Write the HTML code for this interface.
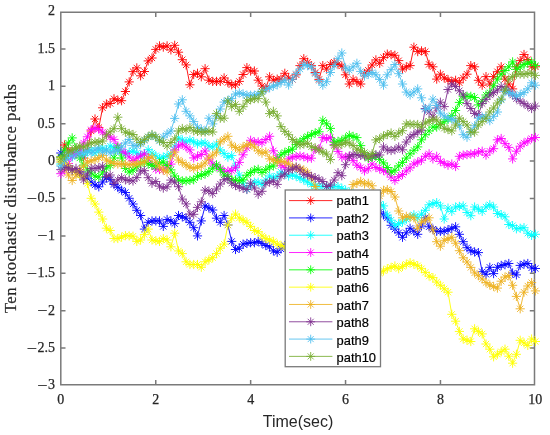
<!DOCTYPE html>
<html><head><meta charset="utf-8"><title>Ten stochastic disturbance paths</title>
<style>
html,body{margin:0;padding:0;background:#fff;}
body{width:550px;height:435px;overflow:hidden;}
svg{display:block;}
.tk{font-family:"Liberation Serif",serif;font-size:14px;fill:#262626;stroke:#262626;stroke-width:0.25px;}
.lg{font-family:"Liberation Sans",sans-serif;font-size:12.9px;fill:#000;stroke:#000;stroke-width:0.2px;}
</style></head><body>
<svg width="550" height="435" viewBox="0 0 550 435">
<rect width="550" height="435" fill="#fff"/>

<g stroke="#7a7a7a" stroke-width="1.5" fill="none">
<path d="M60.8 384.8H534.5V12.2H60.8Z"/>
<path d="M155.75 384.8v-4.7M155.75 12.2v4.7M250.65 384.8v-4.7M250.65 12.2v4.7M345.55 384.8v-4.7M345.55 12.2v4.7M440.45 384.8v-4.7M440.45 12.2v4.7M60.8 48.90h4.7M534.5 48.90h-4.7M60.8 86.30h4.7M534.5 86.30h-4.7M60.8 123.70h4.7M534.5 123.70h-4.7M60.8 161.10h4.7M534.5 161.10h-4.7M60.8 198.50h4.7M534.5 198.50h-4.7M60.8 235.90h4.7M534.5 235.90h-4.7M60.8 273.30h4.7M534.5 273.30h-4.7M60.8 310.70h4.7M534.5 310.70h-4.7M60.8 348.10h4.7M534.5 348.10h-4.7"/>
</g>
<g fill="none" stroke-linejoin="round">
<polyline points="60.9,157.0 64.6,145.0 68.4,150.0 72.2,152.0 76.0,153.6 79.8,155.0 83.6,158.0 87.4,150.0 91.2,131.0 95.0,119.0 98.8,127.6 102.6,107.8 106.4,104.0 110.2,103.5 114.0,98.8 117.8,100.3 121.6,100.7 125.4,91.5 129.2,81.9 133.0,71.6 136.8,67.9 140.6,75.8 144.4,71.5 148.2,60.9 152.0,58.0 155.8,49.4 159.5,45.9 163.3,47.1 167.1,45.9 170.9,49.9 174.7,45.3 178.5,52.2 182.3,59.7 186.1,64.9 189.9,84.8 193.7,74.5 197.5,73.3 201.3,76.8 205.1,68.7 208.9,80.2 212.7,81.4 216.5,81.4 220.3,81.4 224.1,77.9 227.9,82.5 231.7,84.8 235.5,84.8 239.3,81.4 243.1,74.5 246.9,67.6 250.6,71.0 254.4,71.0 258.2,80.2 262.0,86.0 265.8,88.3 269.6,76.8 273.4,80.2 277.2,79.1 281.0,79.1 284.8,73.3 288.6,77.9 292.4,79.4 296.2,74.8 300.0,65.6 303.8,58.7 307.6,62.2 311.4,65.7 315.2,72.5 319.0,79.4 322.8,65.6 326.6,69.1 330.4,64.5 334.2,62.2 338.0,64.1 341.8,66.0 345.6,74.8 349.3,84.0 353.1,79.4 356.9,81.7 360.7,84.0 364.5,73.7 368.3,70.2 372.1,65.0 375.9,59.9 379.7,63.3 383.5,57.6 387.3,54.1 391.1,54.7 394.9,55.3 398.7,60.6 402.5,69.1 406.3,66.8 410.1,65.6 413.9,47.2 417.7,51.6 421.5,50.9 425.3,51.6 429.1,64.4 432.9,66.8 436.7,79.1 440.4,74.2 444.2,77.9 448.0,79.7 451.8,81.5 455.6,80.3 459.4,82.8 463.2,77.9 467.0,74.2 470.8,65.6 474.6,66.8 478.4,80.3 482.2,85.2 486.0,76.6 489.8,84.0 493.6,76.6 497.4,71.7 501.2,66.8 505.0,79.1 508.8,84.0 512.6,88.9 516.4,66.8 520.2,60.6 524.0,54.5 527.8,59.5 531.6,66.8 535.4,66.8" stroke="#ff0000" stroke-width="0.9"/>
<path d="M60.9 152.4v9.2M56.2 157.0h9.2M57.8 153.9l6.2 6.2M57.8 160.1l6.2 -6.2M64.6 140.4v9.2M60.0 145.0h9.2M61.5 141.9l6.2 6.2M61.5 148.1l6.2 -6.2M68.4 145.4v9.2M63.8 150.0h9.2M65.3 146.9l6.2 6.2M65.3 153.1l6.2 -6.2M72.2 147.4v9.2M67.6 152.0h9.2M69.1 148.9l6.2 6.2M69.1 155.1l6.2 -6.2M76.0 149.0v9.2M71.4 153.6h9.2M72.9 150.5l6.2 6.2M72.9 156.7l6.2 -6.2M79.8 150.4v9.2M75.2 155.0h9.2M76.7 151.9l6.2 6.2M76.7 158.1l6.2 -6.2M83.6 153.4v9.2M79.0 158.0h9.2M80.5 154.9l6.2 6.2M80.5 161.1l6.2 -6.2M87.4 145.4v9.2M82.8 150.0h9.2M84.3 146.9l6.2 6.2M84.3 153.1l6.2 -6.2M91.2 126.4v9.2M86.6 131.0h9.2M88.1 127.9l6.2 6.2M88.1 134.1l6.2 -6.2M95.0 114.4v9.2M90.4 119.0h9.2M91.9 115.9l6.2 6.2M91.9 122.1l6.2 -6.2M98.8 123.0v9.2M94.2 127.6h9.2M95.7 124.5l6.2 6.2M95.7 130.7l6.2 -6.2M102.6 103.2v9.2M98.0 107.8h9.2M99.5 104.7l6.2 6.2M99.5 110.9l6.2 -6.2M106.4 99.4v9.2M101.8 104.0h9.2M103.3 100.9l6.2 6.2M103.3 107.1l6.2 -6.2M110.2 98.9v9.2M105.6 103.5h9.2M107.1 100.4l6.2 6.2M107.1 106.6l6.2 -6.2M114.0 94.2v9.2M109.4 98.8h9.2M110.9 95.7l6.2 6.2M110.9 101.9l6.2 -6.2M117.8 95.7v9.2M113.2 100.3h9.2M114.7 97.2l6.2 6.2M114.7 103.4l6.2 -6.2M121.6 96.1v9.2M117.0 100.7h9.2M118.5 97.6l6.2 6.2M118.5 103.8l6.2 -6.2M125.4 86.9v9.2M120.8 91.5h9.2M122.3 88.4l6.2 6.2M122.3 94.6l6.2 -6.2M129.2 77.3v9.2M124.6 81.9h9.2M126.1 78.8l6.2 6.2M126.1 85.0l6.2 -6.2M133.0 67.0v9.2M128.4 71.6h9.2M129.9 68.5l6.2 6.2M129.9 74.7l6.2 -6.2M136.8 63.3v9.2M132.2 67.9h9.2M133.7 64.8l6.2 6.2M133.7 71.0l6.2 -6.2M140.6 71.2v9.2M136.0 75.8h9.2M137.5 72.7l6.2 6.2M137.5 78.9l6.2 -6.2M144.4 66.9v9.2M139.8 71.5h9.2M141.3 68.4l6.2 6.2M141.3 74.6l6.2 -6.2M148.2 56.3v9.2M143.6 60.9h9.2M145.1 57.8l6.2 6.2M145.1 64.0l6.2 -6.2M152.0 53.4v9.2M147.4 58.0h9.2M148.9 54.9l6.2 6.2M148.9 61.1l6.2 -6.2M155.8 44.8v9.2M151.2 49.4h9.2M152.7 46.3l6.2 6.2M152.7 52.5l6.2 -6.2M159.5 41.3v9.2M154.9 45.9h9.2M156.4 42.8l6.2 6.2M156.4 49.0l6.2 -6.2M163.3 42.5v9.2M158.7 47.1h9.2M160.2 44.0l6.2 6.2M160.2 50.2l6.2 -6.2M167.1 41.3v9.2M162.5 45.9h9.2M164.0 42.8l6.2 6.2M164.0 49.0l6.2 -6.2M170.9 45.3v9.2M166.3 49.9h9.2M167.8 46.8l6.2 6.2M167.8 53.0l6.2 -6.2M174.7 40.7v9.2M170.1 45.3h9.2M171.6 42.2l6.2 6.2M171.6 48.4l6.2 -6.2M178.5 47.6v9.2M173.9 52.2h9.2M175.4 49.1l6.2 6.2M175.4 55.3l6.2 -6.2M182.3 55.1v9.2M177.7 59.7h9.2M179.2 56.6l6.2 6.2M179.2 62.8l6.2 -6.2M186.1 60.3v9.2M181.5 64.9h9.2M183.0 61.8l6.2 6.2M183.0 68.0l6.2 -6.2M189.9 80.2v9.2M185.3 84.8h9.2M186.8 81.7l6.2 6.2M186.8 87.9l6.2 -6.2M193.7 69.9v9.2M189.1 74.5h9.2M190.6 71.4l6.2 6.2M190.6 77.6l6.2 -6.2M197.5 68.7v9.2M192.9 73.3h9.2M194.4 70.2l6.2 6.2M194.4 76.4l6.2 -6.2M201.3 72.2v9.2M196.7 76.8h9.2M198.2 73.7l6.2 6.2M198.2 79.9l6.2 -6.2M205.1 64.1v9.2M200.5 68.7h9.2M202.0 65.6l6.2 6.2M202.0 71.8l6.2 -6.2M208.9 75.6v9.2M204.3 80.2h9.2M205.8 77.1l6.2 6.2M205.8 83.3l6.2 -6.2M212.7 76.8v9.2M208.1 81.4h9.2M209.6 78.3l6.2 6.2M209.6 84.5l6.2 -6.2M216.5 76.8v9.2M211.9 81.4h9.2M213.4 78.3l6.2 6.2M213.4 84.5l6.2 -6.2M220.3 76.8v9.2M215.7 81.4h9.2M217.2 78.3l6.2 6.2M217.2 84.5l6.2 -6.2M224.1 73.3v9.2M219.5 77.9h9.2M221.0 74.8l6.2 6.2M221.0 81.0l6.2 -6.2M227.9 77.9v9.2M223.3 82.5h9.2M224.8 79.4l6.2 6.2M224.8 85.6l6.2 -6.2M231.7 80.2v9.2M227.1 84.8h9.2M228.6 81.7l6.2 6.2M228.6 87.9l6.2 -6.2M235.5 80.2v9.2M230.9 84.8h9.2M232.4 81.7l6.2 6.2M232.4 87.9l6.2 -6.2M239.3 76.8v9.2M234.7 81.4h9.2M236.2 78.3l6.2 6.2M236.2 84.5l6.2 -6.2M243.1 69.9v9.2M238.5 74.5h9.2M240.0 71.4l6.2 6.2M240.0 77.6l6.2 -6.2M246.9 63.0v9.2M242.3 67.6h9.2M243.8 64.5l6.2 6.2M243.8 70.7l6.2 -6.2M250.6 66.4v9.2M246.0 71.0h9.2M247.5 67.9l6.2 6.2M247.5 74.1l6.2 -6.2M254.4 66.4v9.2M249.8 71.0h9.2M251.3 67.9l6.2 6.2M251.3 74.1l6.2 -6.2M258.2 75.6v9.2M253.6 80.2h9.2M255.1 77.1l6.2 6.2M255.1 83.3l6.2 -6.2M262.0 81.4v9.2M257.4 86.0h9.2M258.9 82.9l6.2 6.2M258.9 89.1l6.2 -6.2M265.8 83.7v9.2M261.2 88.3h9.2M262.7 85.2l6.2 6.2M262.7 91.4l6.2 -6.2M269.6 72.2v9.2M265.0 76.8h9.2M266.5 73.7l6.2 6.2M266.5 79.9l6.2 -6.2M273.4 75.6v9.2M268.8 80.2h9.2M270.3 77.1l6.2 6.2M270.3 83.3l6.2 -6.2M277.2 74.5v9.2M272.6 79.1h9.2M274.1 76.0l6.2 6.2M274.1 82.2l6.2 -6.2M281.0 74.5v9.2M276.4 79.1h9.2M277.9 76.0l6.2 6.2M277.9 82.2l6.2 -6.2M284.8 68.7v9.2M280.2 73.3h9.2M281.7 70.2l6.2 6.2M281.7 76.4l6.2 -6.2M288.6 73.3v9.2M284.0 77.9h9.2M285.5 74.8l6.2 6.2M285.5 81.0l6.2 -6.2M292.4 74.8v9.2M287.8 79.4h9.2M289.3 76.3l6.2 6.2M289.3 82.5l6.2 -6.2M296.2 70.2v9.2M291.6 74.8h9.2M293.1 71.7l6.2 6.2M293.1 77.9l6.2 -6.2M300.0 61.0v9.2M295.4 65.6h9.2M296.9 62.5l6.2 6.2M296.9 68.7l6.2 -6.2M303.8 54.1v9.2M299.2 58.7h9.2M300.7 55.6l6.2 6.2M300.7 61.8l6.2 -6.2M307.6 57.6v9.2M303.0 62.2h9.2M304.5 59.1l6.2 6.2M304.5 65.3l6.2 -6.2M311.4 61.1v9.2M306.8 65.7h9.2M308.3 62.6l6.2 6.2M308.3 68.8l6.2 -6.2M315.2 67.9v9.2M310.6 72.5h9.2M312.1 69.4l6.2 6.2M312.1 75.6l6.2 -6.2M319.0 74.8v9.2M314.4 79.4h9.2M315.9 76.3l6.2 6.2M315.9 82.5l6.2 -6.2M322.8 61.0v9.2M318.2 65.6h9.2M319.7 62.5l6.2 6.2M319.7 68.7l6.2 -6.2M326.6 64.5v9.2M322.0 69.1h9.2M323.5 66.0l6.2 6.2M323.5 72.2l6.2 -6.2M330.4 59.9v9.2M325.8 64.5h9.2M327.3 61.4l6.2 6.2M327.3 67.6l6.2 -6.2M334.2 57.6v9.2M329.6 62.2h9.2M331.1 59.1l6.2 6.2M331.1 65.3l6.2 -6.2M338.0 59.5v9.2M333.4 64.1h9.2M334.9 61.0l6.2 6.2M334.9 67.2l6.2 -6.2M341.8 61.4v9.2M337.2 66.0h9.2M338.7 62.9l6.2 6.2M338.7 69.1l6.2 -6.2M345.6 70.2v9.2M340.9 74.8h9.2M342.4 71.7l6.2 6.2M342.4 77.9l6.2 -6.2M349.3 79.4v9.2M344.7 84.0h9.2M346.2 80.9l6.2 6.2M346.2 87.1l6.2 -6.2M353.1 74.8v9.2M348.5 79.4h9.2M350.0 76.3l6.2 6.2M350.0 82.5l6.2 -6.2M356.9 77.1v9.2M352.3 81.7h9.2M353.8 78.6l6.2 6.2M353.8 84.8l6.2 -6.2M360.7 79.4v9.2M356.1 84.0h9.2M357.6 80.9l6.2 6.2M357.6 87.1l6.2 -6.2M364.5 69.1v9.2M359.9 73.7h9.2M361.4 70.6l6.2 6.2M361.4 76.8l6.2 -6.2M368.3 65.6v9.2M363.7 70.2h9.2M365.2 67.1l6.2 6.2M365.2 73.3l6.2 -6.2M372.1 60.4v9.2M367.5 65.0h9.2M369.0 61.9l6.2 6.2M369.0 68.1l6.2 -6.2M375.9 55.3v9.2M371.3 59.9h9.2M372.8 56.8l6.2 6.2M372.8 63.0l6.2 -6.2M379.7 58.7v9.2M375.1 63.3h9.2M376.6 60.2l6.2 6.2M376.6 66.4l6.2 -6.2M383.5 53.0v9.2M378.9 57.6h9.2M380.4 54.5l6.2 6.2M380.4 60.7l6.2 -6.2M387.3 49.5v9.2M382.7 54.1h9.2M384.2 51.0l6.2 6.2M384.2 57.2l6.2 -6.2M391.1 50.1v9.2M386.5 54.7h9.2M388.0 51.6l6.2 6.2M388.0 57.8l6.2 -6.2M394.9 50.7v9.2M390.3 55.3h9.2M391.8 52.2l6.2 6.2M391.8 58.4l6.2 -6.2M398.7 56.0v9.2M394.1 60.6h9.2M395.6 57.5l6.2 6.2M395.6 63.8l6.2 -6.2M402.5 64.5v9.2M397.9 69.1h9.2M399.4 66.0l6.2 6.2M399.4 72.2l6.2 -6.2M406.3 62.2v9.2M401.7 66.8h9.2M403.2 63.7l6.2 6.2M403.2 69.9l6.2 -6.2M410.1 61.0v9.2M405.5 65.6h9.2M407.0 62.5l6.2 6.2M407.0 68.7l6.2 -6.2M413.9 42.6v9.2M409.3 47.2h9.2M410.8 44.1l6.2 6.2M410.8 50.3l6.2 -6.2M417.7 47.0v9.2M413.1 51.6h9.2M414.6 48.5l6.2 6.2M414.6 54.7l6.2 -6.2M421.5 46.3v9.2M416.9 50.9h9.2M418.4 47.8l6.2 6.2M418.4 54.0l6.2 -6.2M425.3 47.0v9.2M420.7 51.6h9.2M422.2 48.5l6.2 6.2M422.2 54.7l6.2 -6.2M429.1 59.8v9.2M424.5 64.4h9.2M426.0 61.3l6.2 6.2M426.0 67.5l6.2 -6.2M432.9 62.2v9.2M428.3 66.8h9.2M429.8 63.7l6.2 6.2M429.8 69.9l6.2 -6.2M436.7 74.5v9.2M432.1 79.1h9.2M433.6 76.0l6.2 6.2M433.6 82.2l6.2 -6.2M440.4 69.6v9.2M435.8 74.2h9.2M437.3 71.1l6.2 6.2M437.3 77.3l6.2 -6.2M444.2 73.3v9.2M439.6 77.9h9.2M441.1 74.8l6.2 6.2M441.1 81.0l6.2 -6.2M448.0 75.1v9.2M443.4 79.7h9.2M444.9 76.6l6.2 6.2M444.9 82.8l6.2 -6.2M451.8 76.9v9.2M447.2 81.5h9.2M448.7 78.4l6.2 6.2M448.7 84.6l6.2 -6.2M455.6 75.7v9.2M451.0 80.3h9.2M452.5 77.2l6.2 6.2M452.5 83.4l6.2 -6.2M459.4 78.2v9.2M454.8 82.8h9.2M456.3 79.7l6.2 6.2M456.3 85.9l6.2 -6.2M463.2 73.3v9.2M458.6 77.9h9.2M460.1 74.8l6.2 6.2M460.1 81.0l6.2 -6.2M467.0 69.6v9.2M462.4 74.2h9.2M463.9 71.1l6.2 6.2M463.9 77.3l6.2 -6.2M470.8 61.0v9.2M466.2 65.6h9.2M467.7 62.5l6.2 6.2M467.7 68.7l6.2 -6.2M474.6 62.2v9.2M470.0 66.8h9.2M471.5 63.7l6.2 6.2M471.5 69.9l6.2 -6.2M478.4 75.7v9.2M473.8 80.3h9.2M475.3 77.2l6.2 6.2M475.3 83.4l6.2 -6.2M482.2 80.6v9.2M477.6 85.2h9.2M479.1 82.1l6.2 6.2M479.1 88.3l6.2 -6.2M486.0 72.0v9.2M481.4 76.6h9.2M482.9 73.5l6.2 6.2M482.9 79.7l6.2 -6.2M489.8 79.4v9.2M485.2 84.0h9.2M486.7 80.9l6.2 6.2M486.7 87.1l6.2 -6.2M493.6 72.0v9.2M489.0 76.6h9.2M490.5 73.5l6.2 6.2M490.5 79.7l6.2 -6.2M497.4 67.1v9.2M492.8 71.7h9.2M494.3 68.6l6.2 6.2M494.3 74.8l6.2 -6.2M501.2 62.2v9.2M496.6 66.8h9.2M498.1 63.7l6.2 6.2M498.1 69.9l6.2 -6.2M505.0 74.5v9.2M500.4 79.1h9.2M501.9 76.0l6.2 6.2M501.9 82.2l6.2 -6.2M508.8 79.4v9.2M504.2 84.0h9.2M505.7 80.9l6.2 6.2M505.7 87.1l6.2 -6.2M512.6 84.3v9.2M508.0 88.9h9.2M509.5 85.8l6.2 6.2M509.5 92.0l6.2 -6.2M516.4 62.2v9.2M511.8 66.8h9.2M513.3 63.7l6.2 6.2M513.3 69.9l6.2 -6.2M520.2 56.0v9.2M515.6 60.6h9.2M517.1 57.5l6.2 6.2M517.1 63.8l6.2 -6.2M524.0 49.9v9.2M519.4 54.5h9.2M520.9 51.4l6.2 6.2M520.9 57.6l6.2 -6.2M527.8 54.9v9.2M523.2 59.5h9.2M524.7 56.4l6.2 6.2M524.7 62.6l6.2 -6.2M531.6 62.2v9.2M527.0 66.8h9.2M528.5 63.7l6.2 6.2M528.5 69.9l6.2 -6.2M535.4 62.2v9.2M530.8 66.8h9.2M532.2 63.7l6.2 6.2M532.2 69.9l6.2 -6.2" stroke="#ff0000" stroke-width="0.9"/>
<polyline points="60.9,153.0 64.6,160.0 68.4,166.0 72.2,170.0 76.0,172.0 79.8,174.0 83.6,176.0 87.4,178.0 91.2,182.0 95.0,185.0 98.8,186.8 102.6,182.0 106.4,177.6 110.2,179.4 114.0,184.5 117.8,187.3 121.6,190.2 125.4,192.5 129.2,198.3 133.0,204.0 136.8,210.3 140.6,215.5 144.4,229.1 148.2,222.3 152.0,220.9 155.8,220.9 159.5,220.9 163.3,226.4 167.1,219.5 170.9,221.0 174.7,223.6 178.5,215.5 182.3,216.8 186.1,218.2 189.9,222.3 193.7,227.7 197.5,235.9 201.3,220.9 205.1,205.9 208.9,207.9 212.7,210.0 216.5,218.2 220.3,222.3 224.1,215.5 227.9,225.0 231.7,241.4 235.5,249.5 239.3,248.2 243.1,244.1 246.9,243.4 250.6,242.7 254.4,242.7 258.2,241.4 262.0,243.4 265.8,245.5 269.6,246.8 273.4,250.9 277.2,252.3 281.0,248.9 284.8,245.5 288.6,244.1 292.4,242.8 296.2,241.4 300.0,240.0 303.8,238.4 307.6,236.8 311.4,235.2 315.2,233.6 319.0,232.0 322.8,231.3 326.6,230.7 330.4,230.0 334.2,229.3 338.0,228.7 341.8,228.0 345.6,226.8 349.3,225.6 353.1,224.4 356.9,223.2 360.7,222.0 364.5,220.0 368.3,218.0 372.1,215.9 375.9,213.9 379.7,211.9 383.5,214.9 387.3,218.0 391.1,225.3 394.9,229.1 398.7,232.8 402.5,237.3 406.3,232.8 410.1,228.3 413.9,231.3 417.7,234.3 421.5,226.0 425.3,217.8 429.1,226.8 432.9,229.1 436.7,231.3 440.4,231.3 444.2,231.3 448.0,229.8 451.8,228.3 455.6,226.8 459.4,234.3 463.2,241.7 467.0,247.7 470.8,250.7 474.6,252.0 478.4,252.6 482.2,271.7 486.0,274.3 489.8,267.3 493.6,273.6 497.4,267.3 501.2,265.4 505.0,264.7 508.8,263.5 512.6,273.0 516.4,274.9 520.2,265.4 524.0,264.1 527.8,263.5 531.6,267.9 535.4,268.5" stroke="#0000ff" stroke-width="0.9"/>
<path d="M60.9 148.4v9.2M56.2 153.0h9.2M57.8 149.9l6.2 6.2M57.8 156.1l6.2 -6.2M64.6 155.4v9.2M60.0 160.0h9.2M61.5 156.9l6.2 6.2M61.5 163.1l6.2 -6.2M68.4 161.4v9.2M63.8 166.0h9.2M65.3 162.9l6.2 6.2M65.3 169.1l6.2 -6.2M72.2 165.4v9.2M67.6 170.0h9.2M69.1 166.9l6.2 6.2M69.1 173.1l6.2 -6.2M76.0 167.4v9.2M71.4 172.0h9.2M72.9 168.9l6.2 6.2M72.9 175.1l6.2 -6.2M79.8 169.4v9.2M75.2 174.0h9.2M76.7 170.9l6.2 6.2M76.7 177.1l6.2 -6.2M83.6 171.4v9.2M79.0 176.0h9.2M80.5 172.9l6.2 6.2M80.5 179.1l6.2 -6.2M87.4 173.4v9.2M82.8 178.0h9.2M84.3 174.9l6.2 6.2M84.3 181.1l6.2 -6.2M91.2 177.4v9.2M86.6 182.0h9.2M88.1 178.9l6.2 6.2M88.1 185.1l6.2 -6.2M95.0 180.4v9.2M90.4 185.0h9.2M91.9 181.9l6.2 6.2M91.9 188.1l6.2 -6.2M98.8 182.2v9.2M94.2 186.8h9.2M95.7 183.7l6.2 6.2M95.7 189.9l6.2 -6.2M102.6 177.4v9.2M98.0 182.0h9.2M99.5 178.9l6.2 6.2M99.5 185.1l6.2 -6.2M106.4 173.0v9.2M101.8 177.6h9.2M103.3 174.5l6.2 6.2M103.3 180.7l6.2 -6.2M110.2 174.8v9.2M105.6 179.4h9.2M107.1 176.3l6.2 6.2M107.1 182.5l6.2 -6.2M114.0 179.9v9.2M109.4 184.5h9.2M110.9 181.4l6.2 6.2M110.9 187.6l6.2 -6.2M117.8 182.8v9.2M113.2 187.3h9.2M114.7 184.2l6.2 6.2M114.7 190.4l6.2 -6.2M121.6 185.6v9.2M117.0 190.2h9.2M118.5 187.1l6.2 6.2M118.5 193.3l6.2 -6.2M125.4 187.9v9.2M120.8 192.5h9.2M122.3 189.4l6.2 6.2M122.3 195.6l6.2 -6.2M129.2 193.7v9.2M124.6 198.3h9.2M126.1 195.2l6.2 6.2M126.1 201.4l6.2 -6.2M133.0 199.4v9.2M128.4 204.0h9.2M129.9 200.9l6.2 6.2M129.9 207.1l6.2 -6.2M136.8 205.8v9.2M132.2 210.3h9.2M133.7 207.2l6.2 6.2M133.7 213.4l6.2 -6.2M140.6 210.9v9.2M136.0 215.5h9.2M137.5 212.4l6.2 6.2M137.5 218.6l6.2 -6.2M144.4 224.5v9.2M139.8 229.1h9.2M141.3 226.0l6.2 6.2M141.3 232.2l6.2 -6.2M148.2 217.7v9.2M143.6 222.3h9.2M145.1 219.2l6.2 6.2M145.1 225.4l6.2 -6.2M152.0 216.3v9.2M147.4 220.9h9.2M148.9 217.8l6.2 6.2M148.9 224.0l6.2 -6.2M155.8 216.3v9.2M151.2 220.9h9.2M152.7 217.8l6.2 6.2M152.7 224.0l6.2 -6.2M159.5 216.3v9.2M154.9 220.9h9.2M156.4 217.8l6.2 6.2M156.4 224.0l6.2 -6.2M163.3 221.8v9.2M158.7 226.4h9.2M160.2 223.3l6.2 6.2M160.2 229.5l6.2 -6.2M167.1 214.9v9.2M162.5 219.5h9.2M164.0 216.4l6.2 6.2M164.0 222.6l6.2 -6.2M170.9 216.4v9.2M166.3 221.0h9.2M167.8 217.9l6.2 6.2M167.8 224.1l6.2 -6.2M174.7 219.0v9.2M170.1 223.6h9.2M171.6 220.5l6.2 6.2M171.6 226.7l6.2 -6.2M178.5 210.9v9.2M173.9 215.5h9.2M175.4 212.4l6.2 6.2M175.4 218.6l6.2 -6.2M182.3 212.2v9.2M177.7 216.8h9.2M179.2 213.8l6.2 6.2M179.2 219.9l6.2 -6.2M186.1 213.6v9.2M181.5 218.2h9.2M183.0 215.1l6.2 6.2M183.0 221.3l6.2 -6.2M189.9 217.7v9.2M185.3 222.3h9.2M186.8 219.2l6.2 6.2M186.8 225.4l6.2 -6.2M193.7 223.1v9.2M189.1 227.7h9.2M190.6 224.6l6.2 6.2M190.6 230.8l6.2 -6.2M197.5 231.3v9.2M192.9 235.9h9.2M194.4 232.8l6.2 6.2M194.4 239.0l6.2 -6.2M201.3 216.3v9.2M196.7 220.9h9.2M198.2 217.8l6.2 6.2M198.2 224.0l6.2 -6.2M205.1 201.3v9.2M200.5 205.9h9.2M202.0 202.8l6.2 6.2M202.0 209.0l6.2 -6.2M208.9 203.3v9.2M204.3 207.9h9.2M205.8 204.8l6.2 6.2M205.8 211.0l6.2 -6.2M212.7 205.4v9.2M208.1 210.0h9.2M209.6 206.9l6.2 6.2M209.6 213.1l6.2 -6.2M216.5 213.6v9.2M211.9 218.2h9.2M213.4 215.1l6.2 6.2M213.4 221.3l6.2 -6.2M220.3 217.7v9.2M215.7 222.3h9.2M217.2 219.2l6.2 6.2M217.2 225.4l6.2 -6.2M224.1 210.9v9.2M219.5 215.5h9.2M221.0 212.4l6.2 6.2M221.0 218.6l6.2 -6.2M227.9 220.4v9.2M223.3 225.0h9.2M224.8 221.9l6.2 6.2M224.8 228.1l6.2 -6.2M231.7 236.8v9.2M227.1 241.4h9.2M228.6 238.3l6.2 6.2M228.6 244.5l6.2 -6.2M235.5 244.9v9.2M230.9 249.5h9.2M232.4 246.4l6.2 6.2M232.4 252.6l6.2 -6.2M239.3 243.6v9.2M234.7 248.2h9.2M236.2 245.1l6.2 6.2M236.2 251.3l6.2 -6.2M243.1 239.5v9.2M238.5 244.1h9.2M240.0 241.0l6.2 6.2M240.0 247.2l6.2 -6.2M246.9 238.8v9.2M242.3 243.4h9.2M243.8 240.3l6.2 6.2M243.8 246.5l6.2 -6.2M250.6 238.1v9.2M246.0 242.7h9.2M247.5 239.6l6.2 6.2M247.5 245.8l6.2 -6.2M254.4 238.1v9.2M249.8 242.7h9.2M251.3 239.6l6.2 6.2M251.3 245.8l6.2 -6.2M258.2 236.8v9.2M253.6 241.4h9.2M255.1 238.3l6.2 6.2M255.1 244.5l6.2 -6.2M262.0 238.8v9.2M257.4 243.4h9.2M258.9 240.3l6.2 6.2M258.9 246.5l6.2 -6.2M265.8 240.9v9.2M261.2 245.5h9.2M262.7 242.4l6.2 6.2M262.7 248.6l6.2 -6.2M269.6 242.2v9.2M265.0 246.8h9.2M266.5 243.7l6.2 6.2M266.5 249.9l6.2 -6.2M273.4 246.3v9.2M268.8 250.9h9.2M270.3 247.8l6.2 6.2M270.3 254.0l6.2 -6.2M277.2 247.7v9.2M272.6 252.3h9.2M274.1 249.2l6.2 6.2M274.1 255.4l6.2 -6.2M281.0 244.3v9.2M276.4 248.9h9.2M277.9 245.8l6.2 6.2M277.9 252.0l6.2 -6.2M284.8 240.9v9.2M280.2 245.5h9.2M281.7 242.4l6.2 6.2M281.7 248.6l6.2 -6.2M288.6 239.5v9.2M284.0 244.1h9.2M285.5 241.0l6.2 6.2M285.5 247.2l6.2 -6.2M292.4 238.2v9.2M287.8 242.8h9.2M289.3 239.7l6.2 6.2M289.3 245.8l6.2 -6.2M296.2 236.8v9.2M291.6 241.4h9.2M293.1 238.3l6.2 6.2M293.1 244.5l6.2 -6.2M300.0 235.4v9.2M295.4 240.0h9.2M296.9 236.9l6.2 6.2M296.9 243.1l6.2 -6.2M303.8 233.8v9.2M299.2 238.4h9.2M300.7 235.3l6.2 6.2M300.7 241.5l6.2 -6.2M307.6 232.2v9.2M303.0 236.8h9.2M304.5 233.7l6.2 6.2M304.5 239.9l6.2 -6.2M311.4 230.6v9.2M306.8 235.2h9.2M308.3 232.1l6.2 6.2M308.3 238.3l6.2 -6.2M315.2 229.0v9.2M310.6 233.6h9.2M312.1 230.5l6.2 6.2M312.1 236.7l6.2 -6.2M319.0 227.4v9.2M314.4 232.0h9.2M315.9 228.9l6.2 6.2M315.9 235.1l6.2 -6.2M322.8 226.7v9.2M318.2 231.3h9.2M319.7 228.2l6.2 6.2M319.7 234.4l6.2 -6.2M326.6 226.1v9.2M322.0 230.7h9.2M323.5 227.6l6.2 6.2M323.5 233.8l6.2 -6.2M330.4 225.4v9.2M325.8 230.0h9.2M327.3 226.9l6.2 6.2M327.3 233.1l6.2 -6.2M334.2 224.7v9.2M329.6 229.3h9.2M331.1 226.2l6.2 6.2M331.1 232.4l6.2 -6.2M338.0 224.1v9.2M333.4 228.7h9.2M334.9 225.6l6.2 6.2M334.9 231.8l6.2 -6.2M341.8 223.4v9.2M337.2 228.0h9.2M338.7 224.9l6.2 6.2M338.7 231.1l6.2 -6.2M345.6 222.2v9.2M340.9 226.8h9.2M342.4 223.7l6.2 6.2M342.4 229.9l6.2 -6.2M349.3 221.0v9.2M344.7 225.6h9.2M346.2 222.5l6.2 6.2M346.2 228.7l6.2 -6.2M353.1 219.8v9.2M348.5 224.4h9.2M350.0 221.3l6.2 6.2M350.0 227.5l6.2 -6.2M356.9 218.6v9.2M352.3 223.2h9.2M353.8 220.1l6.2 6.2M353.8 226.3l6.2 -6.2M360.7 217.4v9.2M356.1 222.0h9.2M357.6 218.9l6.2 6.2M357.6 225.1l6.2 -6.2M364.5 215.4v9.2M359.9 220.0h9.2M361.4 216.9l6.2 6.2M361.4 223.1l6.2 -6.2M368.3 213.4v9.2M363.7 218.0h9.2M365.2 214.9l6.2 6.2M365.2 221.1l6.2 -6.2M372.1 211.3v9.2M367.5 215.9h9.2M369.0 212.8l6.2 6.2M369.0 219.0l6.2 -6.2M375.9 209.3v9.2M371.3 213.9h9.2M372.8 210.8l6.2 6.2M372.8 217.0l6.2 -6.2M379.7 207.3v9.2M375.1 211.9h9.2M376.6 208.8l6.2 6.2M376.6 215.0l6.2 -6.2M383.5 210.3v9.2M378.9 214.9h9.2M380.4 211.8l6.2 6.2M380.4 218.0l6.2 -6.2M387.3 213.4v9.2M382.7 218.0h9.2M384.2 214.9l6.2 6.2M384.2 221.1l6.2 -6.2M391.1 220.7v9.2M386.5 225.3h9.2M388.0 222.2l6.2 6.2M388.0 228.4l6.2 -6.2M394.9 224.5v9.2M390.3 229.1h9.2M391.8 226.0l6.2 6.2M391.8 232.2l6.2 -6.2M398.7 228.2v9.2M394.1 232.8h9.2M395.6 229.7l6.2 6.2M395.6 235.9l6.2 -6.2M402.5 232.7v9.2M397.9 237.3h9.2M399.4 234.2l6.2 6.2M399.4 240.4l6.2 -6.2M406.3 228.2v9.2M401.7 232.8h9.2M403.2 229.7l6.2 6.2M403.2 235.9l6.2 -6.2M410.1 223.7v9.2M405.5 228.3h9.2M407.0 225.2l6.2 6.2M407.0 231.4l6.2 -6.2M413.9 226.7v9.2M409.3 231.3h9.2M410.8 228.2l6.2 6.2M410.8 234.4l6.2 -6.2M417.7 229.7v9.2M413.1 234.3h9.2M414.6 231.2l6.2 6.2M414.6 237.4l6.2 -6.2M421.5 221.4v9.2M416.9 226.0h9.2M418.4 222.9l6.2 6.2M418.4 229.1l6.2 -6.2M425.3 213.2v9.2M420.7 217.8h9.2M422.2 214.7l6.2 6.2M422.2 220.9l6.2 -6.2M429.1 222.2v9.2M424.5 226.8h9.2M426.0 223.7l6.2 6.2M426.0 229.9l6.2 -6.2M432.9 224.5v9.2M428.3 229.1h9.2M429.8 226.0l6.2 6.2M429.8 232.2l6.2 -6.2M436.7 226.7v9.2M432.1 231.3h9.2M433.6 228.2l6.2 6.2M433.6 234.4l6.2 -6.2M440.4 226.7v9.2M435.8 231.3h9.2M437.3 228.2l6.2 6.2M437.3 234.4l6.2 -6.2M444.2 226.7v9.2M439.6 231.3h9.2M441.1 228.2l6.2 6.2M441.1 234.4l6.2 -6.2M448.0 225.2v9.2M443.4 229.8h9.2M444.9 226.7l6.2 6.2M444.9 232.9l6.2 -6.2M451.8 223.7v9.2M447.2 228.3h9.2M448.7 225.2l6.2 6.2M448.7 231.4l6.2 -6.2M455.6 222.2v9.2M451.0 226.8h9.2M452.5 223.7l6.2 6.2M452.5 229.9l6.2 -6.2M459.4 229.7v9.2M454.8 234.3h9.2M456.3 231.2l6.2 6.2M456.3 237.4l6.2 -6.2M463.2 237.1v9.2M458.6 241.7h9.2M460.1 238.6l6.2 6.2M460.1 244.8l6.2 -6.2M467.0 243.1v9.2M462.4 247.7h9.2M463.9 244.6l6.2 6.2M463.9 250.8l6.2 -6.2M470.8 246.1v9.2M466.2 250.7h9.2M467.7 247.6l6.2 6.2M467.7 253.8l6.2 -6.2M474.6 247.4v9.2M470.0 252.0h9.2M471.5 248.9l6.2 6.2M471.5 255.1l6.2 -6.2M478.4 248.0v9.2M473.8 252.6h9.2M475.3 249.5l6.2 6.2M475.3 255.7l6.2 -6.2M482.2 267.1v9.2M477.6 271.7h9.2M479.1 268.6l6.2 6.2M479.1 274.8l6.2 -6.2M486.0 269.7v9.2M481.4 274.3h9.2M482.9 271.2l6.2 6.2M482.9 277.4l6.2 -6.2M489.8 262.7v9.2M485.2 267.3h9.2M486.7 264.2l6.2 6.2M486.7 270.4l6.2 -6.2M493.6 269.0v9.2M489.0 273.6h9.2M490.5 270.5l6.2 6.2M490.5 276.7l6.2 -6.2M497.4 262.7v9.2M492.8 267.3h9.2M494.3 264.2l6.2 6.2M494.3 270.4l6.2 -6.2M501.2 260.8v9.2M496.6 265.4h9.2M498.1 262.3l6.2 6.2M498.1 268.5l6.2 -6.2M505.0 260.1v9.2M500.4 264.7h9.2M501.9 261.6l6.2 6.2M501.9 267.8l6.2 -6.2M508.8 258.9v9.2M504.2 263.5h9.2M505.7 260.4l6.2 6.2M505.7 266.6l6.2 -6.2M512.6 268.4v9.2M508.0 273.0h9.2M509.5 269.9l6.2 6.2M509.5 276.1l6.2 -6.2M516.4 270.3v9.2M511.8 274.9h9.2M513.3 271.8l6.2 6.2M513.3 278.0l6.2 -6.2M520.2 260.8v9.2M515.6 265.4h9.2M517.1 262.3l6.2 6.2M517.1 268.5l6.2 -6.2M524.0 259.5v9.2M519.4 264.1h9.2M520.9 261.0l6.2 6.2M520.9 267.2l6.2 -6.2M527.8 258.9v9.2M523.2 263.5h9.2M524.7 260.4l6.2 6.2M524.7 266.6l6.2 -6.2M531.6 263.3v9.2M527.0 267.9h9.2M528.5 264.8l6.2 6.2M528.5 271.0l6.2 -6.2M535.4 263.9v9.2M530.8 268.5h9.2M532.2 265.4l6.2 6.2M532.2 271.6l6.2 -6.2" stroke="#0000ff" stroke-width="0.9"/>
<polyline points="60.9,164.0 64.6,158.0 68.4,155.0 72.2,157.0 76.0,154.0 79.8,152.0 83.6,155.0 87.4,152.0 91.2,150.0 95.0,153.0 98.8,150.0 102.6,148.0 106.4,150.0 110.2,146.0 114.0,148.0 117.8,150.0 121.6,152.0 125.4,154.1 129.2,152.0 133.0,151.0 136.8,153.0 140.6,155.0 144.4,154.1 148.2,149.7 152.0,153.0 155.8,155.8 159.5,158.5 163.3,157.0 167.1,156.0 170.9,154.0 174.7,147.0 178.5,138.0 182.3,140.0 186.1,142.0 189.9,140.0 193.7,141.8 197.5,144.0 201.3,143.0 205.1,143.0 208.9,146.0 212.7,147.0 216.5,144.1 220.3,150.0 224.1,153.6 227.9,157.2 231.7,155.6 235.5,166.0 239.3,175.2 243.1,183.2 246.9,189.0 250.6,185.6 254.4,182.2 258.2,182.1 262.0,184.6 265.8,180.0 269.6,176.0 273.4,178.0 277.2,176.0 281.0,172.0 284.8,174.0 288.6,176.0 292.4,175.0 296.2,176.4 300.0,178.2 303.8,180.0 307.6,182.0 311.4,184.4 315.2,186.0 319.0,186.2 322.8,186.5 326.6,186.8 330.4,187.0 334.2,186.8 338.0,186.5 341.8,188.3 345.6,190.2 349.3,192.0 353.1,193.5 356.9,195.0 360.7,196.5 364.5,198.0 368.3,199.6 372.1,201.2 375.9,202.7 379.7,204.3 383.5,205.9 387.3,215.0 391.1,220.2 394.9,225.3 398.7,223.7 402.5,222.0 406.3,219.3 410.1,217.1 413.9,214.8 417.7,217.8 421.5,214.1 425.3,210.3 429.1,204.8 432.9,203.7 436.7,202.6 440.4,205.9 444.2,219.0 448.0,208.1 451.8,211.4 455.6,207.0 459.4,206.4 463.2,205.9 467.0,212.5 470.8,215.7 474.6,207.0 478.4,209.2 482.2,211.4 486.0,207.0 489.8,204.8 493.6,207.0 497.4,213.5 501.2,214.6 505.0,216.8 508.8,224.5 512.6,225.6 516.4,228.8 520.2,228.2 524.0,227.7 527.8,233.2 531.6,235.4 535.4,234.3" stroke="#00ffff" stroke-width="0.9"/>
<path d="M60.9 159.4v9.2M56.2 164.0h9.2M57.8 160.9l6.2 6.2M57.8 167.1l6.2 -6.2M64.6 153.4v9.2M60.0 158.0h9.2M61.5 154.9l6.2 6.2M61.5 161.1l6.2 -6.2M68.4 150.4v9.2M63.8 155.0h9.2M65.3 151.9l6.2 6.2M65.3 158.1l6.2 -6.2M72.2 152.4v9.2M67.6 157.0h9.2M69.1 153.9l6.2 6.2M69.1 160.1l6.2 -6.2M76.0 149.4v9.2M71.4 154.0h9.2M72.9 150.9l6.2 6.2M72.9 157.1l6.2 -6.2M79.8 147.4v9.2M75.2 152.0h9.2M76.7 148.9l6.2 6.2M76.7 155.1l6.2 -6.2M83.6 150.4v9.2M79.0 155.0h9.2M80.5 151.9l6.2 6.2M80.5 158.1l6.2 -6.2M87.4 147.4v9.2M82.8 152.0h9.2M84.3 148.9l6.2 6.2M84.3 155.1l6.2 -6.2M91.2 145.4v9.2M86.6 150.0h9.2M88.1 146.9l6.2 6.2M88.1 153.1l6.2 -6.2M95.0 148.4v9.2M90.4 153.0h9.2M91.9 149.9l6.2 6.2M91.9 156.1l6.2 -6.2M98.8 145.4v9.2M94.2 150.0h9.2M95.7 146.9l6.2 6.2M95.7 153.1l6.2 -6.2M102.6 143.4v9.2M98.0 148.0h9.2M99.5 144.9l6.2 6.2M99.5 151.1l6.2 -6.2M106.4 145.4v9.2M101.8 150.0h9.2M103.3 146.9l6.2 6.2M103.3 153.1l6.2 -6.2M110.2 141.4v9.2M105.6 146.0h9.2M107.1 142.9l6.2 6.2M107.1 149.1l6.2 -6.2M114.0 143.4v9.2M109.4 148.0h9.2M110.9 144.9l6.2 6.2M110.9 151.1l6.2 -6.2M117.8 145.4v9.2M113.2 150.0h9.2M114.7 146.9l6.2 6.2M114.7 153.1l6.2 -6.2M121.6 147.4v9.2M117.0 152.0h9.2M118.5 148.9l6.2 6.2M118.5 155.1l6.2 -6.2M125.4 149.5v9.2M120.8 154.1h9.2M122.3 151.0l6.2 6.2M122.3 157.2l6.2 -6.2M129.2 147.4v9.2M124.6 152.0h9.2M126.1 148.9l6.2 6.2M126.1 155.1l6.2 -6.2M133.0 146.4v9.2M128.4 151.0h9.2M129.9 147.9l6.2 6.2M129.9 154.1l6.2 -6.2M136.8 148.4v9.2M132.2 153.0h9.2M133.7 149.9l6.2 6.2M133.7 156.1l6.2 -6.2M140.6 150.4v9.2M136.0 155.0h9.2M137.5 151.9l6.2 6.2M137.5 158.1l6.2 -6.2M144.4 149.5v9.2M139.8 154.1h9.2M141.3 151.0l6.2 6.2M141.3 157.2l6.2 -6.2M148.2 145.1v9.2M143.6 149.7h9.2M145.1 146.6l6.2 6.2M145.1 152.8l6.2 -6.2M152.0 148.4v9.2M147.4 153.0h9.2M148.9 149.9l6.2 6.2M148.9 156.1l6.2 -6.2M155.8 151.2v9.2M151.2 155.8h9.2M152.7 152.7l6.2 6.2M152.7 158.8l6.2 -6.2M159.5 153.9v9.2M154.9 158.5h9.2M156.4 155.4l6.2 6.2M156.4 161.6l6.2 -6.2M163.3 152.4v9.2M158.7 157.0h9.2M160.2 153.9l6.2 6.2M160.2 160.1l6.2 -6.2M167.1 151.4v9.2M162.5 156.0h9.2M164.0 152.9l6.2 6.2M164.0 159.1l6.2 -6.2M170.9 149.4v9.2M166.3 154.0h9.2M167.8 150.9l6.2 6.2M167.8 157.1l6.2 -6.2M174.7 142.4v9.2M170.1 147.0h9.2M171.6 143.9l6.2 6.2M171.6 150.1l6.2 -6.2M178.5 133.4v9.2M173.9 138.0h9.2M175.4 134.9l6.2 6.2M175.4 141.1l6.2 -6.2M182.3 135.4v9.2M177.7 140.0h9.2M179.2 136.9l6.2 6.2M179.2 143.1l6.2 -6.2M186.1 137.4v9.2M181.5 142.0h9.2M183.0 138.9l6.2 6.2M183.0 145.1l6.2 -6.2M189.9 135.4v9.2M185.3 140.0h9.2M186.8 136.9l6.2 6.2M186.8 143.1l6.2 -6.2M193.7 137.2v9.2M189.1 141.8h9.2M190.6 138.7l6.2 6.2M190.6 144.9l6.2 -6.2M197.5 139.4v9.2M192.9 144.0h9.2M194.4 140.9l6.2 6.2M194.4 147.1l6.2 -6.2M201.3 138.4v9.2M196.7 143.0h9.2M198.2 139.9l6.2 6.2M198.2 146.1l6.2 -6.2M205.1 138.4v9.2M200.5 143.0h9.2M202.0 139.9l6.2 6.2M202.0 146.1l6.2 -6.2M208.9 141.4v9.2M204.3 146.0h9.2M205.8 142.9l6.2 6.2M205.8 149.1l6.2 -6.2M212.7 142.4v9.2M208.1 147.0h9.2M209.6 143.9l6.2 6.2M209.6 150.1l6.2 -6.2M216.5 139.5v9.2M211.9 144.1h9.2M213.4 141.0l6.2 6.2M213.4 147.2l6.2 -6.2M220.3 145.4v9.2M215.7 150.0h9.2M217.2 146.9l6.2 6.2M217.2 153.1l6.2 -6.2M224.1 149.0v9.2M219.5 153.6h9.2M221.0 150.5l6.2 6.2M221.0 156.7l6.2 -6.2M227.9 152.6v9.2M223.3 157.2h9.2M224.8 154.1l6.2 6.2M224.8 160.3l6.2 -6.2M231.7 151.0v9.2M227.1 155.6h9.2M228.6 152.5l6.2 6.2M228.6 158.7l6.2 -6.2M235.5 161.4v9.2M230.9 166.0h9.2M232.4 162.9l6.2 6.2M232.4 169.1l6.2 -6.2M239.3 170.6v9.2M234.7 175.2h9.2M236.2 172.1l6.2 6.2M236.2 178.3l6.2 -6.2M243.1 178.6v9.2M238.5 183.2h9.2M240.0 180.1l6.2 6.2M240.0 186.3l6.2 -6.2M246.9 184.4v9.2M242.3 189.0h9.2M243.8 185.9l6.2 6.2M243.8 192.1l6.2 -6.2M250.6 181.0v9.2M246.0 185.6h9.2M247.5 182.5l6.2 6.2M247.5 188.7l6.2 -6.2M254.4 177.6v9.2M249.8 182.2h9.2M251.3 179.1l6.2 6.2M251.3 185.3l6.2 -6.2M258.2 177.5v9.2M253.6 182.1h9.2M255.1 179.0l6.2 6.2M255.1 185.2l6.2 -6.2M262.0 180.0v9.2M257.4 184.6h9.2M258.9 181.5l6.2 6.2M258.9 187.7l6.2 -6.2M265.8 175.4v9.2M261.2 180.0h9.2M262.7 176.9l6.2 6.2M262.7 183.1l6.2 -6.2M269.6 171.4v9.2M265.0 176.0h9.2M266.5 172.9l6.2 6.2M266.5 179.1l6.2 -6.2M273.4 173.4v9.2M268.8 178.0h9.2M270.3 174.9l6.2 6.2M270.3 181.1l6.2 -6.2M277.2 171.4v9.2M272.6 176.0h9.2M274.1 172.9l6.2 6.2M274.1 179.1l6.2 -6.2M281.0 167.4v9.2M276.4 172.0h9.2M277.9 168.9l6.2 6.2M277.9 175.1l6.2 -6.2M284.8 169.4v9.2M280.2 174.0h9.2M281.7 170.9l6.2 6.2M281.7 177.1l6.2 -6.2M288.6 171.4v9.2M284.0 176.0h9.2M285.5 172.9l6.2 6.2M285.5 179.1l6.2 -6.2M292.4 170.4v9.2M287.8 175.0h9.2M289.3 171.9l6.2 6.2M289.3 178.1l6.2 -6.2M296.2 171.8v9.2M291.6 176.4h9.2M293.1 173.3l6.2 6.2M293.1 179.5l6.2 -6.2M300.0 173.6v9.2M295.4 178.2h9.2M296.9 175.1l6.2 6.2M296.9 181.3l6.2 -6.2M303.8 175.4v9.2M299.2 180.0h9.2M300.7 176.9l6.2 6.2M300.7 183.1l6.2 -6.2M307.6 177.4v9.2M303.0 182.0h9.2M304.5 178.9l6.2 6.2M304.5 185.1l6.2 -6.2M311.4 179.8v9.2M306.8 184.4h9.2M308.3 181.3l6.2 6.2M308.3 187.5l6.2 -6.2M315.2 181.4v9.2M310.6 186.0h9.2M312.1 182.9l6.2 6.2M312.1 189.1l6.2 -6.2M319.0 181.7v9.2M314.4 186.2h9.2M315.9 183.2l6.2 6.2M315.9 189.3l6.2 -6.2M322.8 181.9v9.2M318.2 186.5h9.2M319.7 183.4l6.2 6.2M319.7 189.6l6.2 -6.2M326.6 182.2v9.2M322.0 186.8h9.2M323.5 183.7l6.2 6.2M323.5 189.8l6.2 -6.2M330.4 182.4v9.2M325.8 187.0h9.2M327.3 183.9l6.2 6.2M327.3 190.1l6.2 -6.2M334.2 182.2v9.2M329.6 186.8h9.2M331.1 183.7l6.2 6.2M331.1 189.8l6.2 -6.2M338.0 181.9v9.2M333.4 186.5h9.2M334.9 183.4l6.2 6.2M334.9 189.6l6.2 -6.2M341.8 183.7v9.2M337.2 188.3h9.2M338.7 185.2l6.2 6.2M338.7 191.4l6.2 -6.2M345.6 185.6v9.2M340.9 190.2h9.2M342.4 187.1l6.2 6.2M342.4 193.3l6.2 -6.2M349.3 187.4v9.2M344.7 192.0h9.2M346.2 188.9l6.2 6.2M346.2 195.1l6.2 -6.2M353.1 188.9v9.2M348.5 193.5h9.2M350.0 190.4l6.2 6.2M350.0 196.6l6.2 -6.2M356.9 190.4v9.2M352.3 195.0h9.2M353.8 191.9l6.2 6.2M353.8 198.1l6.2 -6.2M360.7 191.9v9.2M356.1 196.5h9.2M357.6 193.4l6.2 6.2M357.6 199.6l6.2 -6.2M364.5 193.4v9.2M359.9 198.0h9.2M361.4 194.9l6.2 6.2M361.4 201.1l6.2 -6.2M368.3 195.0v9.2M363.7 199.6h9.2M365.2 196.5l6.2 6.2M365.2 202.7l6.2 -6.2M372.1 196.6v9.2M367.5 201.2h9.2M369.0 198.1l6.2 6.2M369.0 204.3l6.2 -6.2M375.9 198.1v9.2M371.3 202.7h9.2M372.8 199.6l6.2 6.2M372.8 205.8l6.2 -6.2M379.7 199.7v9.2M375.1 204.3h9.2M376.6 201.2l6.2 6.2M376.6 207.4l6.2 -6.2M383.5 201.3v9.2M378.9 205.9h9.2M380.4 202.8l6.2 6.2M380.4 209.0l6.2 -6.2M387.3 210.4v9.2M382.7 215.0h9.2M384.2 211.9l6.2 6.2M384.2 218.1l6.2 -6.2M391.1 215.6v9.2M386.5 220.2h9.2M388.0 217.1l6.2 6.2M388.0 223.2l6.2 -6.2M394.9 220.7v9.2M390.3 225.3h9.2M391.8 222.2l6.2 6.2M391.8 228.4l6.2 -6.2M398.7 219.1v9.2M394.1 223.7h9.2M395.6 220.6l6.2 6.2M395.6 226.8l6.2 -6.2M402.5 217.4v9.2M397.9 222.0h9.2M399.4 218.9l6.2 6.2M399.4 225.1l6.2 -6.2M406.3 214.7v9.2M401.7 219.3h9.2M403.2 216.2l6.2 6.2M403.2 222.4l6.2 -6.2M410.1 212.5v9.2M405.5 217.1h9.2M407.0 214.0l6.2 6.2M407.0 220.2l6.2 -6.2M413.9 210.2v9.2M409.3 214.8h9.2M410.8 211.7l6.2 6.2M410.8 217.9l6.2 -6.2M417.7 213.2v9.2M413.1 217.8h9.2M414.6 214.7l6.2 6.2M414.6 220.9l6.2 -6.2M421.5 209.5v9.2M416.9 214.1h9.2M418.4 211.0l6.2 6.2M418.4 217.2l6.2 -6.2M425.3 205.7v9.2M420.7 210.3h9.2M422.2 207.2l6.2 6.2M422.2 213.4l6.2 -6.2M429.1 200.2v9.2M424.5 204.8h9.2M426.0 201.7l6.2 6.2M426.0 207.9l6.2 -6.2M432.9 199.1v9.2M428.3 203.7h9.2M429.8 200.6l6.2 6.2M429.8 206.8l6.2 -6.2M436.7 198.0v9.2M432.1 202.6h9.2M433.6 199.5l6.2 6.2M433.6 205.7l6.2 -6.2M440.4 201.3v9.2M435.8 205.9h9.2M437.3 202.8l6.2 6.2M437.3 209.0l6.2 -6.2M444.2 214.4v9.2M439.6 219.0h9.2M441.1 215.9l6.2 6.2M441.1 222.1l6.2 -6.2M448.0 203.5v9.2M443.4 208.1h9.2M444.9 205.0l6.2 6.2M444.9 211.2l6.2 -6.2M451.8 206.8v9.2M447.2 211.4h9.2M448.7 208.3l6.2 6.2M448.7 214.5l6.2 -6.2M455.6 202.4v9.2M451.0 207.0h9.2M452.5 203.9l6.2 6.2M452.5 210.1l6.2 -6.2M459.4 201.8v9.2M454.8 206.4h9.2M456.3 203.3l6.2 6.2M456.3 209.5l6.2 -6.2M463.2 201.3v9.2M458.6 205.9h9.2M460.1 202.8l6.2 6.2M460.1 209.0l6.2 -6.2M467.0 207.9v9.2M462.4 212.5h9.2M463.9 209.4l6.2 6.2M463.9 215.6l6.2 -6.2M470.8 211.1v9.2M466.2 215.7h9.2M467.7 212.6l6.2 6.2M467.7 218.8l6.2 -6.2M474.6 202.4v9.2M470.0 207.0h9.2M471.5 203.9l6.2 6.2M471.5 210.1l6.2 -6.2M478.4 204.6v9.2M473.8 209.2h9.2M475.3 206.1l6.2 6.2M475.3 212.3l6.2 -6.2M482.2 206.8v9.2M477.6 211.4h9.2M479.1 208.3l6.2 6.2M479.1 214.5l6.2 -6.2M486.0 202.4v9.2M481.4 207.0h9.2M482.9 203.9l6.2 6.2M482.9 210.1l6.2 -6.2M489.8 200.2v9.2M485.2 204.8h9.2M486.7 201.7l6.2 6.2M486.7 207.9l6.2 -6.2M493.6 202.4v9.2M489.0 207.0h9.2M490.5 203.9l6.2 6.2M490.5 210.1l6.2 -6.2M497.4 208.9v9.2M492.8 213.5h9.2M494.3 210.4l6.2 6.2M494.3 216.6l6.2 -6.2M501.2 210.0v9.2M496.6 214.6h9.2M498.1 211.5l6.2 6.2M498.1 217.7l6.2 -6.2M505.0 212.2v9.2M500.4 216.8h9.2M501.9 213.7l6.2 6.2M501.9 219.9l6.2 -6.2M508.8 219.9v9.2M504.2 224.5h9.2M505.7 221.4l6.2 6.2M505.7 227.6l6.2 -6.2M512.6 221.0v9.2M508.0 225.6h9.2M509.5 222.5l6.2 6.2M509.5 228.7l6.2 -6.2M516.4 224.2v9.2M511.8 228.8h9.2M513.3 225.7l6.2 6.2M513.3 231.9l6.2 -6.2M520.2 223.7v9.2M515.6 228.2h9.2M517.1 225.2l6.2 6.2M517.1 231.3l6.2 -6.2M524.0 223.1v9.2M519.4 227.7h9.2M520.9 224.6l6.2 6.2M520.9 230.8l6.2 -6.2M527.8 228.6v9.2M523.2 233.2h9.2M524.7 230.1l6.2 6.2M524.7 236.3l6.2 -6.2M531.6 230.8v9.2M527.0 235.4h9.2M528.5 232.3l6.2 6.2M528.5 238.5l6.2 -6.2M535.4 229.7v9.2M530.8 234.3h9.2M532.2 231.2l6.2 6.2M532.2 237.4l6.2 -6.2" stroke="#00ffff" stroke-width="0.9"/>
<polyline points="60.9,173.7 64.6,170.0 68.4,163.5 72.2,156.0 76.0,153.0 79.8,150.0 83.6,143.0 87.4,136.8 91.2,129.8 95.0,128.2 98.8,129.2 102.6,132.2 106.4,134.5 110.2,137.0 114.0,139.4 117.8,146.0 121.6,151.0 125.4,153.2 129.2,157.0 133.0,160.5 136.8,158.0 140.6,156.0 144.4,153.9 148.2,158.0 152.0,165.0 155.8,169.2 159.5,169.5 163.3,169.9 167.1,167.0 170.9,164.1 174.7,150.0 178.5,146.0 182.3,144.1 186.1,147.0 189.9,149.9 193.7,157.9 197.5,156.2 201.3,154.5 205.1,151.0 208.9,159.1 212.7,164.0 216.5,166.2 220.3,168.3 224.1,171.7 227.9,171.1 231.7,170.6 235.5,167.7 239.3,162.4 243.1,154.8 246.9,148.0 250.6,140.3 254.4,142.0 258.2,141.9 262.0,142.7 265.8,139.5 269.6,136.3 273.4,150.8 277.2,158.0 281.0,165.3 284.8,167.7 288.6,158.9 292.4,157.0 296.2,156.5 300.0,156.0 303.8,156.7 307.6,158.0 311.4,158.2 315.2,149.5 319.0,148.7 322.8,137.6 326.6,138.7 330.4,137.6 334.2,144.5 338.0,151.4 341.8,157.1 345.6,157.1 349.3,156.0 353.1,160.6 356.9,165.2 360.7,167.5 364.5,170.9 368.3,168.6 372.1,164.0 375.9,167.5 379.7,169.0 383.5,170.6 387.3,172.1 391.1,177.1 394.9,180.5 398.7,176.7 402.5,174.5 406.3,171.0 410.1,167.8 413.9,164.0 417.7,162.1 421.5,160.2 425.3,156.3 429.1,153.8 432.9,158.9 436.7,156.3 440.4,161.4 444.2,163.3 448.0,165.2 451.8,164.0 455.6,166.5 459.4,156.3 463.2,155.1 467.0,154.6 470.8,154.0 474.6,153.8 478.4,152.0 482.2,151.2 486.0,155.1 489.8,151.2 493.6,148.7 497.4,139.8 501.2,138.5 505.0,143.6 508.8,147.4 512.6,158.9 516.4,151.2 520.2,146.2 524.0,143.0 527.8,141.1 531.6,138.5 535.4,137.5" stroke="#ff00ff" stroke-width="0.9"/>
<path d="M60.9 169.1v9.2M56.2 173.7h9.2M57.8 170.6l6.2 6.2M57.8 176.8l6.2 -6.2M64.6 165.4v9.2M60.0 170.0h9.2M61.5 166.9l6.2 6.2M61.5 173.1l6.2 -6.2M68.4 158.9v9.2M63.8 163.5h9.2M65.3 160.4l6.2 6.2M65.3 166.6l6.2 -6.2M72.2 151.4v9.2M67.6 156.0h9.2M69.1 152.9l6.2 6.2M69.1 159.1l6.2 -6.2M76.0 148.4v9.2M71.4 153.0h9.2M72.9 149.9l6.2 6.2M72.9 156.1l6.2 -6.2M79.8 145.4v9.2M75.2 150.0h9.2M76.7 146.9l6.2 6.2M76.7 153.1l6.2 -6.2M83.6 138.4v9.2M79.0 143.0h9.2M80.5 139.9l6.2 6.2M80.5 146.1l6.2 -6.2M87.4 132.2v9.2M82.8 136.8h9.2M84.3 133.7l6.2 6.2M84.3 139.9l6.2 -6.2M91.2 125.2v9.2M86.6 129.8h9.2M88.1 126.7l6.2 6.2M88.1 132.9l6.2 -6.2M95.0 123.6v9.2M90.4 128.2h9.2M91.9 125.1l6.2 6.2M91.9 131.3l6.2 -6.2M98.8 124.7v9.2M94.2 129.2h9.2M95.7 126.2l6.2 6.2M95.7 132.3l6.2 -6.2M102.6 127.6v9.2M98.0 132.2h9.2M99.5 129.1l6.2 6.2M99.5 135.3l6.2 -6.2M106.4 129.9v9.2M101.8 134.5h9.2M103.3 131.4l6.2 6.2M103.3 137.6l6.2 -6.2M110.2 132.4v9.2M105.6 137.0h9.2M107.1 133.9l6.2 6.2M107.1 140.1l6.2 -6.2M114.0 134.8v9.2M109.4 139.4h9.2M110.9 136.3l6.2 6.2M110.9 142.5l6.2 -6.2M117.8 141.4v9.2M113.2 146.0h9.2M114.7 142.9l6.2 6.2M114.7 149.1l6.2 -6.2M121.6 146.4v9.2M117.0 151.0h9.2M118.5 147.9l6.2 6.2M118.5 154.1l6.2 -6.2M125.4 148.6v9.2M120.8 153.2h9.2M122.3 150.1l6.2 6.2M122.3 156.3l6.2 -6.2M129.2 152.4v9.2M124.6 157.0h9.2M126.1 153.9l6.2 6.2M126.1 160.1l6.2 -6.2M133.0 155.9v9.2M128.4 160.5h9.2M129.9 157.4l6.2 6.2M129.9 163.6l6.2 -6.2M136.8 153.4v9.2M132.2 158.0h9.2M133.7 154.9l6.2 6.2M133.7 161.1l6.2 -6.2M140.6 151.4v9.2M136.0 156.0h9.2M137.5 152.9l6.2 6.2M137.5 159.1l6.2 -6.2M144.4 149.3v9.2M139.8 153.9h9.2M141.3 150.8l6.2 6.2M141.3 157.0l6.2 -6.2M148.2 153.4v9.2M143.6 158.0h9.2M145.1 154.9l6.2 6.2M145.1 161.1l6.2 -6.2M152.0 160.4v9.2M147.4 165.0h9.2M148.9 161.9l6.2 6.2M148.9 168.1l6.2 -6.2M155.8 164.6v9.2M151.2 169.2h9.2M152.7 166.1l6.2 6.2M152.7 172.3l6.2 -6.2M159.5 164.9v9.2M154.9 169.5h9.2M156.4 166.4l6.2 6.2M156.4 172.6l6.2 -6.2M163.3 165.3v9.2M158.7 169.9h9.2M160.2 166.8l6.2 6.2M160.2 173.0l6.2 -6.2M167.1 162.4v9.2M162.5 167.0h9.2M164.0 163.9l6.2 6.2M164.0 170.1l6.2 -6.2M170.9 159.5v9.2M166.3 164.1h9.2M167.8 161.0l6.2 6.2M167.8 167.2l6.2 -6.2M174.7 145.4v9.2M170.1 150.0h9.2M171.6 146.9l6.2 6.2M171.6 153.1l6.2 -6.2M178.5 141.4v9.2M173.9 146.0h9.2M175.4 142.9l6.2 6.2M175.4 149.1l6.2 -6.2M182.3 139.5v9.2M177.7 144.1h9.2M179.2 141.0l6.2 6.2M179.2 147.2l6.2 -6.2M186.1 142.4v9.2M181.5 147.0h9.2M183.0 143.9l6.2 6.2M183.0 150.1l6.2 -6.2M189.9 145.3v9.2M185.3 149.9h9.2M186.8 146.8l6.2 6.2M186.8 153.0l6.2 -6.2M193.7 153.3v9.2M189.1 157.9h9.2M190.6 154.8l6.2 6.2M190.6 161.0l6.2 -6.2M197.5 151.6v9.2M192.9 156.2h9.2M194.4 153.1l6.2 6.2M194.4 159.3l6.2 -6.2M201.3 149.9v9.2M196.7 154.5h9.2M198.2 151.4l6.2 6.2M198.2 157.6l6.2 -6.2M205.1 146.4v9.2M200.5 151.0h9.2M202.0 147.9l6.2 6.2M202.0 154.1l6.2 -6.2M208.9 154.5v9.2M204.3 159.1h9.2M205.8 156.0l6.2 6.2M205.8 162.2l6.2 -6.2M212.7 159.4v9.2M208.1 164.0h9.2M209.6 160.9l6.2 6.2M209.6 167.1l6.2 -6.2M216.5 161.6v9.2M211.9 166.2h9.2M213.4 163.1l6.2 6.2M213.4 169.2l6.2 -6.2M220.3 163.7v9.2M215.7 168.3h9.2M217.2 165.2l6.2 6.2M217.2 171.4l6.2 -6.2M224.1 167.1v9.2M219.5 171.7h9.2M221.0 168.6l6.2 6.2M221.0 174.8l6.2 -6.2M227.9 166.5v9.2M223.3 171.1h9.2M224.8 168.0l6.2 6.2M224.8 174.2l6.2 -6.2M231.7 166.0v9.2M227.1 170.6h9.2M228.6 167.5l6.2 6.2M228.6 173.7l6.2 -6.2M235.5 163.1v9.2M230.9 167.7h9.2M232.4 164.6l6.2 6.2M232.4 170.8l6.2 -6.2M239.3 157.8v9.2M234.7 162.4h9.2M236.2 159.3l6.2 6.2M236.2 165.5l6.2 -6.2M243.1 150.2v9.2M238.5 154.8h9.2M240.0 151.7l6.2 6.2M240.0 157.9l6.2 -6.2M246.9 143.4v9.2M242.3 148.0h9.2M243.8 144.9l6.2 6.2M243.8 151.1l6.2 -6.2M250.6 135.7v9.2M246.0 140.3h9.2M247.5 137.2l6.2 6.2M247.5 143.4l6.2 -6.2M254.4 137.4v9.2M249.8 142.0h9.2M251.3 138.9l6.2 6.2M251.3 145.1l6.2 -6.2M258.2 137.3v9.2M253.6 141.9h9.2M255.1 138.8l6.2 6.2M255.1 145.0l6.2 -6.2M262.0 138.1v9.2M257.4 142.7h9.2M258.9 139.6l6.2 6.2M258.9 145.8l6.2 -6.2M265.8 134.9v9.2M261.2 139.5h9.2M262.7 136.4l6.2 6.2M262.7 142.6l6.2 -6.2M269.6 131.7v9.2M265.0 136.3h9.2M266.5 133.2l6.2 6.2M266.5 139.4l6.2 -6.2M273.4 146.2v9.2M268.8 150.8h9.2M270.3 147.7l6.2 6.2M270.3 153.9l6.2 -6.2M277.2 153.4v9.2M272.6 158.0h9.2M274.1 154.9l6.2 6.2M274.1 161.1l6.2 -6.2M281.0 160.7v9.2M276.4 165.3h9.2M277.9 162.2l6.2 6.2M277.9 168.4l6.2 -6.2M284.8 163.1v9.2M280.2 167.7h9.2M281.7 164.6l6.2 6.2M281.7 170.8l6.2 -6.2M288.6 154.3v9.2M284.0 158.9h9.2M285.5 155.8l6.2 6.2M285.5 162.0l6.2 -6.2M292.4 152.4v9.2M287.8 157.0h9.2M289.3 153.9l6.2 6.2M289.3 160.1l6.2 -6.2M296.2 151.9v9.2M291.6 156.5h9.2M293.1 153.4l6.2 6.2M293.1 159.6l6.2 -6.2M300.0 151.4v9.2M295.4 156.0h9.2M296.9 152.9l6.2 6.2M296.9 159.1l6.2 -6.2M303.8 152.1v9.2M299.2 156.7h9.2M300.7 153.6l6.2 6.2M300.7 159.8l6.2 -6.2M307.6 153.4v9.2M303.0 158.0h9.2M304.5 154.9l6.2 6.2M304.5 161.1l6.2 -6.2M311.4 153.6v9.2M306.8 158.2h9.2M308.3 155.1l6.2 6.2M308.3 161.3l6.2 -6.2M315.2 144.9v9.2M310.6 149.5h9.2M312.1 146.4l6.2 6.2M312.1 152.6l6.2 -6.2M319.0 144.1v9.2M314.4 148.7h9.2M315.9 145.6l6.2 6.2M315.9 151.8l6.2 -6.2M322.8 133.0v9.2M318.2 137.6h9.2M319.7 134.5l6.2 6.2M319.7 140.7l6.2 -6.2M326.6 134.1v9.2M322.0 138.7h9.2M323.5 135.6l6.2 6.2M323.5 141.8l6.2 -6.2M330.4 133.0v9.2M325.8 137.6h9.2M327.3 134.5l6.2 6.2M327.3 140.7l6.2 -6.2M334.2 139.9v9.2M329.6 144.5h9.2M331.1 141.4l6.2 6.2M331.1 147.6l6.2 -6.2M338.0 146.8v9.2M333.4 151.4h9.2M334.9 148.3l6.2 6.2M334.9 154.5l6.2 -6.2M341.8 152.5v9.2M337.2 157.1h9.2M338.7 154.0l6.2 6.2M338.7 160.2l6.2 -6.2M345.6 152.5v9.2M340.9 157.1h9.2M342.4 154.0l6.2 6.2M342.4 160.2l6.2 -6.2M349.3 151.4v9.2M344.7 156.0h9.2M346.2 152.9l6.2 6.2M346.2 159.1l6.2 -6.2M353.1 156.0v9.2M348.5 160.6h9.2M350.0 157.5l6.2 6.2M350.0 163.7l6.2 -6.2M356.9 160.6v9.2M352.3 165.2h9.2M353.8 162.1l6.2 6.2M353.8 168.3l6.2 -6.2M360.7 162.9v9.2M356.1 167.5h9.2M357.6 164.4l6.2 6.2M357.6 170.6l6.2 -6.2M364.5 166.3v9.2M359.9 170.9h9.2M361.4 167.8l6.2 6.2M361.4 174.0l6.2 -6.2M368.3 164.0v9.2M363.7 168.6h9.2M365.2 165.5l6.2 6.2M365.2 171.7l6.2 -6.2M372.1 159.4v9.2M367.5 164.0h9.2M369.0 160.9l6.2 6.2M369.0 167.1l6.2 -6.2M375.9 162.9v9.2M371.3 167.5h9.2M372.8 164.4l6.2 6.2M372.8 170.6l6.2 -6.2M379.7 164.4v9.2M375.1 169.0h9.2M376.6 165.9l6.2 6.2M376.6 172.1l6.2 -6.2M383.5 166.0v9.2M378.9 170.6h9.2M380.4 167.5l6.2 6.2M380.4 173.7l6.2 -6.2M387.3 167.5v9.2M382.7 172.1h9.2M384.2 169.0l6.2 6.2M384.2 175.2l6.2 -6.2M391.1 172.5v9.2M386.5 177.1h9.2M388.0 174.0l6.2 6.2M388.0 180.2l6.2 -6.2M394.9 175.9v9.2M390.3 180.5h9.2M391.8 177.4l6.2 6.2M391.8 183.6l6.2 -6.2M398.7 172.1v9.2M394.1 176.7h9.2M395.6 173.6l6.2 6.2M395.6 179.8l6.2 -6.2M402.5 169.9v9.2M397.9 174.5h9.2M399.4 171.4l6.2 6.2M399.4 177.6l6.2 -6.2M406.3 166.4v9.2M401.7 171.0h9.2M403.2 167.9l6.2 6.2M403.2 174.1l6.2 -6.2M410.1 163.2v9.2M405.5 167.8h9.2M407.0 164.7l6.2 6.2M407.0 170.9l6.2 -6.2M413.9 159.4v9.2M409.3 164.0h9.2M410.8 160.9l6.2 6.2M410.8 167.1l6.2 -6.2M417.7 157.5v9.2M413.1 162.1h9.2M414.6 159.0l6.2 6.2M414.6 165.2l6.2 -6.2M421.5 155.6v9.2M416.9 160.2h9.2M418.4 157.1l6.2 6.2M418.4 163.3l6.2 -6.2M425.3 151.7v9.2M420.7 156.3h9.2M422.2 153.2l6.2 6.2M422.2 159.4l6.2 -6.2M429.1 149.2v9.2M424.5 153.8h9.2M426.0 150.7l6.2 6.2M426.0 156.9l6.2 -6.2M432.9 154.3v9.2M428.3 158.9h9.2M429.8 155.8l6.2 6.2M429.8 162.0l6.2 -6.2M436.7 151.7v9.2M432.1 156.3h9.2M433.6 153.2l6.2 6.2M433.6 159.4l6.2 -6.2M440.4 156.8v9.2M435.8 161.4h9.2M437.3 158.3l6.2 6.2M437.3 164.5l6.2 -6.2M444.2 158.7v9.2M439.6 163.3h9.2M441.1 160.2l6.2 6.2M441.1 166.4l6.2 -6.2M448.0 160.6v9.2M443.4 165.2h9.2M444.9 162.1l6.2 6.2M444.9 168.3l6.2 -6.2M451.8 159.4v9.2M447.2 164.0h9.2M448.7 160.9l6.2 6.2M448.7 167.1l6.2 -6.2M455.6 161.9v9.2M451.0 166.5h9.2M452.5 163.4l6.2 6.2M452.5 169.6l6.2 -6.2M459.4 151.7v9.2M454.8 156.3h9.2M456.3 153.2l6.2 6.2M456.3 159.4l6.2 -6.2M463.2 150.5v9.2M458.6 155.1h9.2M460.1 152.0l6.2 6.2M460.1 158.2l6.2 -6.2M467.0 150.0v9.2M462.4 154.6h9.2M463.9 151.5l6.2 6.2M463.9 157.7l6.2 -6.2M470.8 149.4v9.2M466.2 154.0h9.2M467.7 150.9l6.2 6.2M467.7 157.1l6.2 -6.2M474.6 149.2v9.2M470.0 153.8h9.2M471.5 150.7l6.2 6.2M471.5 156.9l6.2 -6.2M478.4 147.4v9.2M473.8 152.0h9.2M475.3 148.9l6.2 6.2M475.3 155.1l6.2 -6.2M482.2 146.6v9.2M477.6 151.2h9.2M479.1 148.1l6.2 6.2M479.1 154.3l6.2 -6.2M486.0 150.5v9.2M481.4 155.1h9.2M482.9 152.0l6.2 6.2M482.9 158.2l6.2 -6.2M489.8 146.6v9.2M485.2 151.2h9.2M486.7 148.1l6.2 6.2M486.7 154.3l6.2 -6.2M493.6 144.1v9.2M489.0 148.7h9.2M490.5 145.6l6.2 6.2M490.5 151.8l6.2 -6.2M497.4 135.2v9.2M492.8 139.8h9.2M494.3 136.7l6.2 6.2M494.3 142.9l6.2 -6.2M501.2 133.9v9.2M496.6 138.5h9.2M498.1 135.4l6.2 6.2M498.1 141.6l6.2 -6.2M505.0 139.0v9.2M500.4 143.6h9.2M501.9 140.5l6.2 6.2M501.9 146.7l6.2 -6.2M508.8 142.8v9.2M504.2 147.4h9.2M505.7 144.3l6.2 6.2M505.7 150.5l6.2 -6.2M512.6 154.3v9.2M508.0 158.9h9.2M509.5 155.8l6.2 6.2M509.5 162.0l6.2 -6.2M516.4 146.6v9.2M511.8 151.2h9.2M513.3 148.1l6.2 6.2M513.3 154.3l6.2 -6.2M520.2 141.6v9.2M515.6 146.2h9.2M517.1 143.1l6.2 6.2M517.1 149.3l6.2 -6.2M524.0 138.4v9.2M519.4 143.0h9.2M520.9 139.9l6.2 6.2M520.9 146.1l6.2 -6.2M527.8 136.5v9.2M523.2 141.1h9.2M524.7 138.0l6.2 6.2M524.7 144.2l6.2 -6.2M531.6 133.9v9.2M527.0 138.5h9.2M528.5 135.4l6.2 6.2M528.5 141.6l6.2 -6.2M535.4 132.9v9.2M530.8 137.5h9.2M532.2 134.4l6.2 6.2M532.2 140.6l6.2 -6.2" stroke="#ff00ff" stroke-width="0.9"/>
<polyline points="60.9,157.0 64.6,150.0 68.4,143.0 72.2,137.9 76.0,148.0 79.8,158.0 83.6,165.0 87.4,170.0 91.2,173.0 95.0,176.0 98.8,177.2 102.6,172.0 106.4,168.0 110.2,165.5 114.0,158.0 117.8,147.4 121.6,158.0 125.4,168.5 129.2,172.0 133.0,170.0 136.8,167.0 140.6,164.0 144.4,161.2 148.2,164.0 152.0,165.2 155.8,166.3 159.5,163.0 163.3,162.0 167.1,165.5 170.9,169.9 174.7,176.0 178.5,180.0 182.3,180.9 186.1,180.9 189.9,180.4 193.7,179.8 197.5,176.3 201.3,175.2 205.1,174.0 208.9,171.7 212.7,168.2 216.5,164.8 220.3,169.4 224.1,175.0 227.9,176.3 231.7,179.8 235.5,180.4 239.3,180.9 243.1,179.8 246.9,175.2 250.6,172.5 254.4,170.0 258.2,169.3 262.0,172.5 265.8,169.7 269.6,166.9 273.4,166.0 277.2,160.0 281.0,154.8 284.8,152.4 288.6,150.8 292.4,149.2 296.2,144.5 300.0,141.6 303.8,138.7 307.6,136.4 311.4,134.7 315.2,133.0 319.0,131.8 322.8,120.3 326.6,123.8 330.4,128.4 334.2,142.2 338.0,141.3 341.8,140.4 345.6,137.9 349.3,135.3 353.1,136.4 356.9,137.6 360.7,145.6 364.5,154.3 368.3,158.3 372.1,157.2 375.9,156.0 379.7,159.4 383.5,162.9 387.3,167.5 391.1,172.1 394.9,170.2 398.7,165.9 402.5,162.4 406.3,158.1 410.1,153.8 413.9,150.3 417.7,146.9 421.5,139.8 425.3,134.7 429.1,130.9 432.9,127.1 436.7,127.1 440.4,124.0 444.2,121.7 448.0,119.4 451.8,115.6 455.6,110.5 459.4,102.4 463.2,96.3 467.0,96.3 470.8,96.3 474.6,97.5 478.4,104.9 482.2,101.2 486.0,95.0 489.8,92.6 493.6,85.8 497.4,79.1 501.2,74.2 505.0,70.5 508.8,66.8 512.6,61.9 516.4,69.3 520.2,67.0 524.0,64.4 527.8,63.2 531.6,61.9 535.4,65.6" stroke="#00ff00" stroke-width="0.9"/>
<path d="M60.9 152.4v9.2M56.2 157.0h9.2M57.8 153.9l6.2 6.2M57.8 160.1l6.2 -6.2M64.6 145.4v9.2M60.0 150.0h9.2M61.5 146.9l6.2 6.2M61.5 153.1l6.2 -6.2M68.4 138.4v9.2M63.8 143.0h9.2M65.3 139.9l6.2 6.2M65.3 146.1l6.2 -6.2M72.2 133.3v9.2M67.6 137.9h9.2M69.1 134.8l6.2 6.2M69.1 141.0l6.2 -6.2M76.0 143.4v9.2M71.4 148.0h9.2M72.9 144.9l6.2 6.2M72.9 151.1l6.2 -6.2M79.8 153.4v9.2M75.2 158.0h9.2M76.7 154.9l6.2 6.2M76.7 161.1l6.2 -6.2M83.6 160.4v9.2M79.0 165.0h9.2M80.5 161.9l6.2 6.2M80.5 168.1l6.2 -6.2M87.4 165.4v9.2M82.8 170.0h9.2M84.3 166.9l6.2 6.2M84.3 173.1l6.2 -6.2M91.2 168.4v9.2M86.6 173.0h9.2M88.1 169.9l6.2 6.2M88.1 176.1l6.2 -6.2M95.0 171.4v9.2M90.4 176.0h9.2M91.9 172.9l6.2 6.2M91.9 179.1l6.2 -6.2M98.8 172.6v9.2M94.2 177.2h9.2M95.7 174.1l6.2 6.2M95.7 180.3l6.2 -6.2M102.6 167.4v9.2M98.0 172.0h9.2M99.5 168.9l6.2 6.2M99.5 175.1l6.2 -6.2M106.4 163.4v9.2M101.8 168.0h9.2M103.3 164.9l6.2 6.2M103.3 171.1l6.2 -6.2M110.2 160.9v9.2M105.6 165.5h9.2M107.1 162.4l6.2 6.2M107.1 168.6l6.2 -6.2M114.0 153.4v9.2M109.4 158.0h9.2M110.9 154.9l6.2 6.2M110.9 161.1l6.2 -6.2M117.8 142.8v9.2M113.2 147.4h9.2M114.7 144.3l6.2 6.2M114.7 150.5l6.2 -6.2M121.6 153.4v9.2M117.0 158.0h9.2M118.5 154.9l6.2 6.2M118.5 161.1l6.2 -6.2M125.4 163.9v9.2M120.8 168.5h9.2M122.3 165.4l6.2 6.2M122.3 171.6l6.2 -6.2M129.2 167.4v9.2M124.6 172.0h9.2M126.1 168.9l6.2 6.2M126.1 175.1l6.2 -6.2M133.0 165.4v9.2M128.4 170.0h9.2M129.9 166.9l6.2 6.2M129.9 173.1l6.2 -6.2M136.8 162.4v9.2M132.2 167.0h9.2M133.7 163.9l6.2 6.2M133.7 170.1l6.2 -6.2M140.6 159.4v9.2M136.0 164.0h9.2M137.5 160.9l6.2 6.2M137.5 167.1l6.2 -6.2M144.4 156.6v9.2M139.8 161.2h9.2M141.3 158.1l6.2 6.2M141.3 164.3l6.2 -6.2M148.2 159.4v9.2M143.6 164.0h9.2M145.1 160.9l6.2 6.2M145.1 167.1l6.2 -6.2M152.0 160.6v9.2M147.4 165.2h9.2M148.9 162.1l6.2 6.2M148.9 168.2l6.2 -6.2M155.8 161.7v9.2M151.2 166.3h9.2M152.7 163.2l6.2 6.2M152.7 169.4l6.2 -6.2M159.5 158.4v9.2M154.9 163.0h9.2M156.4 159.9l6.2 6.2M156.4 166.1l6.2 -6.2M163.3 157.4v9.2M158.7 162.0h9.2M160.2 158.9l6.2 6.2M160.2 165.1l6.2 -6.2M167.1 160.9v9.2M162.5 165.5h9.2M164.0 162.4l6.2 6.2M164.0 168.6l6.2 -6.2M170.9 165.3v9.2M166.3 169.9h9.2M167.8 166.8l6.2 6.2M167.8 173.0l6.2 -6.2M174.7 171.4v9.2M170.1 176.0h9.2M171.6 172.9l6.2 6.2M171.6 179.1l6.2 -6.2M178.5 175.4v9.2M173.9 180.0h9.2M175.4 176.9l6.2 6.2M175.4 183.1l6.2 -6.2M182.3 176.3v9.2M177.7 180.9h9.2M179.2 177.8l6.2 6.2M179.2 184.0l6.2 -6.2M186.1 176.3v9.2M181.5 180.9h9.2M183.0 177.8l6.2 6.2M183.0 184.0l6.2 -6.2M189.9 175.8v9.2M185.3 180.4h9.2M186.8 177.3l6.2 6.2M186.8 183.5l6.2 -6.2M193.7 175.2v9.2M189.1 179.8h9.2M190.6 176.7l6.2 6.2M190.6 182.9l6.2 -6.2M197.5 171.7v9.2M192.9 176.3h9.2M194.4 173.2l6.2 6.2M194.4 179.4l6.2 -6.2M201.3 170.6v9.2M196.7 175.2h9.2M198.2 172.1l6.2 6.2M198.2 178.2l6.2 -6.2M205.1 169.4v9.2M200.5 174.0h9.2M202.0 170.9l6.2 6.2M202.0 177.1l6.2 -6.2M208.9 167.1v9.2M204.3 171.7h9.2M205.8 168.6l6.2 6.2M205.8 174.8l6.2 -6.2M212.7 163.7v9.2M208.1 168.2h9.2M209.6 165.2l6.2 6.2M209.6 171.3l6.2 -6.2M216.5 160.2v9.2M211.9 164.8h9.2M213.4 161.7l6.2 6.2M213.4 167.9l6.2 -6.2M220.3 164.8v9.2M215.7 169.4h9.2M217.2 166.3l6.2 6.2M217.2 172.5l6.2 -6.2M224.1 170.4v9.2M219.5 175.0h9.2M221.0 171.9l6.2 6.2M221.0 178.1l6.2 -6.2M227.9 171.7v9.2M223.3 176.3h9.2M224.8 173.2l6.2 6.2M224.8 179.4l6.2 -6.2M231.7 175.2v9.2M227.1 179.8h9.2M228.6 176.7l6.2 6.2M228.6 182.9l6.2 -6.2M235.5 175.8v9.2M230.9 180.4h9.2M232.4 177.3l6.2 6.2M232.4 183.5l6.2 -6.2M239.3 176.3v9.2M234.7 180.9h9.2M236.2 177.8l6.2 6.2M236.2 184.0l6.2 -6.2M243.1 175.2v9.2M238.5 179.8h9.2M240.0 176.7l6.2 6.2M240.0 182.9l6.2 -6.2M246.9 170.6v9.2M242.3 175.2h9.2M243.8 172.1l6.2 6.2M243.8 178.3l6.2 -6.2M250.6 167.9v9.2M246.0 172.5h9.2M247.5 169.4l6.2 6.2M247.5 175.6l6.2 -6.2M254.4 165.4v9.2M249.8 170.0h9.2M251.3 166.9l6.2 6.2M251.3 173.1l6.2 -6.2M258.2 164.7v9.2M253.6 169.3h9.2M255.1 166.2l6.2 6.2M255.1 172.4l6.2 -6.2M262.0 167.9v9.2M257.4 172.5h9.2M258.9 169.4l6.2 6.2M258.9 175.6l6.2 -6.2M265.8 165.1v9.2M261.2 169.7h9.2M262.7 166.6l6.2 6.2M262.7 172.8l6.2 -6.2M269.6 162.3v9.2M265.0 166.9h9.2M266.5 163.8l6.2 6.2M266.5 170.0l6.2 -6.2M273.4 161.4v9.2M268.8 166.0h9.2M270.3 162.9l6.2 6.2M270.3 169.1l6.2 -6.2M277.2 155.4v9.2M272.6 160.0h9.2M274.1 156.9l6.2 6.2M274.1 163.1l6.2 -6.2M281.0 150.2v9.2M276.4 154.8h9.2M277.9 151.7l6.2 6.2M277.9 157.9l6.2 -6.2M284.8 147.8v9.2M280.2 152.4h9.2M281.7 149.3l6.2 6.2M281.7 155.5l6.2 -6.2M288.6 146.2v9.2M284.0 150.8h9.2M285.5 147.7l6.2 6.2M285.5 153.9l6.2 -6.2M292.4 144.6v9.2M287.8 149.2h9.2M289.3 146.1l6.2 6.2M289.3 152.3l6.2 -6.2M296.2 139.9v9.2M291.6 144.5h9.2M293.1 141.4l6.2 6.2M293.1 147.6l6.2 -6.2M300.0 137.0v9.2M295.4 141.6h9.2M296.9 138.5l6.2 6.2M296.9 144.7l6.2 -6.2M303.8 134.1v9.2M299.2 138.7h9.2M300.7 135.6l6.2 6.2M300.7 141.8l6.2 -6.2M307.6 131.8v9.2M303.0 136.4h9.2M304.5 133.3l6.2 6.2M304.5 139.5l6.2 -6.2M311.4 130.1v9.2M306.8 134.7h9.2M308.3 131.6l6.2 6.2M308.3 137.8l6.2 -6.2M315.2 128.4v9.2M310.6 133.0h9.2M312.1 129.9l6.2 6.2M312.1 136.1l6.2 -6.2M319.0 127.2v9.2M314.4 131.8h9.2M315.9 128.7l6.2 6.2M315.9 134.9l6.2 -6.2M322.8 115.7v9.2M318.2 120.3h9.2M319.7 117.2l6.2 6.2M319.7 123.4l6.2 -6.2M326.6 119.2v9.2M322.0 123.8h9.2M323.5 120.7l6.2 6.2M323.5 126.9l6.2 -6.2M330.4 123.8v9.2M325.8 128.4h9.2M327.3 125.3l6.2 6.2M327.3 131.5l6.2 -6.2M334.2 137.6v9.2M329.6 142.2h9.2M331.1 139.1l6.2 6.2M331.1 145.3l6.2 -6.2M338.0 136.7v9.2M333.4 141.3h9.2M334.9 138.2l6.2 6.2M334.9 144.4l6.2 -6.2M341.8 135.8v9.2M337.2 140.4h9.2M338.7 137.3l6.2 6.2M338.7 143.5l6.2 -6.2M345.6 133.3v9.2M340.9 137.9h9.2M342.4 134.8l6.2 6.2M342.4 141.0l6.2 -6.2M349.3 130.7v9.2M344.7 135.3h9.2M346.2 132.2l6.2 6.2M346.2 138.4l6.2 -6.2M353.1 131.8v9.2M348.5 136.4h9.2M350.0 133.3l6.2 6.2M350.0 139.5l6.2 -6.2M356.9 133.0v9.2M352.3 137.6h9.2M353.8 134.5l6.2 6.2M353.8 140.7l6.2 -6.2M360.7 141.0v9.2M356.1 145.6h9.2M357.6 142.5l6.2 6.2M357.6 148.7l6.2 -6.2M364.5 149.7v9.2M359.9 154.3h9.2M361.4 151.2l6.2 6.2M361.4 157.4l6.2 -6.2M368.3 153.7v9.2M363.7 158.3h9.2M365.2 155.2l6.2 6.2M365.2 161.4l6.2 -6.2M372.1 152.6v9.2M367.5 157.2h9.2M369.0 154.1l6.2 6.2M369.0 160.2l6.2 -6.2M375.9 151.4v9.2M371.3 156.0h9.2M372.8 152.9l6.2 6.2M372.8 159.1l6.2 -6.2M379.7 154.8v9.2M375.1 159.4h9.2M376.6 156.3l6.2 6.2M376.6 162.5l6.2 -6.2M383.5 158.3v9.2M378.9 162.9h9.2M380.4 159.8l6.2 6.2M380.4 166.0l6.2 -6.2M387.3 162.9v9.2M382.7 167.5h9.2M384.2 164.4l6.2 6.2M384.2 170.6l6.2 -6.2M391.1 167.5v9.2M386.5 172.1h9.2M388.0 169.0l6.2 6.2M388.0 175.2l6.2 -6.2M394.9 165.6v9.2M390.3 170.2h9.2M391.8 167.1l6.2 6.2M391.8 173.3l6.2 -6.2M398.7 161.3v9.2M394.1 165.9h9.2M395.6 162.8l6.2 6.2M395.6 169.0l6.2 -6.2M402.5 157.8v9.2M397.9 162.4h9.2M399.4 159.3l6.2 6.2M399.4 165.5l6.2 -6.2M406.3 153.5v9.2M401.7 158.1h9.2M403.2 155.0l6.2 6.2M403.2 161.2l6.2 -6.2M410.1 149.2v9.2M405.5 153.8h9.2M407.0 150.7l6.2 6.2M407.0 156.9l6.2 -6.2M413.9 145.7v9.2M409.3 150.3h9.2M410.8 147.2l6.2 6.2M410.8 153.4l6.2 -6.2M417.7 142.3v9.2M413.1 146.9h9.2M414.6 143.8l6.2 6.2M414.6 150.0l6.2 -6.2M421.5 135.2v9.2M416.9 139.8h9.2M418.4 136.7l6.2 6.2M418.4 142.9l6.2 -6.2M425.3 130.1v9.2M420.7 134.7h9.2M422.2 131.6l6.2 6.2M422.2 137.8l6.2 -6.2M429.1 126.3v9.2M424.5 130.9h9.2M426.0 127.8l6.2 6.2M426.0 134.0l6.2 -6.2M432.9 122.5v9.2M428.3 127.1h9.2M429.8 124.0l6.2 6.2M429.8 130.2l6.2 -6.2M436.7 122.5v9.2M432.1 127.1h9.2M433.6 124.0l6.2 6.2M433.6 130.2l6.2 -6.2M440.4 119.4v9.2M435.8 124.0h9.2M437.3 120.9l6.2 6.2M437.3 127.1l6.2 -6.2M444.2 117.1v9.2M439.6 121.7h9.2M441.1 118.6l6.2 6.2M441.1 124.8l6.2 -6.2M448.0 114.8v9.2M443.4 119.4h9.2M444.9 116.3l6.2 6.2M444.9 122.5l6.2 -6.2M451.8 111.0v9.2M447.2 115.6h9.2M448.7 112.5l6.2 6.2M448.7 118.7l6.2 -6.2M455.6 105.9v9.2M451.0 110.5h9.2M452.5 107.4l6.2 6.2M452.5 113.6l6.2 -6.2M459.4 97.8v9.2M454.8 102.4h9.2M456.3 99.3l6.2 6.2M456.3 105.5l6.2 -6.2M463.2 91.7v9.2M458.6 96.3h9.2M460.1 93.2l6.2 6.2M460.1 99.4l6.2 -6.2M467.0 91.7v9.2M462.4 96.3h9.2M463.9 93.2l6.2 6.2M463.9 99.4l6.2 -6.2M470.8 91.7v9.2M466.2 96.3h9.2M467.7 93.2l6.2 6.2M467.7 99.4l6.2 -6.2M474.6 92.9v9.2M470.0 97.5h9.2M471.5 94.4l6.2 6.2M471.5 100.6l6.2 -6.2M478.4 100.3v9.2M473.8 104.9h9.2M475.3 101.8l6.2 6.2M475.3 108.0l6.2 -6.2M482.2 96.6v9.2M477.6 101.2h9.2M479.1 98.1l6.2 6.2M479.1 104.3l6.2 -6.2M486.0 90.4v9.2M481.4 95.0h9.2M482.9 91.9l6.2 6.2M482.9 98.1l6.2 -6.2M489.8 88.0v9.2M485.2 92.6h9.2M486.7 89.5l6.2 6.2M486.7 95.7l6.2 -6.2M493.6 81.2v9.2M489.0 85.8h9.2M490.5 82.8l6.2 6.2M490.5 88.9l6.2 -6.2M497.4 74.5v9.2M492.8 79.1h9.2M494.3 76.0l6.2 6.2M494.3 82.2l6.2 -6.2M501.2 69.6v9.2M496.6 74.2h9.2M498.1 71.1l6.2 6.2M498.1 77.3l6.2 -6.2M505.0 65.9v9.2M500.4 70.5h9.2M501.9 67.4l6.2 6.2M501.9 73.6l6.2 -6.2M508.8 62.2v9.2M504.2 66.8h9.2M505.7 63.7l6.2 6.2M505.7 69.9l6.2 -6.2M512.6 57.3v9.2M508.0 61.9h9.2M509.5 58.8l6.2 6.2M509.5 65.0l6.2 -6.2M516.4 64.7v9.2M511.8 69.3h9.2M513.3 66.2l6.2 6.2M513.3 72.4l6.2 -6.2M520.2 62.4v9.2M515.6 67.0h9.2M517.1 63.9l6.2 6.2M517.1 70.1l6.2 -6.2M524.0 59.8v9.2M519.4 64.4h9.2M520.9 61.3l6.2 6.2M520.9 67.5l6.2 -6.2M527.8 58.6v9.2M523.2 63.2h9.2M524.7 60.1l6.2 6.2M524.7 66.2l6.2 -6.2M531.6 57.3v9.2M527.0 61.9h9.2M528.5 58.8l6.2 6.2M528.5 65.0l6.2 -6.2M535.4 61.0v9.2M530.8 65.6h9.2M532.2 62.5l6.2 6.2M532.2 68.7l6.2 -6.2" stroke="#00ff00" stroke-width="0.9"/>
<polyline points="60.9,160.0 64.6,163.0 68.4,166.0 72.2,170.0 76.0,172.0 79.8,175.0 83.6,177.0 87.4,183.4 91.2,198.3 95.0,204.0 98.8,212.1 102.6,219.0 106.4,228.2 110.2,230.5 114.0,238.5 117.8,238.5 121.6,237.1 125.4,235.6 129.2,235.9 133.0,236.2 136.8,241.4 140.6,240.0 144.4,234.6 148.2,229.1 152.0,240.0 155.8,240.7 159.5,241.4 163.3,238.6 167.1,240.0 170.9,246.8 174.7,233.2 178.5,250.9 182.3,253.6 186.1,261.8 189.9,264.5 193.7,264.5 197.5,264.5 201.3,267.3 205.1,261.8 208.9,259.8 212.7,257.7 216.5,253.6 220.3,248.2 224.1,244.1 227.9,225.0 231.7,218.2 235.5,214.1 239.3,218.0 243.1,220.2 246.9,222.3 250.6,226.4 254.4,230.5 258.2,231.8 262.0,235.9 265.8,238.6 269.6,240.0 273.4,241.4 277.2,244.1 281.0,245.5 284.8,246.8 288.6,248.1 292.4,249.4 296.2,250.7 300.0,252.0 303.8,253.2 307.6,254.4 311.4,255.6 315.2,256.8 319.0,258.0 322.8,258.7 326.6,259.3 330.4,260.0 334.2,260.7 338.0,261.3 341.8,262.0 345.6,263.2 349.3,264.4 353.1,265.6 356.9,266.8 360.7,268.0 364.5,269.0 368.3,270.0 372.1,271.1 375.9,272.1 379.7,273.1 383.5,270.9 387.3,268.7 391.1,267.4 394.9,266.0 398.7,268.7 402.5,266.4 406.3,264.2 410.1,262.7 413.9,264.2 417.7,265.7 421.5,268.7 425.3,272.4 429.1,276.1 432.9,277.6 436.7,282.1 440.4,285.3 444.2,288.8 448.0,292.2 451.8,314.3 455.6,321.2 459.4,331.4 463.2,339.0 467.0,340.2 470.8,341.5 474.6,328.8 478.4,331.4 482.2,333.9 486.0,344.0 489.8,349.2 493.6,356.8 497.4,354.2 501.2,351.7 505.0,349.2 508.8,356.2 512.6,363.2 516.4,354.3 520.2,340.3 524.0,342.9 527.8,345.4 531.6,339.0 535.4,341.5" stroke="#ffff00" stroke-width="0.9"/>
<path d="M60.9 155.4v9.2M56.2 160.0h9.2M57.8 156.9l6.2 6.2M57.8 163.1l6.2 -6.2M64.6 158.4v9.2M60.0 163.0h9.2M61.5 159.9l6.2 6.2M61.5 166.1l6.2 -6.2M68.4 161.4v9.2M63.8 166.0h9.2M65.3 162.9l6.2 6.2M65.3 169.1l6.2 -6.2M72.2 165.4v9.2M67.6 170.0h9.2M69.1 166.9l6.2 6.2M69.1 173.1l6.2 -6.2M76.0 167.4v9.2M71.4 172.0h9.2M72.9 168.9l6.2 6.2M72.9 175.1l6.2 -6.2M79.8 170.4v9.2M75.2 175.0h9.2M76.7 171.9l6.2 6.2M76.7 178.1l6.2 -6.2M83.6 172.4v9.2M79.0 177.0h9.2M80.5 173.9l6.2 6.2M80.5 180.1l6.2 -6.2M87.4 178.8v9.2M82.8 183.4h9.2M84.3 180.3l6.2 6.2M84.3 186.5l6.2 -6.2M91.2 193.7v9.2M86.6 198.3h9.2M88.1 195.2l6.2 6.2M88.1 201.4l6.2 -6.2M95.0 199.4v9.2M90.4 204.0h9.2M91.9 200.9l6.2 6.2M91.9 207.1l6.2 -6.2M98.8 207.5v9.2M94.2 212.1h9.2M95.7 209.0l6.2 6.2M95.7 215.2l6.2 -6.2M102.6 214.4v9.2M98.0 219.0h9.2M99.5 215.9l6.2 6.2M99.5 222.1l6.2 -6.2M106.4 223.6v9.2M101.8 228.2h9.2M103.3 225.1l6.2 6.2M103.3 231.3l6.2 -6.2M110.2 225.9v9.2M105.6 230.5h9.2M107.1 227.4l6.2 6.2M107.1 233.6l6.2 -6.2M114.0 233.9v9.2M109.4 238.5h9.2M110.9 235.4l6.2 6.2M110.9 241.6l6.2 -6.2M117.8 233.9v9.2M113.2 238.5h9.2M114.7 235.4l6.2 6.2M114.7 241.6l6.2 -6.2M121.6 232.5v9.2M117.0 237.1h9.2M118.5 234.0l6.2 6.2M118.5 240.2l6.2 -6.2M125.4 231.0v9.2M120.8 235.6h9.2M122.3 232.5l6.2 6.2M122.3 238.7l6.2 -6.2M129.2 231.3v9.2M124.6 235.9h9.2M126.1 232.8l6.2 6.2M126.1 239.0l6.2 -6.2M133.0 231.6v9.2M128.4 236.2h9.2M129.9 233.1l6.2 6.2M129.9 239.3l6.2 -6.2M136.8 236.8v9.2M132.2 241.4h9.2M133.7 238.3l6.2 6.2M133.7 244.5l6.2 -6.2M140.6 235.4v9.2M136.0 240.0h9.2M137.5 236.9l6.2 6.2M137.5 243.1l6.2 -6.2M144.4 230.0v9.2M139.8 234.6h9.2M141.3 231.5l6.2 6.2M141.3 237.7l6.2 -6.2M148.2 224.5v9.2M143.6 229.1h9.2M145.1 226.0l6.2 6.2M145.1 232.2l6.2 -6.2M152.0 235.4v9.2M147.4 240.0h9.2M148.9 236.9l6.2 6.2M148.9 243.1l6.2 -6.2M155.8 236.1v9.2M151.2 240.7h9.2M152.7 237.6l6.2 6.2M152.7 243.8l6.2 -6.2M159.5 236.8v9.2M154.9 241.4h9.2M156.4 238.3l6.2 6.2M156.4 244.5l6.2 -6.2M163.3 234.0v9.2M158.7 238.6h9.2M160.2 235.5l6.2 6.2M160.2 241.7l6.2 -6.2M167.1 235.4v9.2M162.5 240.0h9.2M164.0 236.9l6.2 6.2M164.0 243.1l6.2 -6.2M170.9 242.2v9.2M166.3 246.8h9.2M167.8 243.7l6.2 6.2M167.8 249.9l6.2 -6.2M174.7 228.6v9.2M170.1 233.2h9.2M171.6 230.1l6.2 6.2M171.6 236.3l6.2 -6.2M178.5 246.3v9.2M173.9 250.9h9.2M175.4 247.8l6.2 6.2M175.4 254.0l6.2 -6.2M182.3 249.0v9.2M177.7 253.6h9.2M179.2 250.5l6.2 6.2M179.2 256.7l6.2 -6.2M186.1 257.2v9.2M181.5 261.8h9.2M183.0 258.7l6.2 6.2M183.0 264.9l6.2 -6.2M189.9 259.9v9.2M185.3 264.5h9.2M186.8 261.4l6.2 6.2M186.8 267.6l6.2 -6.2M193.7 259.9v9.2M189.1 264.5h9.2M190.6 261.4l6.2 6.2M190.6 267.6l6.2 -6.2M197.5 259.9v9.2M192.9 264.5h9.2M194.4 261.4l6.2 6.2M194.4 267.6l6.2 -6.2M201.3 262.7v9.2M196.7 267.3h9.2M198.2 264.2l6.2 6.2M198.2 270.4l6.2 -6.2M205.1 257.2v9.2M200.5 261.8h9.2M202.0 258.7l6.2 6.2M202.0 264.9l6.2 -6.2M208.9 255.2v9.2M204.3 259.8h9.2M205.8 256.6l6.2 6.2M205.8 262.9l6.2 -6.2M212.7 253.1v9.2M208.1 257.7h9.2M209.6 254.6l6.2 6.2M209.6 260.8l6.2 -6.2M216.5 249.0v9.2M211.9 253.6h9.2M213.4 250.5l6.2 6.2M213.4 256.7l6.2 -6.2M220.3 243.6v9.2M215.7 248.2h9.2M217.2 245.1l6.2 6.2M217.2 251.3l6.2 -6.2M224.1 239.5v9.2M219.5 244.1h9.2M221.0 241.0l6.2 6.2M221.0 247.2l6.2 -6.2M227.9 220.4v9.2M223.3 225.0h9.2M224.8 221.9l6.2 6.2M224.8 228.1l6.2 -6.2M231.7 213.6v9.2M227.1 218.2h9.2M228.6 215.1l6.2 6.2M228.6 221.3l6.2 -6.2M235.5 209.5v9.2M230.9 214.1h9.2M232.4 211.0l6.2 6.2M232.4 217.2l6.2 -6.2M239.3 213.4v9.2M234.7 218.0h9.2M236.2 214.9l6.2 6.2M236.2 221.1l6.2 -6.2M243.1 215.6v9.2M238.5 220.2h9.2M240.0 217.1l6.2 6.2M240.0 223.2l6.2 -6.2M246.9 217.7v9.2M242.3 222.3h9.2M243.8 219.2l6.2 6.2M243.8 225.4l6.2 -6.2M250.6 221.8v9.2M246.0 226.4h9.2M247.5 223.3l6.2 6.2M247.5 229.5l6.2 -6.2M254.4 225.9v9.2M249.8 230.5h9.2M251.3 227.4l6.2 6.2M251.3 233.6l6.2 -6.2M258.2 227.2v9.2M253.6 231.8h9.2M255.1 228.7l6.2 6.2M255.1 234.9l6.2 -6.2M262.0 231.3v9.2M257.4 235.9h9.2M258.9 232.8l6.2 6.2M258.9 239.0l6.2 -6.2M265.8 234.0v9.2M261.2 238.6h9.2M262.7 235.5l6.2 6.2M262.7 241.7l6.2 -6.2M269.6 235.4v9.2M265.0 240.0h9.2M266.5 236.9l6.2 6.2M266.5 243.1l6.2 -6.2M273.4 236.8v9.2M268.8 241.4h9.2M270.3 238.3l6.2 6.2M270.3 244.5l6.2 -6.2M277.2 239.5v9.2M272.6 244.1h9.2M274.1 241.0l6.2 6.2M274.1 247.2l6.2 -6.2M281.0 240.9v9.2M276.4 245.5h9.2M277.9 242.4l6.2 6.2M277.9 248.6l6.2 -6.2M284.8 242.2v9.2M280.2 246.8h9.2M281.7 243.7l6.2 6.2M281.7 249.9l6.2 -6.2M288.6 243.5v9.2M284.0 248.1h9.2M285.5 245.0l6.2 6.2M285.5 251.2l6.2 -6.2M292.4 244.8v9.2M287.8 249.4h9.2M289.3 246.3l6.2 6.2M289.3 252.5l6.2 -6.2M296.2 246.1v9.2M291.6 250.7h9.2M293.1 247.6l6.2 6.2M293.1 253.8l6.2 -6.2M300.0 247.4v9.2M295.4 252.0h9.2M296.9 248.9l6.2 6.2M296.9 255.1l6.2 -6.2M303.8 248.6v9.2M299.2 253.2h9.2M300.7 250.1l6.2 6.2M300.7 256.3l6.2 -6.2M307.6 249.8v9.2M303.0 254.4h9.2M304.5 251.3l6.2 6.2M304.5 257.5l6.2 -6.2M311.4 251.0v9.2M306.8 255.6h9.2M308.3 252.5l6.2 6.2M308.3 258.7l6.2 -6.2M315.2 252.2v9.2M310.6 256.8h9.2M312.1 253.7l6.2 6.2M312.1 259.9l6.2 -6.2M319.0 253.4v9.2M314.4 258.0h9.2M315.9 254.9l6.2 6.2M315.9 261.1l6.2 -6.2M322.8 254.1v9.2M318.2 258.7h9.2M319.7 255.6l6.2 6.2M319.7 261.8l6.2 -6.2M326.6 254.7v9.2M322.0 259.3h9.2M323.5 256.2l6.2 6.2M323.5 262.4l6.2 -6.2M330.4 255.4v9.2M325.8 260.0h9.2M327.3 256.9l6.2 6.2M327.3 263.1l6.2 -6.2M334.2 256.1v9.2M329.6 260.7h9.2M331.1 257.6l6.2 6.2M331.1 263.8l6.2 -6.2M338.0 256.7v9.2M333.4 261.3h9.2M334.9 258.2l6.2 6.2M334.9 264.4l6.2 -6.2M341.8 257.4v9.2M337.2 262.0h9.2M338.7 258.9l6.2 6.2M338.7 265.1l6.2 -6.2M345.6 258.6v9.2M340.9 263.2h9.2M342.4 260.1l6.2 6.2M342.4 266.3l6.2 -6.2M349.3 259.8v9.2M344.7 264.4h9.2M346.2 261.3l6.2 6.2M346.2 267.5l6.2 -6.2M353.1 261.0v9.2M348.5 265.6h9.2M350.0 262.5l6.2 6.2M350.0 268.7l6.2 -6.2M356.9 262.2v9.2M352.3 266.8h9.2M353.8 263.7l6.2 6.2M353.8 269.9l6.2 -6.2M360.7 263.4v9.2M356.1 268.0h9.2M357.6 264.9l6.2 6.2M357.6 271.1l6.2 -6.2M364.5 264.4v9.2M359.9 269.0h9.2M361.4 265.9l6.2 6.2M361.4 272.1l6.2 -6.2M368.3 265.4v9.2M363.7 270.0h9.2M365.2 266.9l6.2 6.2M365.2 273.1l6.2 -6.2M372.1 266.5v9.2M367.5 271.1h9.2M369.0 268.0l6.2 6.2M369.0 274.2l6.2 -6.2M375.9 267.5v9.2M371.3 272.1h9.2M372.8 269.0l6.2 6.2M372.8 275.2l6.2 -6.2M379.7 268.5v9.2M375.1 273.1h9.2M376.6 270.0l6.2 6.2M376.6 276.2l6.2 -6.2M383.5 266.3v9.2M378.9 270.9h9.2M380.4 267.8l6.2 6.2M380.4 274.0l6.2 -6.2M387.3 264.1v9.2M382.7 268.7h9.2M384.2 265.6l6.2 6.2M384.2 271.8l6.2 -6.2M391.1 262.8v9.2M386.5 267.4h9.2M388.0 264.2l6.2 6.2M388.0 270.5l6.2 -6.2M394.9 261.4v9.2M390.3 266.0h9.2M391.8 262.9l6.2 6.2M391.8 269.1l6.2 -6.2M398.7 264.1v9.2M394.1 268.7h9.2M395.6 265.6l6.2 6.2M395.6 271.8l6.2 -6.2M402.5 261.8v9.2M397.9 266.4h9.2M399.4 263.3l6.2 6.2M399.4 269.6l6.2 -6.2M406.3 259.6v9.2M401.7 264.2h9.2M403.2 261.1l6.2 6.2M403.2 267.3l6.2 -6.2M410.1 258.1v9.2M405.5 262.7h9.2M407.0 259.6l6.2 6.2M407.0 265.8l6.2 -6.2M413.9 259.6v9.2M409.3 264.2h9.2M410.8 261.1l6.2 6.2M410.8 267.3l6.2 -6.2M417.7 261.1v9.2M413.1 265.7h9.2M414.6 262.6l6.2 6.2M414.6 268.8l6.2 -6.2M421.5 264.1v9.2M416.9 268.7h9.2M418.4 265.6l6.2 6.2M418.4 271.8l6.2 -6.2M425.3 267.8v9.2M420.7 272.4h9.2M422.2 269.3l6.2 6.2M422.2 275.5l6.2 -6.2M429.1 271.5v9.2M424.5 276.1h9.2M426.0 273.0l6.2 6.2M426.0 279.2l6.2 -6.2M432.9 273.0v9.2M428.3 277.6h9.2M429.8 274.5l6.2 6.2M429.8 280.7l6.2 -6.2M436.7 277.5v9.2M432.1 282.1h9.2M433.6 279.0l6.2 6.2M433.6 285.2l6.2 -6.2M440.4 280.7v9.2M435.8 285.3h9.2M437.3 282.2l6.2 6.2M437.3 288.4l6.2 -6.2M444.2 284.1v9.2M439.6 288.8h9.2M441.1 285.6l6.2 6.2M441.1 291.9l6.2 -6.2M448.0 287.6v9.2M443.4 292.2h9.2M444.9 289.1l6.2 6.2M444.9 295.3l6.2 -6.2M451.8 309.7v9.2M447.2 314.3h9.2M448.7 311.2l6.2 6.2M448.7 317.4l6.2 -6.2M455.6 316.6v9.2M451.0 321.2h9.2M452.5 318.1l6.2 6.2M452.5 324.3l6.2 -6.2M459.4 326.8v9.2M454.8 331.4h9.2M456.3 328.3l6.2 6.2M456.3 334.5l6.2 -6.2M463.2 334.4v9.2M458.6 339.0h9.2M460.1 335.9l6.2 6.2M460.1 342.1l6.2 -6.2M467.0 335.6v9.2M462.4 340.2h9.2M463.9 337.1l6.2 6.2M463.9 343.4l6.2 -6.2M470.8 336.9v9.2M466.2 341.5h9.2M467.7 338.4l6.2 6.2M467.7 344.6l6.2 -6.2M474.6 324.2v9.2M470.0 328.8h9.2M471.5 325.7l6.2 6.2M471.5 331.9l6.2 -6.2M478.4 326.8v9.2M473.8 331.4h9.2M475.3 328.2l6.2 6.2M475.3 334.5l6.2 -6.2M482.2 329.3v9.2M477.6 333.9h9.2M479.1 330.8l6.2 6.2M479.1 337.0l6.2 -6.2M486.0 339.4v9.2M481.4 344.0h9.2M482.9 340.9l6.2 6.2M482.9 347.1l6.2 -6.2M489.8 344.6v9.2M485.2 349.2h9.2M486.7 346.1l6.2 6.2M486.7 352.3l6.2 -6.2M493.6 352.2v9.2M489.0 356.8h9.2M490.5 353.7l6.2 6.2M490.5 359.9l6.2 -6.2M497.4 349.6v9.2M492.8 354.2h9.2M494.3 351.1l6.2 6.2M494.3 357.4l6.2 -6.2M501.2 347.1v9.2M496.6 351.7h9.2M498.1 348.6l6.2 6.2M498.1 354.8l6.2 -6.2M505.0 344.6v9.2M500.4 349.2h9.2M501.9 346.1l6.2 6.2M501.9 352.3l6.2 -6.2M508.8 351.6v9.2M504.2 356.2h9.2M505.7 353.1l6.2 6.2M505.7 359.3l6.2 -6.2M512.6 358.6v9.2M508.0 363.2h9.2M509.5 360.1l6.2 6.2M509.5 366.3l6.2 -6.2M516.4 349.7v9.2M511.8 354.3h9.2M513.3 351.2l6.2 6.2M513.3 357.4l6.2 -6.2M520.2 335.7v9.2M515.6 340.3h9.2M517.1 337.2l6.2 6.2M517.1 343.4l6.2 -6.2M524.0 338.2v9.2M519.4 342.9h9.2M520.9 339.8l6.2 6.2M520.9 346.0l6.2 -6.2M527.8 340.8v9.2M523.2 345.4h9.2M524.7 342.3l6.2 6.2M524.7 348.5l6.2 -6.2M531.6 334.4v9.2M527.0 339.0h9.2M528.5 335.9l6.2 6.2M528.5 342.1l6.2 -6.2M535.4 336.9v9.2M530.8 341.5h9.2M532.2 338.4l6.2 6.2M532.2 344.6l6.2 -6.2" stroke="#ffff00" stroke-width="0.9"/>
<polyline points="60.9,162.0 64.6,168.0 68.4,175.0 72.2,180.5 76.0,175.0 79.8,170.0 83.6,166.0 87.4,162.0 91.2,160.8 95.0,159.6 98.8,157.8 102.6,155.4 106.4,160.0 110.2,161.7 114.0,163.4 117.8,164.0 121.6,164.1 125.4,164.1 129.2,165.0 133.0,164.0 136.8,164.0 140.6,163.0 144.4,162.0 148.2,158.0 152.0,157.0 155.8,162.0 159.5,167.0 163.3,170.0 167.1,172.0 170.9,156.0 174.7,152.0 178.5,160.0 182.3,162.5 186.1,165.0 189.9,167.1 193.7,168.3 197.5,167.2 201.3,166.0 205.1,163.0 208.9,158.0 212.7,155.1 216.5,152.2 220.3,141.8 224.1,139.1 227.9,136.3 231.7,145.1 235.5,147.5 239.3,150.0 243.1,146.7 246.9,145.0 250.6,144.3 254.4,147.0 258.2,150.8 262.0,153.2 265.8,152.0 269.6,158.8 273.4,159.6 277.2,162.0 281.0,161.2 284.8,162.0 288.6,164.0 292.4,166.9 296.2,167.6 300.0,168.8 303.8,170.0 307.6,172.7 311.4,178.0 315.2,186.5 319.0,196.0 322.8,197.3 326.6,198.7 330.4,200.0 334.2,199.3 338.0,198.7 341.8,198.0 345.6,196.5 349.3,195.0 353.1,184.5 356.9,183.3 360.7,181.4 364.5,183.9 368.3,183.3 372.1,185.8 375.9,195.0 379.7,196.0 383.5,190.3 387.3,189.6 391.1,191.5 394.9,197.0 398.7,211.0 402.5,217.8 406.3,216.3 410.1,217.1 413.9,217.8 417.7,228.3 421.5,222.0 425.3,219.9 429.1,217.8 432.9,229.8 436.7,241.7 440.4,246.2 444.2,240.3 448.0,238.8 451.8,237.3 455.6,243.2 459.4,250.7 463.2,257.8 467.0,262.0 470.8,267.4 474.6,272.9 478.4,275.7 482.2,279.0 486.0,282.6 489.8,285.0 493.6,286.6 497.4,288.1 501.2,281.2 505.0,277.1 508.8,275.7 512.6,285.3 516.4,296.4 520.2,308.8 524.0,292.2 527.8,286.0 531.6,282.6 535.4,290.9" stroke="#edb120" stroke-width="0.9"/>
<path d="M60.9 157.4v9.2M56.2 162.0h9.2M57.8 158.9l6.2 6.2M57.8 165.1l6.2 -6.2M64.6 163.4v9.2M60.0 168.0h9.2M61.5 164.9l6.2 6.2M61.5 171.1l6.2 -6.2M68.4 170.4v9.2M63.8 175.0h9.2M65.3 171.9l6.2 6.2M65.3 178.1l6.2 -6.2M72.2 175.9v9.2M67.6 180.5h9.2M69.1 177.4l6.2 6.2M69.1 183.6l6.2 -6.2M76.0 170.4v9.2M71.4 175.0h9.2M72.9 171.9l6.2 6.2M72.9 178.1l6.2 -6.2M79.8 165.4v9.2M75.2 170.0h9.2M76.7 166.9l6.2 6.2M76.7 173.1l6.2 -6.2M83.6 161.4v9.2M79.0 166.0h9.2M80.5 162.9l6.2 6.2M80.5 169.1l6.2 -6.2M87.4 157.4v9.2M82.8 162.0h9.2M84.3 158.9l6.2 6.2M84.3 165.1l6.2 -6.2M91.2 156.2v9.2M86.6 160.8h9.2M88.1 157.7l6.2 6.2M88.1 163.9l6.2 -6.2M95.0 155.0v9.2M90.4 159.6h9.2M91.9 156.5l6.2 6.2M91.9 162.7l6.2 -6.2M98.8 153.2v9.2M94.2 157.8h9.2M95.7 154.7l6.2 6.2M95.7 160.8l6.2 -6.2M102.6 150.8v9.2M98.0 155.4h9.2M99.5 152.3l6.2 6.2M99.5 158.5l6.2 -6.2M106.4 155.4v9.2M101.8 160.0h9.2M103.3 156.9l6.2 6.2M103.3 163.1l6.2 -6.2M110.2 157.1v9.2M105.6 161.7h9.2M107.1 158.6l6.2 6.2M107.1 164.8l6.2 -6.2M114.0 158.8v9.2M109.4 163.4h9.2M110.9 160.3l6.2 6.2M110.9 166.5l6.2 -6.2M117.8 159.4v9.2M113.2 164.0h9.2M114.7 160.9l6.2 6.2M114.7 167.1l6.2 -6.2M121.6 159.5v9.2M117.0 164.1h9.2M118.5 161.0l6.2 6.2M118.5 167.2l6.2 -6.2M125.4 159.5v9.2M120.8 164.1h9.2M122.3 161.0l6.2 6.2M122.3 167.2l6.2 -6.2M129.2 160.4v9.2M124.6 165.0h9.2M126.1 161.9l6.2 6.2M126.1 168.1l6.2 -6.2M133.0 159.4v9.2M128.4 164.0h9.2M129.9 160.9l6.2 6.2M129.9 167.1l6.2 -6.2M136.8 159.4v9.2M132.2 164.0h9.2M133.7 160.9l6.2 6.2M133.7 167.1l6.2 -6.2M140.6 158.4v9.2M136.0 163.0h9.2M137.5 159.9l6.2 6.2M137.5 166.1l6.2 -6.2M144.4 157.4v9.2M139.8 162.0h9.2M141.3 158.9l6.2 6.2M141.3 165.1l6.2 -6.2M148.2 153.4v9.2M143.6 158.0h9.2M145.1 154.9l6.2 6.2M145.1 161.1l6.2 -6.2M152.0 152.4v9.2M147.4 157.0h9.2M148.9 153.9l6.2 6.2M148.9 160.1l6.2 -6.2M155.8 157.4v9.2M151.2 162.0h9.2M152.7 158.9l6.2 6.2M152.7 165.1l6.2 -6.2M159.5 162.4v9.2M154.9 167.0h9.2M156.4 163.9l6.2 6.2M156.4 170.1l6.2 -6.2M163.3 165.4v9.2M158.7 170.0h9.2M160.2 166.9l6.2 6.2M160.2 173.1l6.2 -6.2M167.1 167.4v9.2M162.5 172.0h9.2M164.0 168.9l6.2 6.2M164.0 175.1l6.2 -6.2M170.9 151.4v9.2M166.3 156.0h9.2M167.8 152.9l6.2 6.2M167.8 159.1l6.2 -6.2M174.7 147.4v9.2M170.1 152.0h9.2M171.6 148.9l6.2 6.2M171.6 155.1l6.2 -6.2M178.5 155.4v9.2M173.9 160.0h9.2M175.4 156.9l6.2 6.2M175.4 163.1l6.2 -6.2M182.3 157.9v9.2M177.7 162.5h9.2M179.2 159.4l6.2 6.2M179.2 165.6l6.2 -6.2M186.1 160.4v9.2M181.5 165.0h9.2M183.0 161.9l6.2 6.2M183.0 168.1l6.2 -6.2M189.9 162.5v9.2M185.3 167.1h9.2M186.8 164.0l6.2 6.2M186.8 170.2l6.2 -6.2M193.7 163.7v9.2M189.1 168.3h9.2M190.6 165.2l6.2 6.2M190.6 171.4l6.2 -6.2M197.5 162.6v9.2M192.9 167.2h9.2M194.4 164.1l6.2 6.2M194.4 170.2l6.2 -6.2M201.3 161.4v9.2M196.7 166.0h9.2M198.2 162.9l6.2 6.2M198.2 169.1l6.2 -6.2M205.1 158.4v9.2M200.5 163.0h9.2M202.0 159.9l6.2 6.2M202.0 166.1l6.2 -6.2M208.9 153.4v9.2M204.3 158.0h9.2M205.8 154.9l6.2 6.2M205.8 161.1l6.2 -6.2M212.7 150.5v9.2M208.1 155.1h9.2M209.6 152.0l6.2 6.2M209.6 158.2l6.2 -6.2M216.5 147.6v9.2M211.9 152.2h9.2M213.4 149.1l6.2 6.2M213.4 155.3l6.2 -6.2M220.3 137.2v9.2M215.7 141.8h9.2M217.2 138.7l6.2 6.2M217.2 144.9l6.2 -6.2M224.1 134.5v9.2M219.5 139.1h9.2M221.0 136.0l6.2 6.2M221.0 142.2l6.2 -6.2M227.9 131.7v9.2M223.3 136.3h9.2M224.8 133.2l6.2 6.2M224.8 139.4l6.2 -6.2M231.7 140.5v9.2M227.1 145.1h9.2M228.6 142.0l6.2 6.2M228.6 148.2l6.2 -6.2M235.5 142.9v9.2M230.9 147.5h9.2M232.4 144.4l6.2 6.2M232.4 150.6l6.2 -6.2M239.3 145.4v9.2M234.7 150.0h9.2M236.2 146.9l6.2 6.2M236.2 153.1l6.2 -6.2M243.1 142.1v9.2M238.5 146.7h9.2M240.0 143.6l6.2 6.2M240.0 149.8l6.2 -6.2M246.9 140.4v9.2M242.3 145.0h9.2M243.8 141.9l6.2 6.2M243.8 148.1l6.2 -6.2M250.6 139.7v9.2M246.0 144.3h9.2M247.5 141.2l6.2 6.2M247.5 147.4l6.2 -6.2M254.4 142.4v9.2M249.8 147.0h9.2M251.3 143.9l6.2 6.2M251.3 150.1l6.2 -6.2M258.2 146.2v9.2M253.6 150.8h9.2M255.1 147.7l6.2 6.2M255.1 153.9l6.2 -6.2M262.0 148.6v9.2M257.4 153.2h9.2M258.9 150.1l6.2 6.2M258.9 156.3l6.2 -6.2M265.8 147.4v9.2M261.2 152.0h9.2M262.7 148.9l6.2 6.2M262.7 155.1l6.2 -6.2M269.6 154.2v9.2M265.0 158.8h9.2M266.5 155.7l6.2 6.2M266.5 161.9l6.2 -6.2M273.4 155.0v9.2M268.8 159.6h9.2M270.3 156.5l6.2 6.2M270.3 162.7l6.2 -6.2M277.2 157.4v9.2M272.6 162.0h9.2M274.1 158.9l6.2 6.2M274.1 165.1l6.2 -6.2M281.0 156.6v9.2M276.4 161.2h9.2M277.9 158.1l6.2 6.2M277.9 164.3l6.2 -6.2M284.8 157.4v9.2M280.2 162.0h9.2M281.7 158.9l6.2 6.2M281.7 165.1l6.2 -6.2M288.6 159.4v9.2M284.0 164.0h9.2M285.5 160.9l6.2 6.2M285.5 167.1l6.2 -6.2M292.4 162.3v9.2M287.8 166.9h9.2M289.3 163.8l6.2 6.2M289.3 170.0l6.2 -6.2M296.2 163.0v9.2M291.6 167.6h9.2M293.1 164.5l6.2 6.2M293.1 170.7l6.2 -6.2M300.0 164.2v9.2M295.4 168.8h9.2M296.9 165.7l6.2 6.2M296.9 171.9l6.2 -6.2M303.8 165.4v9.2M299.2 170.0h9.2M300.7 166.9l6.2 6.2M300.7 173.1l6.2 -6.2M307.6 168.1v9.2M303.0 172.7h9.2M304.5 169.6l6.2 6.2M304.5 175.8l6.2 -6.2M311.4 173.4v9.2M306.8 178.0h9.2M308.3 174.9l6.2 6.2M308.3 181.1l6.2 -6.2M315.2 181.9v9.2M310.6 186.5h9.2M312.1 183.4l6.2 6.2M312.1 189.6l6.2 -6.2M319.0 191.4v9.2M314.4 196.0h9.2M315.9 192.9l6.2 6.2M315.9 199.1l6.2 -6.2M322.8 192.7v9.2M318.2 197.3h9.2M319.7 194.2l6.2 6.2M319.7 200.4l6.2 -6.2M326.6 194.1v9.2M322.0 198.7h9.2M323.5 195.6l6.2 6.2M323.5 201.8l6.2 -6.2M330.4 195.4v9.2M325.8 200.0h9.2M327.3 196.9l6.2 6.2M327.3 203.1l6.2 -6.2M334.2 194.7v9.2M329.6 199.3h9.2M331.1 196.2l6.2 6.2M331.1 202.4l6.2 -6.2M338.0 194.1v9.2M333.4 198.7h9.2M334.9 195.6l6.2 6.2M334.9 201.8l6.2 -6.2M341.8 193.4v9.2M337.2 198.0h9.2M338.7 194.9l6.2 6.2M338.7 201.1l6.2 -6.2M345.6 191.9v9.2M340.9 196.5h9.2M342.4 193.4l6.2 6.2M342.4 199.6l6.2 -6.2M349.3 190.4v9.2M344.7 195.0h9.2M346.2 191.9l6.2 6.2M346.2 198.1l6.2 -6.2M353.1 179.9v9.2M348.5 184.5h9.2M350.0 181.4l6.2 6.2M350.0 187.6l6.2 -6.2M356.9 178.7v9.2M352.3 183.3h9.2M353.8 180.2l6.2 6.2M353.8 186.4l6.2 -6.2M360.7 176.8v9.2M356.1 181.4h9.2M357.6 178.3l6.2 6.2M357.6 184.5l6.2 -6.2M364.5 179.3v9.2M359.9 183.9h9.2M361.4 180.8l6.2 6.2M361.4 187.0l6.2 -6.2M368.3 178.7v9.2M363.7 183.3h9.2M365.2 180.2l6.2 6.2M365.2 186.4l6.2 -6.2M372.1 181.2v9.2M367.5 185.8h9.2M369.0 182.7l6.2 6.2M369.0 188.9l6.2 -6.2M375.9 190.4v9.2M371.3 195.0h9.2M372.8 191.9l6.2 6.2M372.8 198.1l6.2 -6.2M379.7 191.4v9.2M375.1 196.0h9.2M376.6 192.9l6.2 6.2M376.6 199.1l6.2 -6.2M383.5 185.7v9.2M378.9 190.3h9.2M380.4 187.2l6.2 6.2M380.4 193.4l6.2 -6.2M387.3 185.0v9.2M382.7 189.6h9.2M384.2 186.5l6.2 6.2M384.2 192.7l6.2 -6.2M391.1 186.9v9.2M386.5 191.5h9.2M388.0 188.4l6.2 6.2M388.0 194.6l6.2 -6.2M394.9 192.4v9.2M390.3 197.0h9.2M391.8 193.9l6.2 6.2M391.8 200.1l6.2 -6.2M398.7 206.4v9.2M394.1 211.0h9.2M395.6 207.9l6.2 6.2M395.6 214.1l6.2 -6.2M402.5 213.2v9.2M397.9 217.8h9.2M399.4 214.7l6.2 6.2M399.4 220.9l6.2 -6.2M406.3 211.7v9.2M401.7 216.3h9.2M403.2 213.2l6.2 6.2M403.2 219.4l6.2 -6.2M410.1 212.5v9.2M405.5 217.1h9.2M407.0 214.0l6.2 6.2M407.0 220.2l6.2 -6.2M413.9 213.2v9.2M409.3 217.8h9.2M410.8 214.7l6.2 6.2M410.8 220.9l6.2 -6.2M417.7 223.7v9.2M413.1 228.3h9.2M414.6 225.2l6.2 6.2M414.6 231.4l6.2 -6.2M421.5 217.4v9.2M416.9 222.0h9.2M418.4 218.9l6.2 6.2M418.4 225.1l6.2 -6.2M425.3 215.3v9.2M420.7 219.9h9.2M422.2 216.8l6.2 6.2M422.2 223.0l6.2 -6.2M429.1 213.2v9.2M424.5 217.8h9.2M426.0 214.7l6.2 6.2M426.0 220.9l6.2 -6.2M432.9 225.2v9.2M428.3 229.8h9.2M429.8 226.7l6.2 6.2M429.8 232.9l6.2 -6.2M436.7 237.1v9.2M432.1 241.7h9.2M433.6 238.6l6.2 6.2M433.6 244.8l6.2 -6.2M440.4 241.6v9.2M435.8 246.2h9.2M437.3 243.1l6.2 6.2M437.3 249.3l6.2 -6.2M444.2 235.7v9.2M439.6 240.3h9.2M441.1 237.2l6.2 6.2M441.1 243.4l6.2 -6.2M448.0 234.2v9.2M443.4 238.8h9.2M444.9 235.7l6.2 6.2M444.9 241.9l6.2 -6.2M451.8 232.7v9.2M447.2 237.3h9.2M448.7 234.2l6.2 6.2M448.7 240.4l6.2 -6.2M455.6 238.6v9.2M451.0 243.2h9.2M452.5 240.1l6.2 6.2M452.5 246.3l6.2 -6.2M459.4 246.1v9.2M454.8 250.7h9.2M456.3 247.6l6.2 6.2M456.3 253.8l6.2 -6.2M463.2 253.2v9.2M458.6 257.8h9.2M460.1 254.7l6.2 6.2M460.1 260.9l6.2 -6.2M467.0 257.4v9.2M462.4 262.0h9.2M463.9 258.9l6.2 6.2M463.9 265.1l6.2 -6.2M470.8 262.8v9.2M466.2 267.4h9.2M467.7 264.3l6.2 6.2M467.7 270.5l6.2 -6.2M474.6 268.3v9.2M470.0 272.9h9.2M471.5 269.8l6.2 6.2M471.5 276.0l6.2 -6.2M478.4 271.1v9.2M473.8 275.7h9.2M475.3 272.6l6.2 6.2M475.3 278.8l6.2 -6.2M482.2 274.4v9.2M477.6 279.0h9.2M479.1 275.9l6.2 6.2M479.1 282.1l6.2 -6.2M486.0 278.0v9.2M481.4 282.6h9.2M482.9 279.5l6.2 6.2M482.9 285.7l6.2 -6.2M489.8 280.4v9.2M485.2 285.0h9.2M486.7 281.9l6.2 6.2M486.7 288.1l6.2 -6.2M493.6 281.9v9.2M489.0 286.6h9.2M490.5 283.4l6.2 6.2M490.5 289.7l6.2 -6.2M497.4 283.5v9.2M492.8 288.1h9.2M494.3 285.0l6.2 6.2M494.3 291.2l6.2 -6.2M501.2 276.6v9.2M496.6 281.2h9.2M498.1 278.1l6.2 6.2M498.1 284.3l6.2 -6.2M505.0 272.5v9.2M500.4 277.1h9.2M501.9 274.0l6.2 6.2M501.9 280.2l6.2 -6.2M508.8 271.1v9.2M504.2 275.7h9.2M505.7 272.6l6.2 6.2M505.7 278.8l6.2 -6.2M512.6 280.7v9.2M508.0 285.3h9.2M509.5 282.2l6.2 6.2M509.5 288.4l6.2 -6.2M516.4 291.8v9.2M511.8 296.4h9.2M513.3 293.3l6.2 6.2M513.3 299.5l6.2 -6.2M520.2 304.2v9.2M515.6 308.8h9.2M517.1 305.7l6.2 6.2M517.1 311.9l6.2 -6.2M524.0 287.6v9.2M519.4 292.2h9.2M520.9 289.1l6.2 6.2M520.9 295.3l6.2 -6.2M527.8 281.4v9.2M523.2 286.0h9.2M524.7 282.9l6.2 6.2M524.7 289.1l6.2 -6.2M531.6 278.0v9.2M527.0 282.6h9.2M528.5 279.5l6.2 6.2M528.5 285.7l6.2 -6.2M535.4 286.3v9.2M530.8 290.9h9.2M532.2 287.8l6.2 6.2M532.2 294.0l6.2 -6.2" stroke="#edb120" stroke-width="0.9"/>
<polyline points="60.9,169.6 64.6,167.0 68.4,168.0 72.2,170.0 76.0,168.4 79.8,172.0 83.6,179.9 87.4,174.0 91.2,168.4 95.0,168.4 98.8,167.8 102.6,166.3 106.4,176.5 110.2,175.0 114.0,183.3 117.8,179.9 121.6,177.6 125.4,179.9 129.2,180.4 133.0,181.0 136.8,177.6 140.6,171.0 144.4,170.7 148.2,177.7 152.0,183.3 155.8,181.5 159.5,186.2 163.3,188.1 167.1,186.8 170.9,180.1 174.7,182.1 178.5,186.7 182.3,199.1 186.1,203.9 189.9,214.1 193.7,214.3 197.5,207.4 201.3,201.8 205.1,190.1 208.9,191.0 212.7,193.6 216.5,189.0 220.3,184.0 224.1,179.8 227.9,178.6 231.7,183.2 235.5,185.5 239.3,187.0 243.1,188.2 246.9,189.5 250.6,183.2 254.4,188.0 258.2,194.2 262.0,191.3 265.8,183.2 269.6,182.1 273.4,180.9 277.2,184.4 281.0,176.3 284.8,174.0 288.6,170.0 292.4,169.1 296.2,166.9 300.0,170.0 303.8,174.2 307.6,174.9 311.4,176.4 315.2,177.8 319.0,179.3 322.8,181.5 326.6,186.5 330.4,185.1 334.2,180.0 338.0,172.7 341.8,175.7 345.6,164.7 349.3,156.7 353.1,154.5 356.9,154.8 360.7,155.4 364.5,156.0 368.3,157.1 372.1,156.0 375.9,154.8 379.7,155.0 383.5,146.9 387.3,150.0 391.1,150.5 394.9,149.8 398.7,147.0 402.5,149.8 406.3,142.0 410.1,137.0 413.9,134.5 417.7,132.0 421.5,130.2 425.3,108.5 429.1,112.0 432.9,117.0 436.7,108.0 440.4,102.2 444.2,106.6 448.0,89.5 451.8,84.0 455.6,86.5 459.4,90.8 463.2,95.0 467.0,103.6 470.8,108.5 474.6,113.5 478.4,114.7 482.2,103.6 486.0,99.3 489.8,95.0 493.6,92.6 497.4,90.0 501.2,86.5 505.0,89.0 508.8,91.4 512.6,95.1 516.4,98.7 520.2,101.2 524.0,103.6 527.8,106.0 531.6,108.5 535.4,106.1" stroke="#7e2f8e" stroke-width="0.9"/>
<path d="M60.9 165.0v9.2M56.2 169.6h9.2M57.8 166.5l6.2 6.2M57.8 172.7l6.2 -6.2M64.6 162.4v9.2M60.0 167.0h9.2M61.5 163.9l6.2 6.2M61.5 170.1l6.2 -6.2M68.4 163.4v9.2M63.8 168.0h9.2M65.3 164.9l6.2 6.2M65.3 171.1l6.2 -6.2M72.2 165.4v9.2M67.6 170.0h9.2M69.1 166.9l6.2 6.2M69.1 173.1l6.2 -6.2M76.0 163.8v9.2M71.4 168.4h9.2M72.9 165.3l6.2 6.2M72.9 171.5l6.2 -6.2M79.8 167.4v9.2M75.2 172.0h9.2M76.7 168.9l6.2 6.2M76.7 175.1l6.2 -6.2M83.6 175.3v9.2M79.0 179.9h9.2M80.5 176.8l6.2 6.2M80.5 183.0l6.2 -6.2M87.4 169.4v9.2M82.8 174.0h9.2M84.3 170.9l6.2 6.2M84.3 177.1l6.2 -6.2M91.2 163.8v9.2M86.6 168.4h9.2M88.1 165.3l6.2 6.2M88.1 171.5l6.2 -6.2M95.0 163.8v9.2M90.4 168.4h9.2M91.9 165.3l6.2 6.2M91.9 171.5l6.2 -6.2M98.8 163.2v9.2M94.2 167.8h9.2M95.7 164.7l6.2 6.2M95.7 170.9l6.2 -6.2M102.6 161.7v9.2M98.0 166.3h9.2M99.5 163.2l6.2 6.2M99.5 169.4l6.2 -6.2M106.4 171.9v9.2M101.8 176.5h9.2M103.3 173.4l6.2 6.2M103.3 179.6l6.2 -6.2M110.2 170.4v9.2M105.6 175.0h9.2M107.1 171.9l6.2 6.2M107.1 178.1l6.2 -6.2M114.0 178.7v9.2M109.4 183.3h9.2M110.9 180.2l6.2 6.2M110.9 186.4l6.2 -6.2M117.8 175.3v9.2M113.2 179.9h9.2M114.7 176.8l6.2 6.2M114.7 183.0l6.2 -6.2M121.6 173.0v9.2M117.0 177.6h9.2M118.5 174.5l6.2 6.2M118.5 180.7l6.2 -6.2M125.4 175.3v9.2M120.8 179.9h9.2M122.3 176.8l6.2 6.2M122.3 183.0l6.2 -6.2M129.2 175.8v9.2M124.6 180.4h9.2M126.1 177.3l6.2 6.2M126.1 183.5l6.2 -6.2M133.0 176.4v9.2M128.4 181.0h9.2M129.9 177.9l6.2 6.2M129.9 184.1l6.2 -6.2M136.8 173.0v9.2M132.2 177.6h9.2M133.7 174.5l6.2 6.2M133.7 180.7l6.2 -6.2M140.6 166.4v9.2M136.0 171.0h9.2M137.5 167.9l6.2 6.2M137.5 174.1l6.2 -6.2M144.4 166.1v9.2M139.8 170.7h9.2M141.3 167.6l6.2 6.2M141.3 173.8l6.2 -6.2M148.2 173.1v9.2M143.6 177.7h9.2M145.1 174.6l6.2 6.2M145.1 180.8l6.2 -6.2M152.0 178.7v9.2M147.4 183.3h9.2M148.9 180.2l6.2 6.2M148.9 186.4l6.2 -6.2M155.8 176.9v9.2M151.2 181.5h9.2M152.7 178.4l6.2 6.2M152.7 184.6l6.2 -6.2M159.5 181.6v9.2M154.9 186.2h9.2M156.4 183.1l6.2 6.2M156.4 189.3l6.2 -6.2M163.3 183.5v9.2M158.7 188.1h9.2M160.2 185.0l6.2 6.2M160.2 191.2l6.2 -6.2M167.1 182.2v9.2M162.5 186.8h9.2M164.0 183.7l6.2 6.2M164.0 189.9l6.2 -6.2M170.9 175.5v9.2M166.3 180.1h9.2M167.8 177.0l6.2 6.2M167.8 183.2l6.2 -6.2M174.7 177.5v9.2M170.1 182.1h9.2M171.6 179.0l6.2 6.2M171.6 185.2l6.2 -6.2M178.5 182.1v9.2M173.9 186.7h9.2M175.4 183.6l6.2 6.2M175.4 189.8l6.2 -6.2M182.3 194.5v9.2M177.7 199.1h9.2M179.2 196.0l6.2 6.2M179.2 202.2l6.2 -6.2M186.1 199.3v9.2M181.5 203.9h9.2M183.0 200.8l6.2 6.2M183.0 207.0l6.2 -6.2M189.9 209.5v9.2M185.3 214.1h9.2M186.8 211.0l6.2 6.2M186.8 217.2l6.2 -6.2M193.7 209.7v9.2M189.1 214.3h9.2M190.6 211.2l6.2 6.2M190.6 217.4l6.2 -6.2M197.5 202.8v9.2M192.9 207.4h9.2M194.4 204.3l6.2 6.2M194.4 210.5l6.2 -6.2M201.3 197.2v9.2M196.7 201.8h9.2M198.2 198.7l6.2 6.2M198.2 204.9l6.2 -6.2M205.1 185.5v9.2M200.5 190.1h9.2M202.0 187.0l6.2 6.2M202.0 193.2l6.2 -6.2M208.9 186.4v9.2M204.3 191.0h9.2M205.8 187.9l6.2 6.2M205.8 194.1l6.2 -6.2M212.7 189.0v9.2M208.1 193.6h9.2M209.6 190.5l6.2 6.2M209.6 196.7l6.2 -6.2M216.5 184.4v9.2M211.9 189.0h9.2M213.4 185.9l6.2 6.2M213.4 192.1l6.2 -6.2M220.3 179.4v9.2M215.7 184.0h9.2M217.2 180.9l6.2 6.2M217.2 187.1l6.2 -6.2M224.1 175.2v9.2M219.5 179.8h9.2M221.0 176.7l6.2 6.2M221.0 182.9l6.2 -6.2M227.9 174.0v9.2M223.3 178.6h9.2M224.8 175.5l6.2 6.2M224.8 181.7l6.2 -6.2M231.7 178.6v9.2M227.1 183.2h9.2M228.6 180.1l6.2 6.2M228.6 186.3l6.2 -6.2M235.5 180.9v9.2M230.9 185.5h9.2M232.4 182.4l6.2 6.2M232.4 188.6l6.2 -6.2M239.3 182.4v9.2M234.7 187.0h9.2M236.2 183.9l6.2 6.2M236.2 190.1l6.2 -6.2M243.1 183.7v9.2M238.5 188.2h9.2M240.0 185.2l6.2 6.2M240.0 191.3l6.2 -6.2M246.9 184.9v9.2M242.3 189.5h9.2M243.8 186.4l6.2 6.2M243.8 192.6l6.2 -6.2M250.6 178.6v9.2M246.0 183.2h9.2M247.5 180.1l6.2 6.2M247.5 186.3l6.2 -6.2M254.4 183.4v9.2M249.8 188.0h9.2M251.3 184.9l6.2 6.2M251.3 191.1l6.2 -6.2M258.2 189.7v9.2M253.6 194.2h9.2M255.1 191.2l6.2 6.2M255.1 197.3l6.2 -6.2M262.0 186.7v9.2M257.4 191.3h9.2M258.9 188.2l6.2 6.2M258.9 194.4l6.2 -6.2M265.8 178.6v9.2M261.2 183.2h9.2M262.7 180.1l6.2 6.2M262.7 186.3l6.2 -6.2M269.6 177.5v9.2M265.0 182.1h9.2M266.5 179.0l6.2 6.2M266.5 185.2l6.2 -6.2M273.4 176.3v9.2M268.8 180.9h9.2M270.3 177.8l6.2 6.2M270.3 184.0l6.2 -6.2M277.2 179.8v9.2M272.6 184.4h9.2M274.1 181.3l6.2 6.2M274.1 187.5l6.2 -6.2M281.0 171.7v9.2M276.4 176.3h9.2M277.9 173.2l6.2 6.2M277.9 179.4l6.2 -6.2M284.8 169.4v9.2M280.2 174.0h9.2M281.7 170.9l6.2 6.2M281.7 177.1l6.2 -6.2M288.6 165.4v9.2M284.0 170.0h9.2M285.5 166.9l6.2 6.2M285.5 173.1l6.2 -6.2M292.4 164.5v9.2M287.8 169.1h9.2M289.3 166.0l6.2 6.2M289.3 172.2l6.2 -6.2M296.2 162.3v9.2M291.6 166.9h9.2M293.1 163.8l6.2 6.2M293.1 170.0l6.2 -6.2M300.0 165.4v9.2M295.4 170.0h9.2M296.9 166.9l6.2 6.2M296.9 173.1l6.2 -6.2M303.8 169.6v9.2M299.2 174.2h9.2M300.7 171.1l6.2 6.2M300.7 177.3l6.2 -6.2M307.6 170.3v9.2M303.0 174.9h9.2M304.5 171.8l6.2 6.2M304.5 178.0l6.2 -6.2M311.4 171.8v9.2M306.8 176.4h9.2M308.3 173.3l6.2 6.2M308.3 179.5l6.2 -6.2M315.2 173.2v9.2M310.6 177.8h9.2M312.1 174.7l6.2 6.2M312.1 180.9l6.2 -6.2M319.0 174.7v9.2M314.4 179.3h9.2M315.9 176.2l6.2 6.2M315.9 182.4l6.2 -6.2M322.8 176.9v9.2M318.2 181.5h9.2M319.7 178.4l6.2 6.2M319.7 184.6l6.2 -6.2M326.6 181.9v9.2M322.0 186.5h9.2M323.5 183.4l6.2 6.2M323.5 189.6l6.2 -6.2M330.4 180.5v9.2M325.8 185.1h9.2M327.3 182.0l6.2 6.2M327.3 188.2l6.2 -6.2M334.2 175.4v9.2M329.6 180.0h9.2M331.1 176.9l6.2 6.2M331.1 183.1l6.2 -6.2M338.0 168.1v9.2M333.4 172.7h9.2M334.9 169.6l6.2 6.2M334.9 175.8l6.2 -6.2M341.8 171.1v9.2M337.2 175.7h9.2M338.7 172.6l6.2 6.2M338.7 178.8l6.2 -6.2M345.6 160.1v9.2M340.9 164.7h9.2M342.4 161.6l6.2 6.2M342.4 167.8l6.2 -6.2M349.3 152.1v9.2M344.7 156.7h9.2M346.2 153.6l6.2 6.2M346.2 159.8l6.2 -6.2M353.1 149.9v9.2M348.5 154.5h9.2M350.0 151.4l6.2 6.2M350.0 157.6l6.2 -6.2M356.9 150.2v9.2M352.3 154.8h9.2M353.8 151.7l6.2 6.2M353.8 157.9l6.2 -6.2M360.7 150.8v9.2M356.1 155.4h9.2M357.6 152.3l6.2 6.2M357.6 158.5l6.2 -6.2M364.5 151.4v9.2M359.9 156.0h9.2M361.4 152.9l6.2 6.2M361.4 159.1l6.2 -6.2M368.3 152.5v9.2M363.7 157.1h9.2M365.2 154.0l6.2 6.2M365.2 160.2l6.2 -6.2M372.1 151.4v9.2M367.5 156.0h9.2M369.0 152.9l6.2 6.2M369.0 159.1l6.2 -6.2M375.9 150.2v9.2M371.3 154.8h9.2M372.8 151.7l6.2 6.2M372.8 157.9l6.2 -6.2M379.7 150.4v9.2M375.1 155.0h9.2M376.6 151.9l6.2 6.2M376.6 158.1l6.2 -6.2M383.5 142.3v9.2M378.9 146.9h9.2M380.4 143.8l6.2 6.2M380.4 150.0l6.2 -6.2M387.3 145.4v9.2M382.7 150.0h9.2M384.2 146.9l6.2 6.2M384.2 153.1l6.2 -6.2M391.1 145.9v9.2M386.5 150.5h9.2M388.0 147.4l6.2 6.2M388.0 153.6l6.2 -6.2M394.9 145.2v9.2M390.3 149.8h9.2M391.8 146.7l6.2 6.2M391.8 152.9l6.2 -6.2M398.7 142.4v9.2M394.1 147.0h9.2M395.6 143.9l6.2 6.2M395.6 150.1l6.2 -6.2M402.5 145.2v9.2M397.9 149.8h9.2M399.4 146.7l6.2 6.2M399.4 152.9l6.2 -6.2M406.3 137.4v9.2M401.7 142.0h9.2M403.2 138.9l6.2 6.2M403.2 145.1l6.2 -6.2M410.1 132.4v9.2M405.5 137.0h9.2M407.0 133.9l6.2 6.2M407.0 140.1l6.2 -6.2M413.9 129.9v9.2M409.3 134.5h9.2M410.8 131.4l6.2 6.2M410.8 137.6l6.2 -6.2M417.7 127.4v9.2M413.1 132.0h9.2M414.6 128.9l6.2 6.2M414.6 135.1l6.2 -6.2M421.5 125.6v9.2M416.9 130.2h9.2M418.4 127.1l6.2 6.2M418.4 133.3l6.2 -6.2M425.3 103.9v9.2M420.7 108.5h9.2M422.2 105.4l6.2 6.2M422.2 111.6l6.2 -6.2M429.1 107.4v9.2M424.5 112.0h9.2M426.0 108.9l6.2 6.2M426.0 115.1l6.2 -6.2M432.9 112.4v9.2M428.3 117.0h9.2M429.8 113.9l6.2 6.2M429.8 120.1l6.2 -6.2M436.7 103.4v9.2M432.1 108.0h9.2M433.6 104.9l6.2 6.2M433.6 111.1l6.2 -6.2M440.4 97.6v9.2M435.8 102.2h9.2M437.3 99.1l6.2 6.2M437.3 105.3l6.2 -6.2M444.2 102.0v9.2M439.6 106.6h9.2M441.1 103.5l6.2 6.2M441.1 109.7l6.2 -6.2M448.0 84.9v9.2M443.4 89.5h9.2M444.9 86.4l6.2 6.2M444.9 92.6l6.2 -6.2M451.8 79.4v9.2M447.2 84.0h9.2M448.7 80.9l6.2 6.2M448.7 87.1l6.2 -6.2M455.6 81.9v9.2M451.0 86.5h9.2M452.5 83.4l6.2 6.2M452.5 89.6l6.2 -6.2M459.4 86.2v9.2M454.8 90.8h9.2M456.3 87.7l6.2 6.2M456.3 93.8l6.2 -6.2M463.2 90.4v9.2M458.6 95.0h9.2M460.1 91.9l6.2 6.2M460.1 98.1l6.2 -6.2M467.0 99.0v9.2M462.4 103.6h9.2M463.9 100.5l6.2 6.2M463.9 106.7l6.2 -6.2M470.8 103.9v9.2M466.2 108.5h9.2M467.7 105.4l6.2 6.2M467.7 111.6l6.2 -6.2M474.6 108.9v9.2M470.0 113.5h9.2M471.5 110.4l6.2 6.2M471.5 116.6l6.2 -6.2M478.4 110.1v9.2M473.8 114.7h9.2M475.3 111.6l6.2 6.2M475.3 117.8l6.2 -6.2M482.2 99.0v9.2M477.6 103.6h9.2M479.1 100.5l6.2 6.2M479.1 106.7l6.2 -6.2M486.0 94.7v9.2M481.4 99.3h9.2M482.9 96.2l6.2 6.2M482.9 102.4l6.2 -6.2M489.8 90.4v9.2M485.2 95.0h9.2M486.7 91.9l6.2 6.2M486.7 98.1l6.2 -6.2M493.6 88.0v9.2M489.0 92.6h9.2M490.5 89.5l6.2 6.2M490.5 95.7l6.2 -6.2M497.4 85.4v9.2M492.8 90.0h9.2M494.3 86.9l6.2 6.2M494.3 93.1l6.2 -6.2M501.2 81.9v9.2M496.6 86.5h9.2M498.1 83.4l6.2 6.2M498.1 89.6l6.2 -6.2M505.0 84.4v9.2M500.4 89.0h9.2M501.9 85.9l6.2 6.2M501.9 92.1l6.2 -6.2M508.8 86.8v9.2M504.2 91.4h9.2M505.7 88.3l6.2 6.2M505.7 94.5l6.2 -6.2M512.6 90.5v9.2M508.0 95.1h9.2M509.5 92.0l6.2 6.2M509.5 98.2l6.2 -6.2M516.4 94.1v9.2M511.8 98.7h9.2M513.3 95.6l6.2 6.2M513.3 101.8l6.2 -6.2M520.2 96.6v9.2M515.6 101.2h9.2M517.1 98.1l6.2 6.2M517.1 104.3l6.2 -6.2M524.0 99.0v9.2M519.4 103.6h9.2M520.9 100.5l6.2 6.2M520.9 106.7l6.2 -6.2M527.8 101.5v9.2M523.2 106.0h9.2M524.7 103.0l6.2 6.2M524.7 109.1l6.2 -6.2M531.6 103.9v9.2M527.0 108.5h9.2M528.5 105.4l6.2 6.2M528.5 111.6l6.2 -6.2M535.4 101.5v9.2M530.8 106.1h9.2M532.2 103.0l6.2 6.2M532.2 109.2l6.2 -6.2" stroke="#7e2f8e" stroke-width="0.9"/>
<polyline points="60.9,166.0 64.6,160.0 68.4,154.0 72.2,156.0 76.0,152.0 79.8,155.0 83.6,152.0 87.4,150.0 91.2,153.0 95.0,150.0 98.8,148.0 102.6,152.0 106.4,150.0 110.2,153.0 114.0,151.5 117.8,150.0 121.6,147.0 125.4,143.0 129.2,139.5 133.0,145.4 136.8,146.0 140.6,144.0 144.4,140.5 148.2,137.0 152.0,135.2 155.8,137.0 159.5,141.0 163.3,137.0 167.1,133.7 170.9,131.0 174.7,118.4 178.5,104.0 182.3,99.8 186.1,111.3 189.9,115.9 193.7,121.6 197.5,127.4 201.3,129.1 205.1,130.8 208.9,118.2 212.7,123.9 216.5,115.9 220.3,109.0 224.1,102.1 227.9,100.3 231.7,98.6 235.5,94.0 239.3,92.9 243.1,94.0 246.9,95.2 250.6,95.2 254.4,95.2 258.2,94.0 262.0,91.7 265.8,89.4 269.6,87.7 273.4,86.0 277.2,84.8 281.0,82.5 284.8,80.2 288.6,85.0 292.4,79.3 296.2,73.7 300.0,69.1 303.8,64.5 307.6,65.7 311.4,66.8 315.2,73.7 319.0,80.6 322.8,85.2 326.6,81.7 330.4,72.5 334.2,65.6 338.0,58.7 341.8,53.0 345.6,67.9 349.3,70.2 353.1,66.8 356.9,63.3 360.7,71.4 364.5,76.0 368.3,74.2 372.1,72.5 375.9,74.8 379.7,79.4 383.5,85.2 387.3,74.8 391.1,69.7 394.9,64.5 398.7,73.7 402.5,84.0 406.3,92.1 410.1,95.0 413.9,92.0 417.7,88.9 421.5,97.8 425.3,109.3 429.1,108.0 432.9,99.1 436.7,105.4 440.4,113.1 444.2,116.0 448.0,118.2 451.8,119.0 455.6,121.0 459.4,125.8 463.2,134.7 467.0,137.3 470.8,131.6 474.6,125.8 478.4,118.2 482.2,117.0 486.0,116.9 489.8,120.7 493.6,116.3 497.4,112.0 501.2,100.0 505.0,91.4 508.8,92.6 512.6,93.8 516.4,96.3 520.2,94.4 524.0,92.6 527.8,88.9 531.6,82.8 535.4,85.2" stroke="#4dbeee" stroke-width="0.9"/>
<path d="M60.9 161.4v9.2M56.2 166.0h9.2M57.8 162.9l6.2 6.2M57.8 169.1l6.2 -6.2M64.6 155.4v9.2M60.0 160.0h9.2M61.5 156.9l6.2 6.2M61.5 163.1l6.2 -6.2M68.4 149.4v9.2M63.8 154.0h9.2M65.3 150.9l6.2 6.2M65.3 157.1l6.2 -6.2M72.2 151.4v9.2M67.6 156.0h9.2M69.1 152.9l6.2 6.2M69.1 159.1l6.2 -6.2M76.0 147.4v9.2M71.4 152.0h9.2M72.9 148.9l6.2 6.2M72.9 155.1l6.2 -6.2M79.8 150.4v9.2M75.2 155.0h9.2M76.7 151.9l6.2 6.2M76.7 158.1l6.2 -6.2M83.6 147.4v9.2M79.0 152.0h9.2M80.5 148.9l6.2 6.2M80.5 155.1l6.2 -6.2M87.4 145.4v9.2M82.8 150.0h9.2M84.3 146.9l6.2 6.2M84.3 153.1l6.2 -6.2M91.2 148.4v9.2M86.6 153.0h9.2M88.1 149.9l6.2 6.2M88.1 156.1l6.2 -6.2M95.0 145.4v9.2M90.4 150.0h9.2M91.9 146.9l6.2 6.2M91.9 153.1l6.2 -6.2M98.8 143.4v9.2M94.2 148.0h9.2M95.7 144.9l6.2 6.2M95.7 151.1l6.2 -6.2M102.6 147.4v9.2M98.0 152.0h9.2M99.5 148.9l6.2 6.2M99.5 155.1l6.2 -6.2M106.4 145.4v9.2M101.8 150.0h9.2M103.3 146.9l6.2 6.2M103.3 153.1l6.2 -6.2M110.2 148.4v9.2M105.6 153.0h9.2M107.1 149.9l6.2 6.2M107.1 156.1l6.2 -6.2M114.0 146.9v9.2M109.4 151.5h9.2M110.9 148.4l6.2 6.2M110.9 154.6l6.2 -6.2M117.8 145.4v9.2M113.2 150.0h9.2M114.7 146.9l6.2 6.2M114.7 153.1l6.2 -6.2M121.6 142.4v9.2M117.0 147.0h9.2M118.5 143.9l6.2 6.2M118.5 150.1l6.2 -6.2M125.4 138.4v9.2M120.8 143.0h9.2M122.3 139.9l6.2 6.2M122.3 146.1l6.2 -6.2M129.2 134.9v9.2M124.6 139.5h9.2M126.1 136.4l6.2 6.2M126.1 142.6l6.2 -6.2M133.0 140.8v9.2M128.4 145.4h9.2M129.9 142.3l6.2 6.2M129.9 148.5l6.2 -6.2M136.8 141.4v9.2M132.2 146.0h9.2M133.7 142.9l6.2 6.2M133.7 149.1l6.2 -6.2M140.6 139.4v9.2M136.0 144.0h9.2M137.5 140.9l6.2 6.2M137.5 147.1l6.2 -6.2M144.4 135.9v9.2M139.8 140.5h9.2M141.3 137.4l6.2 6.2M141.3 143.6l6.2 -6.2M148.2 132.4v9.2M143.6 137.0h9.2M145.1 133.9l6.2 6.2M145.1 140.1l6.2 -6.2M152.0 130.6v9.2M147.4 135.2h9.2M148.9 132.1l6.2 6.2M148.9 138.3l6.2 -6.2M155.8 132.4v9.2M151.2 137.0h9.2M152.7 133.9l6.2 6.2M152.7 140.1l6.2 -6.2M159.5 136.4v9.2M154.9 141.0h9.2M156.4 137.9l6.2 6.2M156.4 144.1l6.2 -6.2M163.3 132.4v9.2M158.7 137.0h9.2M160.2 133.9l6.2 6.2M160.2 140.1l6.2 -6.2M167.1 129.1v9.2M162.5 133.7h9.2M164.0 130.6l6.2 6.2M164.0 136.8l6.2 -6.2M170.9 126.4v9.2M166.3 131.0h9.2M167.8 127.9l6.2 6.2M167.8 134.1l6.2 -6.2M174.7 113.8v9.2M170.1 118.4h9.2M171.6 115.3l6.2 6.2M171.6 121.5l6.2 -6.2M178.5 99.4v9.2M173.9 104.0h9.2M175.4 100.9l6.2 6.2M175.4 107.1l6.2 -6.2M182.3 95.2v9.2M177.7 99.8h9.2M179.2 96.7l6.2 6.2M179.2 102.9l6.2 -6.2M186.1 106.7v9.2M181.5 111.3h9.2M183.0 108.2l6.2 6.2M183.0 114.4l6.2 -6.2M189.9 111.3v9.2M185.3 115.9h9.2M186.8 112.8l6.2 6.2M186.8 119.0l6.2 -6.2M193.7 117.0v9.2M189.1 121.6h9.2M190.6 118.5l6.2 6.2M190.6 124.7l6.2 -6.2M197.5 122.8v9.2M192.9 127.4h9.2M194.4 124.3l6.2 6.2M194.4 130.5l6.2 -6.2M201.3 124.5v9.2M196.7 129.1h9.2M198.2 126.0l6.2 6.2M198.2 132.2l6.2 -6.2M205.1 126.2v9.2M200.5 130.8h9.2M202.0 127.7l6.2 6.2M202.0 133.9l6.2 -6.2M208.9 113.6v9.2M204.3 118.2h9.2M205.8 115.1l6.2 6.2M205.8 121.3l6.2 -6.2M212.7 119.3v9.2M208.1 123.9h9.2M209.6 120.8l6.2 6.2M209.6 127.0l6.2 -6.2M216.5 111.3v9.2M211.9 115.9h9.2M213.4 112.8l6.2 6.2M213.4 119.0l6.2 -6.2M220.3 104.4v9.2M215.7 109.0h9.2M217.2 105.9l6.2 6.2M217.2 112.1l6.2 -6.2M224.1 97.5v9.2M219.5 102.1h9.2M221.0 99.0l6.2 6.2M221.0 105.2l6.2 -6.2M227.9 95.8v9.2M223.3 100.3h9.2M224.8 97.2l6.2 6.2M224.8 103.4l6.2 -6.2M231.7 94.0v9.2M227.1 98.6h9.2M228.6 95.5l6.2 6.2M228.6 101.7l6.2 -6.2M235.5 89.4v9.2M230.9 94.0h9.2M232.4 90.9l6.2 6.2M232.4 97.1l6.2 -6.2M239.3 88.3v9.2M234.7 92.9h9.2M236.2 89.8l6.2 6.2M236.2 96.0l6.2 -6.2M243.1 89.4v9.2M238.5 94.0h9.2M240.0 90.9l6.2 6.2M240.0 97.1l6.2 -6.2M246.9 90.6v9.2M242.3 95.2h9.2M243.8 92.1l6.2 6.2M243.8 98.3l6.2 -6.2M250.6 90.6v9.2M246.0 95.2h9.2M247.5 92.1l6.2 6.2M247.5 98.3l6.2 -6.2M254.4 90.6v9.2M249.8 95.2h9.2M251.3 92.1l6.2 6.2M251.3 98.3l6.2 -6.2M258.2 89.4v9.2M253.6 94.0h9.2M255.1 90.9l6.2 6.2M255.1 97.1l6.2 -6.2M262.0 87.1v9.2M257.4 91.7h9.2M258.9 88.6l6.2 6.2M258.9 94.8l6.2 -6.2M265.8 84.8v9.2M261.2 89.4h9.2M262.7 86.3l6.2 6.2M262.7 92.5l6.2 -6.2M269.6 83.1v9.2M265.0 87.7h9.2M266.5 84.6l6.2 6.2M266.5 90.8l6.2 -6.2M273.4 81.4v9.2M268.8 86.0h9.2M270.3 82.9l6.2 6.2M270.3 89.1l6.2 -6.2M277.2 80.2v9.2M272.6 84.8h9.2M274.1 81.7l6.2 6.2M274.1 87.9l6.2 -6.2M281.0 77.9v9.2M276.4 82.5h9.2M277.9 79.4l6.2 6.2M277.9 85.6l6.2 -6.2M284.8 75.6v9.2M280.2 80.2h9.2M281.7 77.1l6.2 6.2M281.7 83.3l6.2 -6.2M288.6 80.4v9.2M284.0 85.0h9.2M285.5 81.9l6.2 6.2M285.5 88.1l6.2 -6.2M292.4 74.8v9.2M287.8 79.3h9.2M289.3 76.2l6.2 6.2M289.3 82.4l6.2 -6.2M296.2 69.1v9.2M291.6 73.7h9.2M293.1 70.6l6.2 6.2M293.1 76.8l6.2 -6.2M300.0 64.5v9.2M295.4 69.1h9.2M296.9 66.0l6.2 6.2M296.9 72.2l6.2 -6.2M303.8 59.9v9.2M299.2 64.5h9.2M300.7 61.4l6.2 6.2M300.7 67.6l6.2 -6.2M307.6 61.1v9.2M303.0 65.7h9.2M304.5 62.6l6.2 6.2M304.5 68.8l6.2 -6.2M311.4 62.2v9.2M306.8 66.8h9.2M308.3 63.7l6.2 6.2M308.3 69.9l6.2 -6.2M315.2 69.1v9.2M310.6 73.7h9.2M312.1 70.6l6.2 6.2M312.1 76.8l6.2 -6.2M319.0 76.0v9.2M314.4 80.6h9.2M315.9 77.5l6.2 6.2M315.9 83.7l6.2 -6.2M322.8 80.6v9.2M318.2 85.2h9.2M319.7 82.1l6.2 6.2M319.7 88.3l6.2 -6.2M326.6 77.1v9.2M322.0 81.7h9.2M323.5 78.6l6.2 6.2M323.5 84.8l6.2 -6.2M330.4 67.9v9.2M325.8 72.5h9.2M327.3 69.4l6.2 6.2M327.3 75.6l6.2 -6.2M334.2 61.0v9.2M329.6 65.6h9.2M331.1 62.5l6.2 6.2M331.1 68.7l6.2 -6.2M338.0 54.1v9.2M333.4 58.7h9.2M334.9 55.6l6.2 6.2M334.9 61.8l6.2 -6.2M341.8 48.4v9.2M337.2 53.0h9.2M338.7 49.9l6.2 6.2M338.7 56.1l6.2 -6.2M345.6 63.3v9.2M340.9 67.9h9.2M342.4 64.8l6.2 6.2M342.4 71.0l6.2 -6.2M349.3 65.6v9.2M344.7 70.2h9.2M346.2 67.1l6.2 6.2M346.2 73.3l6.2 -6.2M353.1 62.1v9.2M348.5 66.8h9.2M350.0 63.6l6.2 6.2M350.0 69.8l6.2 -6.2M356.9 58.7v9.2M352.3 63.3h9.2M353.8 60.2l6.2 6.2M353.8 66.4l6.2 -6.2M360.7 66.8v9.2M356.1 71.4h9.2M357.6 68.3l6.2 6.2M357.6 74.5l6.2 -6.2M364.5 71.4v9.2M359.9 76.0h9.2M361.4 72.9l6.2 6.2M361.4 79.1l6.2 -6.2M368.3 69.7v9.2M363.7 74.2h9.2M365.2 71.2l6.2 6.2M365.2 77.3l6.2 -6.2M372.1 67.9v9.2M367.5 72.5h9.2M369.0 69.4l6.2 6.2M369.0 75.6l6.2 -6.2M375.9 70.2v9.2M371.3 74.8h9.2M372.8 71.7l6.2 6.2M372.8 77.9l6.2 -6.2M379.7 74.8v9.2M375.1 79.4h9.2M376.6 76.3l6.2 6.2M376.6 82.5l6.2 -6.2M383.5 80.6v9.2M378.9 85.2h9.2M380.4 82.1l6.2 6.2M380.4 88.3l6.2 -6.2M387.3 70.2v9.2M382.7 74.8h9.2M384.2 71.7l6.2 6.2M384.2 77.9l6.2 -6.2M391.1 65.1v9.2M386.5 69.7h9.2M388.0 66.6l6.2 6.2M388.0 72.8l6.2 -6.2M394.9 59.9v9.2M390.3 64.5h9.2M391.8 61.4l6.2 6.2M391.8 67.6l6.2 -6.2M398.7 69.1v9.2M394.1 73.7h9.2M395.6 70.6l6.2 6.2M395.6 76.8l6.2 -6.2M402.5 79.4v9.2M397.9 84.0h9.2M399.4 80.9l6.2 6.2M399.4 87.1l6.2 -6.2M406.3 87.5v9.2M401.7 92.1h9.2M403.2 89.0l6.2 6.2M403.2 95.2l6.2 -6.2M410.1 90.4v9.2M405.5 95.0h9.2M407.0 91.9l6.2 6.2M407.0 98.1l6.2 -6.2M413.9 87.4v9.2M409.3 92.0h9.2M410.8 88.9l6.2 6.2M410.8 95.1l6.2 -6.2M417.7 84.3v9.2M413.1 88.9h9.2M414.6 85.8l6.2 6.2M414.6 92.0l6.2 -6.2M421.5 93.2v9.2M416.9 97.8h9.2M418.4 94.7l6.2 6.2M418.4 100.9l6.2 -6.2M425.3 104.7v9.2M420.7 109.3h9.2M422.2 106.2l6.2 6.2M422.2 112.4l6.2 -6.2M429.1 103.4v9.2M424.5 108.0h9.2M426.0 104.9l6.2 6.2M426.0 111.1l6.2 -6.2M432.9 94.5v9.2M428.3 99.1h9.2M429.8 96.0l6.2 6.2M429.8 102.2l6.2 -6.2M436.7 100.8v9.2M432.1 105.4h9.2M433.6 102.3l6.2 6.2M433.6 108.5l6.2 -6.2M440.4 108.5v9.2M435.8 113.1h9.2M437.3 110.0l6.2 6.2M437.3 116.2l6.2 -6.2M444.2 111.4v9.2M439.6 116.0h9.2M441.1 112.9l6.2 6.2M441.1 119.1l6.2 -6.2M448.0 113.6v9.2M443.4 118.2h9.2M444.9 115.1l6.2 6.2M444.9 121.3l6.2 -6.2M451.8 114.4v9.2M447.2 119.0h9.2M448.7 115.9l6.2 6.2M448.7 122.1l6.2 -6.2M455.6 116.4v9.2M451.0 121.0h9.2M452.5 117.9l6.2 6.2M452.5 124.1l6.2 -6.2M459.4 121.2v9.2M454.8 125.8h9.2M456.3 122.7l6.2 6.2M456.3 128.9l6.2 -6.2M463.2 130.1v9.2M458.6 134.7h9.2M460.1 131.6l6.2 6.2M460.1 137.8l6.2 -6.2M467.0 132.7v9.2M462.4 137.3h9.2M463.9 134.2l6.2 6.2M463.9 140.4l6.2 -6.2M470.8 127.0v9.2M466.2 131.6h9.2M467.7 128.5l6.2 6.2M467.7 134.7l6.2 -6.2M474.6 121.2v9.2M470.0 125.8h9.2M471.5 122.7l6.2 6.2M471.5 128.9l6.2 -6.2M478.4 113.6v9.2M473.8 118.2h9.2M475.3 115.1l6.2 6.2M475.3 121.3l6.2 -6.2M482.2 112.4v9.2M477.6 117.0h9.2M479.1 113.9l6.2 6.2M479.1 120.1l6.2 -6.2M486.0 112.3v9.2M481.4 116.9h9.2M482.9 113.8l6.2 6.2M482.9 120.0l6.2 -6.2M489.8 116.1v9.2M485.2 120.7h9.2M486.7 117.6l6.2 6.2M486.7 123.8l6.2 -6.2M493.6 111.8v9.2M489.0 116.3h9.2M490.5 113.2l6.2 6.2M490.5 119.4l6.2 -6.2M497.4 107.4v9.2M492.8 112.0h9.2M494.3 108.9l6.2 6.2M494.3 115.1l6.2 -6.2M501.2 95.4v9.2M496.6 100.0h9.2M498.1 96.9l6.2 6.2M498.1 103.1l6.2 -6.2M505.0 86.8v9.2M500.4 91.4h9.2M501.9 88.3l6.2 6.2M501.9 94.5l6.2 -6.2M508.8 88.0v9.2M504.2 92.6h9.2M505.7 89.5l6.2 6.2M505.7 95.7l6.2 -6.2M512.6 89.2v9.2M508.0 93.8h9.2M509.5 90.7l6.2 6.2M509.5 96.9l6.2 -6.2M516.4 91.7v9.2M511.8 96.3h9.2M513.3 93.2l6.2 6.2M513.3 99.4l6.2 -6.2M520.2 89.8v9.2M515.6 94.4h9.2M517.1 91.3l6.2 6.2M517.1 97.5l6.2 -6.2M524.0 88.0v9.2M519.4 92.6h9.2M520.9 89.5l6.2 6.2M520.9 95.7l6.2 -6.2M527.8 84.3v9.2M523.2 88.9h9.2M524.7 85.8l6.2 6.2M524.7 92.0l6.2 -6.2M531.6 78.2v9.2M527.0 82.8h9.2M528.5 79.7l6.2 6.2M528.5 85.9l6.2 -6.2M535.4 80.6v9.2M530.8 85.2h9.2M532.2 82.1l6.2 6.2M532.2 88.3l6.2 -6.2" stroke="#4dbeee" stroke-width="0.9"/>
<polyline points="60.9,159.0 64.6,156.0 68.4,152.0 72.2,150.0 76.0,148.0 79.8,146.0 83.6,147.0 87.4,145.0 91.2,143.0 95.0,142.0 98.8,142.0 102.6,141.0 106.4,135.0 110.2,131.8 114.0,128.7 117.8,117.2 121.6,128.7 125.4,132.2 129.2,133.3 133.0,134.5 136.8,139.0 140.6,142.5 144.4,139.7 148.2,136.8 152.0,134.5 155.8,136.8 159.5,140.2 163.3,142.5 167.1,146.0 170.9,142.5 174.7,139.0 178.5,131.0 182.3,128.5 186.1,130.0 189.9,127.4 193.7,130.8 197.5,131.4 201.3,132.0 205.1,132.0 208.9,131.0 212.7,132.0 216.5,113.6 220.3,118.2 224.1,118.2 227.9,100.9 231.7,106.7 235.5,104.4 239.3,111.3 243.1,106.7 246.9,100.9 250.6,99.8 254.4,98.6 258.2,98.6 262.0,91.7 265.8,102.1 269.6,113.6 273.4,111.3 277.2,115.9 281.0,126.6 284.8,131.4 288.6,134.7 292.4,139.5 296.2,142.2 300.0,144.9 303.8,144.1 307.6,143.3 311.4,146.8 315.2,147.9 319.0,150.0 322.8,152.0 326.6,154.1 330.4,159.6 334.2,145.6 338.0,145.1 341.8,144.5 345.6,142.2 349.3,143.0 353.1,145.6 356.9,149.1 360.7,150.8 364.5,152.5 368.3,157.1 372.1,153.7 375.9,139.9 379.7,138.7 383.5,136.0 387.3,134.5 391.1,133.0 394.9,136.4 398.7,133.0 402.5,130.7 406.3,123.9 410.1,124.2 413.9,124.5 417.7,124.5 421.5,127.1 425.3,123.0 429.1,121.2 432.9,119.4 436.7,120.0 440.4,124.5 444.2,128.3 448.0,129.6 451.8,130.9 455.6,125.0 459.4,118.2 463.2,121.6 467.0,125.0 470.8,132.2 474.6,132.2 478.4,125.0 482.2,121.6 486.0,118.2 489.8,112.0 493.6,108.0 497.4,103.0 501.2,99.1 505.0,90.0 508.8,79.1 512.6,76.7 516.4,74.2 520.2,74.0 524.0,74.2 527.8,73.6 531.6,73.0 535.4,75.4" stroke="#77ac30" stroke-width="0.9"/>
<path d="M60.9 154.4v9.2M56.2 159.0h9.2M57.8 155.9l6.2 6.2M57.8 162.1l6.2 -6.2M64.6 151.4v9.2M60.0 156.0h9.2M61.5 152.9l6.2 6.2M61.5 159.1l6.2 -6.2M68.4 147.4v9.2M63.8 152.0h9.2M65.3 148.9l6.2 6.2M65.3 155.1l6.2 -6.2M72.2 145.4v9.2M67.6 150.0h9.2M69.1 146.9l6.2 6.2M69.1 153.1l6.2 -6.2M76.0 143.4v9.2M71.4 148.0h9.2M72.9 144.9l6.2 6.2M72.9 151.1l6.2 -6.2M79.8 141.4v9.2M75.2 146.0h9.2M76.7 142.9l6.2 6.2M76.7 149.1l6.2 -6.2M83.6 142.4v9.2M79.0 147.0h9.2M80.5 143.9l6.2 6.2M80.5 150.1l6.2 -6.2M87.4 140.4v9.2M82.8 145.0h9.2M84.3 141.9l6.2 6.2M84.3 148.1l6.2 -6.2M91.2 138.4v9.2M86.6 143.0h9.2M88.1 139.9l6.2 6.2M88.1 146.1l6.2 -6.2M95.0 137.4v9.2M90.4 142.0h9.2M91.9 138.9l6.2 6.2M91.9 145.1l6.2 -6.2M98.8 137.4v9.2M94.2 142.0h9.2M95.7 138.9l6.2 6.2M95.7 145.1l6.2 -6.2M102.6 136.4v9.2M98.0 141.0h9.2M99.5 137.9l6.2 6.2M99.5 144.1l6.2 -6.2M106.4 130.4v9.2M101.8 135.0h9.2M103.3 131.9l6.2 6.2M103.3 138.1l6.2 -6.2M110.2 127.2v9.2M105.6 131.8h9.2M107.1 128.8l6.2 6.2M107.1 134.9l6.2 -6.2M114.0 124.1v9.2M109.4 128.7h9.2M110.9 125.6l6.2 6.2M110.9 131.8l6.2 -6.2M117.8 112.6v9.2M113.2 117.2h9.2M114.7 114.1l6.2 6.2M114.7 120.3l6.2 -6.2M121.6 124.1v9.2M117.0 128.7h9.2M118.5 125.6l6.2 6.2M118.5 131.8l6.2 -6.2M125.4 127.6v9.2M120.8 132.2h9.2M122.3 129.1l6.2 6.2M122.3 135.3l6.2 -6.2M129.2 128.8v9.2M124.6 133.3h9.2M126.1 130.2l6.2 6.2M126.1 136.4l6.2 -6.2M133.0 129.9v9.2M128.4 134.5h9.2M129.9 131.4l6.2 6.2M129.9 137.6l6.2 -6.2M136.8 134.4v9.2M132.2 139.0h9.2M133.7 135.9l6.2 6.2M133.7 142.1l6.2 -6.2M140.6 137.9v9.2M136.0 142.5h9.2M137.5 139.4l6.2 6.2M137.5 145.6l6.2 -6.2M144.4 135.1v9.2M139.8 139.7h9.2M141.3 136.6l6.2 6.2M141.3 142.8l6.2 -6.2M148.2 132.2v9.2M143.6 136.8h9.2M145.1 133.7l6.2 6.2M145.1 139.9l6.2 -6.2M152.0 129.9v9.2M147.4 134.5h9.2M148.9 131.4l6.2 6.2M148.9 137.6l6.2 -6.2M155.8 132.2v9.2M151.2 136.8h9.2M152.7 133.7l6.2 6.2M152.7 139.9l6.2 -6.2M159.5 135.6v9.2M154.9 140.2h9.2M156.4 137.1l6.2 6.2M156.4 143.3l6.2 -6.2M163.3 137.9v9.2M158.7 142.5h9.2M160.2 139.4l6.2 6.2M160.2 145.6l6.2 -6.2M167.1 141.4v9.2M162.5 146.0h9.2M164.0 142.9l6.2 6.2M164.0 149.1l6.2 -6.2M170.9 137.9v9.2M166.3 142.5h9.2M167.8 139.4l6.2 6.2M167.8 145.6l6.2 -6.2M174.7 134.4v9.2M170.1 139.0h9.2M171.6 135.9l6.2 6.2M171.6 142.1l6.2 -6.2M178.5 126.4v9.2M173.9 131.0h9.2M175.4 127.9l6.2 6.2M175.4 134.1l6.2 -6.2M182.3 123.9v9.2M177.7 128.5h9.2M179.2 125.4l6.2 6.2M179.2 131.6l6.2 -6.2M186.1 125.4v9.2M181.5 130.0h9.2M183.0 126.9l6.2 6.2M183.0 133.1l6.2 -6.2M189.9 122.8v9.2M185.3 127.4h9.2M186.8 124.3l6.2 6.2M186.8 130.5l6.2 -6.2M193.7 126.2v9.2M189.1 130.8h9.2M190.6 127.7l6.2 6.2M190.6 133.9l6.2 -6.2M197.5 126.8v9.2M192.9 131.4h9.2M194.4 128.3l6.2 6.2M194.4 134.5l6.2 -6.2M201.3 127.4v9.2M196.7 132.0h9.2M198.2 128.9l6.2 6.2M198.2 135.1l6.2 -6.2M205.1 127.4v9.2M200.5 132.0h9.2M202.0 128.9l6.2 6.2M202.0 135.1l6.2 -6.2M208.9 126.4v9.2M204.3 131.0h9.2M205.8 127.9l6.2 6.2M205.8 134.1l6.2 -6.2M212.7 127.4v9.2M208.1 132.0h9.2M209.6 128.9l6.2 6.2M209.6 135.1l6.2 -6.2M216.5 109.0v9.2M211.9 113.6h9.2M213.4 110.5l6.2 6.2M213.4 116.7l6.2 -6.2M220.3 113.6v9.2M215.7 118.2h9.2M217.2 115.1l6.2 6.2M217.2 121.3l6.2 -6.2M224.1 113.6v9.2M219.5 118.2h9.2M221.0 115.1l6.2 6.2M221.0 121.3l6.2 -6.2M227.9 96.3v9.2M223.3 100.9h9.2M224.8 97.8l6.2 6.2M224.8 104.0l6.2 -6.2M231.7 102.1v9.2M227.1 106.7h9.2M228.6 103.6l6.2 6.2M228.6 109.8l6.2 -6.2M235.5 99.8v9.2M230.9 104.4h9.2M232.4 101.3l6.2 6.2M232.4 107.5l6.2 -6.2M239.3 106.7v9.2M234.7 111.3h9.2M236.2 108.2l6.2 6.2M236.2 114.4l6.2 -6.2M243.1 102.1v9.2M238.5 106.7h9.2M240.0 103.6l6.2 6.2M240.0 109.8l6.2 -6.2M246.9 96.3v9.2M242.3 100.9h9.2M243.8 97.8l6.2 6.2M243.8 104.0l6.2 -6.2M250.6 95.2v9.2M246.0 99.8h9.2M247.5 96.7l6.2 6.2M247.5 102.8l6.2 -6.2M254.4 94.0v9.2M249.8 98.6h9.2M251.3 95.5l6.2 6.2M251.3 101.7l6.2 -6.2M258.2 94.0v9.2M253.6 98.6h9.2M255.1 95.5l6.2 6.2M255.1 101.7l6.2 -6.2M262.0 87.1v9.2M257.4 91.7h9.2M258.9 88.6l6.2 6.2M258.9 94.8l6.2 -6.2M265.8 97.5v9.2M261.2 102.1h9.2M262.7 99.0l6.2 6.2M262.7 105.2l6.2 -6.2M269.6 109.0v9.2M265.0 113.6h9.2M266.5 110.5l6.2 6.2M266.5 116.7l6.2 -6.2M273.4 106.7v9.2M268.8 111.3h9.2M270.3 108.2l6.2 6.2M270.3 114.4l6.2 -6.2M277.2 111.3v9.2M272.6 115.9h9.2M274.1 112.8l6.2 6.2M274.1 119.0l6.2 -6.2M281.0 122.0v9.2M276.4 126.6h9.2M277.9 123.5l6.2 6.2M277.9 129.7l6.2 -6.2M284.8 126.8v9.2M280.2 131.4h9.2M281.7 128.3l6.2 6.2M281.7 134.5l6.2 -6.2M288.6 130.1v9.2M284.0 134.7h9.2M285.5 131.6l6.2 6.2M285.5 137.8l6.2 -6.2M292.4 134.9v9.2M287.8 139.5h9.2M289.3 136.4l6.2 6.2M289.3 142.6l6.2 -6.2M296.2 137.6v9.2M291.6 142.2h9.2M293.1 139.1l6.2 6.2M293.1 145.3l6.2 -6.2M300.0 140.3v9.2M295.4 144.9h9.2M296.9 141.8l6.2 6.2M296.9 148.0l6.2 -6.2M303.8 139.5v9.2M299.2 144.1h9.2M300.7 141.0l6.2 6.2M300.7 147.2l6.2 -6.2M307.6 138.7v9.2M303.0 143.3h9.2M304.5 140.2l6.2 6.2M304.5 146.4l6.2 -6.2M311.4 142.2v9.2M306.8 146.8h9.2M308.3 143.7l6.2 6.2M308.3 149.9l6.2 -6.2M315.2 143.3v9.2M310.6 147.9h9.2M312.1 144.8l6.2 6.2M312.1 151.0l6.2 -6.2M319.0 145.4v9.2M314.4 150.0h9.2M315.9 146.9l6.2 6.2M315.9 153.1l6.2 -6.2M322.8 147.4v9.2M318.2 152.0h9.2M319.7 148.9l6.2 6.2M319.7 155.1l6.2 -6.2M326.6 149.5v9.2M322.0 154.1h9.2M323.5 151.0l6.2 6.2M323.5 157.2l6.2 -6.2M330.4 155.0v9.2M325.8 159.6h9.2M327.3 156.5l6.2 6.2M327.3 162.7l6.2 -6.2M334.2 141.0v9.2M329.6 145.6h9.2M331.1 142.5l6.2 6.2M331.1 148.7l6.2 -6.2M338.0 140.5v9.2M333.4 145.1h9.2M334.9 142.0l6.2 6.2M334.9 148.2l6.2 -6.2M341.8 139.9v9.2M337.2 144.5h9.2M338.7 141.4l6.2 6.2M338.7 147.6l6.2 -6.2M345.6 137.6v9.2M340.9 142.2h9.2M342.4 139.1l6.2 6.2M342.4 145.3l6.2 -6.2M349.3 138.4v9.2M344.7 143.0h9.2M346.2 139.9l6.2 6.2M346.2 146.1l6.2 -6.2M353.1 141.0v9.2M348.5 145.6h9.2M350.0 142.5l6.2 6.2M350.0 148.7l6.2 -6.2M356.9 144.5v9.2M352.3 149.1h9.2M353.8 146.0l6.2 6.2M353.8 152.2l6.2 -6.2M360.7 146.2v9.2M356.1 150.8h9.2M357.6 147.7l6.2 6.2M357.6 153.9l6.2 -6.2M364.5 147.9v9.2M359.9 152.5h9.2M361.4 149.4l6.2 6.2M361.4 155.6l6.2 -6.2M368.3 152.5v9.2M363.7 157.1h9.2M365.2 154.0l6.2 6.2M365.2 160.2l6.2 -6.2M372.1 149.1v9.2M367.5 153.7h9.2M369.0 150.6l6.2 6.2M369.0 156.8l6.2 -6.2M375.9 135.3v9.2M371.3 139.9h9.2M372.8 136.8l6.2 6.2M372.8 143.0l6.2 -6.2M379.7 134.1v9.2M375.1 138.7h9.2M376.6 135.6l6.2 6.2M376.6 141.8l6.2 -6.2M383.5 131.4v9.2M378.9 136.0h9.2M380.4 132.9l6.2 6.2M380.4 139.1l6.2 -6.2M387.3 129.9v9.2M382.7 134.5h9.2M384.2 131.4l6.2 6.2M384.2 137.6l6.2 -6.2M391.1 128.4v9.2M386.5 133.0h9.2M388.0 129.9l6.2 6.2M388.0 136.1l6.2 -6.2M394.9 131.8v9.2M390.3 136.4h9.2M391.8 133.3l6.2 6.2M391.8 139.5l6.2 -6.2M398.7 128.4v9.2M394.1 133.0h9.2M395.6 129.9l6.2 6.2M395.6 136.1l6.2 -6.2M402.5 126.1v9.2M397.9 130.7h9.2M399.4 127.6l6.2 6.2M399.4 133.8l6.2 -6.2M406.3 119.3v9.2M401.7 123.9h9.2M403.2 120.8l6.2 6.2M403.2 127.0l6.2 -6.2M410.1 119.6v9.2M405.5 124.2h9.2M407.0 121.1l6.2 6.2M407.0 127.3l6.2 -6.2M413.9 119.9v9.2M409.3 124.5h9.2M410.8 121.4l6.2 6.2M410.8 127.6l6.2 -6.2M417.7 119.9v9.2M413.1 124.5h9.2M414.6 121.4l6.2 6.2M414.6 127.6l6.2 -6.2M421.5 122.5v9.2M416.9 127.1h9.2M418.4 124.0l6.2 6.2M418.4 130.2l6.2 -6.2M425.3 118.4v9.2M420.7 123.0h9.2M422.2 119.9l6.2 6.2M422.2 126.1l6.2 -6.2M429.1 116.6v9.2M424.5 121.2h9.2M426.0 118.1l6.2 6.2M426.0 124.3l6.2 -6.2M432.9 114.8v9.2M428.3 119.4h9.2M429.8 116.3l6.2 6.2M429.8 122.5l6.2 -6.2M436.7 115.4v9.2M432.1 120.0h9.2M433.6 116.9l6.2 6.2M433.6 123.1l6.2 -6.2M440.4 119.9v9.2M435.8 124.5h9.2M437.3 121.4l6.2 6.2M437.3 127.6l6.2 -6.2M444.2 123.7v9.2M439.6 128.3h9.2M441.1 125.2l6.2 6.2M441.1 131.4l6.2 -6.2M448.0 125.0v9.2M443.4 129.6h9.2M444.9 126.5l6.2 6.2M444.9 132.7l6.2 -6.2M451.8 126.3v9.2M447.2 130.9h9.2M448.7 127.8l6.2 6.2M448.7 134.0l6.2 -6.2M455.6 120.4v9.2M451.0 125.0h9.2M452.5 121.9l6.2 6.2M452.5 128.1l6.2 -6.2M459.4 113.6v9.2M454.8 118.2h9.2M456.3 115.1l6.2 6.2M456.3 121.3l6.2 -6.2M463.2 117.0v9.2M458.6 121.6h9.2M460.1 118.5l6.2 6.2M460.1 124.7l6.2 -6.2M467.0 120.4v9.2M462.4 125.0h9.2M463.9 121.9l6.2 6.2M463.9 128.1l6.2 -6.2M470.8 127.6v9.2M466.2 132.2h9.2M467.7 129.1l6.2 6.2M467.7 135.3l6.2 -6.2M474.6 127.6v9.2M470.0 132.2h9.2M471.5 129.1l6.2 6.2M471.5 135.3l6.2 -6.2M478.4 120.4v9.2M473.8 125.0h9.2M475.3 121.9l6.2 6.2M475.3 128.1l6.2 -6.2M482.2 117.0v9.2M477.6 121.6h9.2M479.1 118.5l6.2 6.2M479.1 124.7l6.2 -6.2M486.0 113.6v9.2M481.4 118.2h9.2M482.9 115.1l6.2 6.2M482.9 121.3l6.2 -6.2M489.8 107.4v9.2M485.2 112.0h9.2M486.7 108.9l6.2 6.2M486.7 115.1l6.2 -6.2M493.6 103.4v9.2M489.0 108.0h9.2M490.5 104.9l6.2 6.2M490.5 111.1l6.2 -6.2M497.4 98.4v9.2M492.8 103.0h9.2M494.3 99.9l6.2 6.2M494.3 106.1l6.2 -6.2M501.2 94.5v9.2M496.6 99.1h9.2M498.1 96.0l6.2 6.2M498.1 102.2l6.2 -6.2M505.0 85.4v9.2M500.4 90.0h9.2M501.9 86.9l6.2 6.2M501.9 93.1l6.2 -6.2M508.8 74.5v9.2M504.2 79.1h9.2M505.7 76.0l6.2 6.2M505.7 82.2l6.2 -6.2M512.6 72.1v9.2M508.0 76.7h9.2M509.5 73.6l6.2 6.2M509.5 79.8l6.2 -6.2M516.4 69.6v9.2M511.8 74.2h9.2M513.3 71.1l6.2 6.2M513.3 77.3l6.2 -6.2M520.2 69.4v9.2M515.6 74.0h9.2M517.1 70.9l6.2 6.2M517.1 77.1l6.2 -6.2M524.0 69.6v9.2M519.4 74.2h9.2M520.9 71.1l6.2 6.2M520.9 77.3l6.2 -6.2M527.8 69.0v9.2M523.2 73.6h9.2M524.7 70.5l6.2 6.2M524.7 76.7l6.2 -6.2M531.6 68.4v9.2M527.0 73.0h9.2M528.5 69.9l6.2 6.2M528.5 76.1l6.2 -6.2M535.4 70.8v9.2M530.8 75.4h9.2M532.2 72.3l6.2 6.2M532.2 78.5l6.2 -6.2" stroke="#77ac30" stroke-width="0.9"/>
</g>
<text class="tk" x="60.85" y="403.5" text-anchor="middle">0</text>
<text class="tk" x="155.75" y="403.5" text-anchor="middle">2</text>
<text class="tk" x="250.65" y="403.5" text-anchor="middle">4</text>
<text class="tk" x="345.55" y="403.5" text-anchor="middle">6</text>
<text class="tk" x="440.45" y="403.5" text-anchor="middle">8</text>
<text class="tk" x="535.35" y="403.5" text-anchor="middle">10</text>
<text class="tk" x="55" y="15.40" text-anchor="end">2</text>
<text class="tk" x="55" y="52.80" text-anchor="end">1.5</text>
<text class="tk" x="55" y="90.20" text-anchor="end">1</text>
<text class="tk" x="55" y="127.60" text-anchor="end">0.5</text>
<text class="tk" x="55" y="165.00" text-anchor="end">0</text>
<text class="tk" x="55" y="202.40" text-anchor="end">0.5</text>
<text class="tk" x="37.10" y="202.90" text-anchor="end" textLength="10.2" lengthAdjust="spacingAndGlyphs">&#8722;</text>
<text class="tk" x="55" y="239.80" text-anchor="end">1</text>
<text class="tk" x="47.60" y="240.30" text-anchor="end" textLength="10.2" lengthAdjust="spacingAndGlyphs">&#8722;</text>
<text class="tk" x="55" y="277.20" text-anchor="end">1.5</text>
<text class="tk" x="37.10" y="277.70" text-anchor="end" textLength="10.2" lengthAdjust="spacingAndGlyphs">&#8722;</text>
<text class="tk" x="55" y="314.60" text-anchor="end">2</text>
<text class="tk" x="47.60" y="315.10" text-anchor="end" textLength="10.2" lengthAdjust="spacingAndGlyphs">&#8722;</text>
<text class="tk" x="55" y="352.00" text-anchor="end">2.5</text>
<text class="tk" x="37.10" y="352.50" text-anchor="end" textLength="10.2" lengthAdjust="spacingAndGlyphs">&#8722;</text>
<text class="tk" x="55" y="389.40" text-anchor="end">3</text>
<text class="tk" x="47.60" y="389.90" text-anchor="end" textLength="10.2" lengthAdjust="spacingAndGlyphs">&#8722;</text>
<text x="298" y="426.7" text-anchor="middle" font-family="Liberation Sans, sans-serif" font-size="16" fill="#262626">Time(sec)</text>
<text transform="translate(15.7,198.6) rotate(-90)" text-anchor="middle" font-family="Liberation Serif, serif" font-size="16.6" fill="#262626" stroke="#262626" stroke-width="0.2" textLength="229" lengthAdjust="spacing">Ten stochastic disturbance paths</text>
<rect x="285.2" y="190.0" width="95.3" height="176.7" fill="#fff" stroke="#7a7a7a" stroke-width="1.3"/>
<path d="M289 200.60H332.4" stroke="#ff0000" stroke-width="0.85" fill="none"/>
<path d="M310.7 196.2v8.8M306.3 200.6h8.8M307.7 197.6l6.0 6.0M307.7 203.6l6.0 -6.0" stroke="#ff0000" stroke-width="0.85" fill="none"/>
<text class="lg" x="336.6" y="205.30">path1</text>
<path d="M289 217.91H332.4" stroke="#0000ff" stroke-width="0.85" fill="none"/>
<path d="M310.7 213.5v8.8M306.3 217.9h8.8M307.7 214.9l6.0 6.0M307.7 220.9l6.0 -6.0" stroke="#0000ff" stroke-width="0.85" fill="none"/>
<text class="lg" x="336.6" y="222.72">path2</text>
<path d="M289 235.22H332.4" stroke="#00ffff" stroke-width="0.85" fill="none"/>
<path d="M310.7 230.8v8.8M306.3 235.2h8.8M307.7 232.2l6.0 6.0M307.7 238.2l6.0 -6.0" stroke="#00ffff" stroke-width="0.85" fill="none"/>
<text class="lg" x="336.6" y="240.14">path3</text>
<path d="M289 252.53H332.4" stroke="#ff00ff" stroke-width="0.85" fill="none"/>
<path d="M310.7 248.1v8.8M306.3 252.5h8.8M307.7 249.5l6.0 6.0M307.7 255.5l6.0 -6.0" stroke="#ff00ff" stroke-width="0.85" fill="none"/>
<text class="lg" x="336.6" y="257.56">path4</text>
<path d="M289 269.84H332.4" stroke="#00ff00" stroke-width="0.85" fill="none"/>
<path d="M310.7 265.4v8.8M306.3 269.8h8.8M307.7 266.8l6.0 6.0M307.7 272.8l6.0 -6.0" stroke="#00ff00" stroke-width="0.85" fill="none"/>
<text class="lg" x="336.6" y="274.98">path5</text>
<path d="M289 287.15H332.4" stroke="#ffff00" stroke-width="0.85" fill="none"/>
<path d="M310.7 282.8v8.8M306.3 287.1h8.8M307.7 284.1l6.0 6.0M307.7 290.1l6.0 -6.0" stroke="#ffff00" stroke-width="0.85" fill="none"/>
<text class="lg" x="336.6" y="292.40">path6</text>
<path d="M289 304.46H332.4" stroke="#edb120" stroke-width="0.85" fill="none"/>
<path d="M310.7 300.1v8.8M306.3 304.5h8.8M307.7 301.5l6.0 6.0M307.7 307.5l6.0 -6.0" stroke="#edb120" stroke-width="0.85" fill="none"/>
<text class="lg" x="336.6" y="309.82">path7</text>
<path d="M289 321.77H332.4" stroke="#7e2f8e" stroke-width="0.85" fill="none"/>
<path d="M310.7 317.4v8.8M306.3 321.8h8.8M307.7 318.8l6.0 6.0M307.7 324.8l6.0 -6.0" stroke="#7e2f8e" stroke-width="0.85" fill="none"/>
<text class="lg" x="336.6" y="327.24">path8</text>
<path d="M289 339.08H332.4" stroke="#4dbeee" stroke-width="0.85" fill="none"/>
<path d="M310.7 334.7v8.8M306.3 339.1h8.8M307.7 336.1l6.0 6.0M307.7 342.1l6.0 -6.0" stroke="#4dbeee" stroke-width="0.85" fill="none"/>
<text class="lg" x="336.6" y="344.66">path9</text>
<path d="M289 356.39H332.4" stroke="#77ac30" stroke-width="0.85" fill="none"/>
<path d="M310.7 352.0v8.8M306.3 356.4h8.8M307.7 353.4l6.0 6.0M307.7 359.4l6.0 -6.0" stroke="#77ac30" stroke-width="0.85" fill="none"/>
<text class="lg" x="336.6" y="362.08">path10</text>
</svg></body></html>
